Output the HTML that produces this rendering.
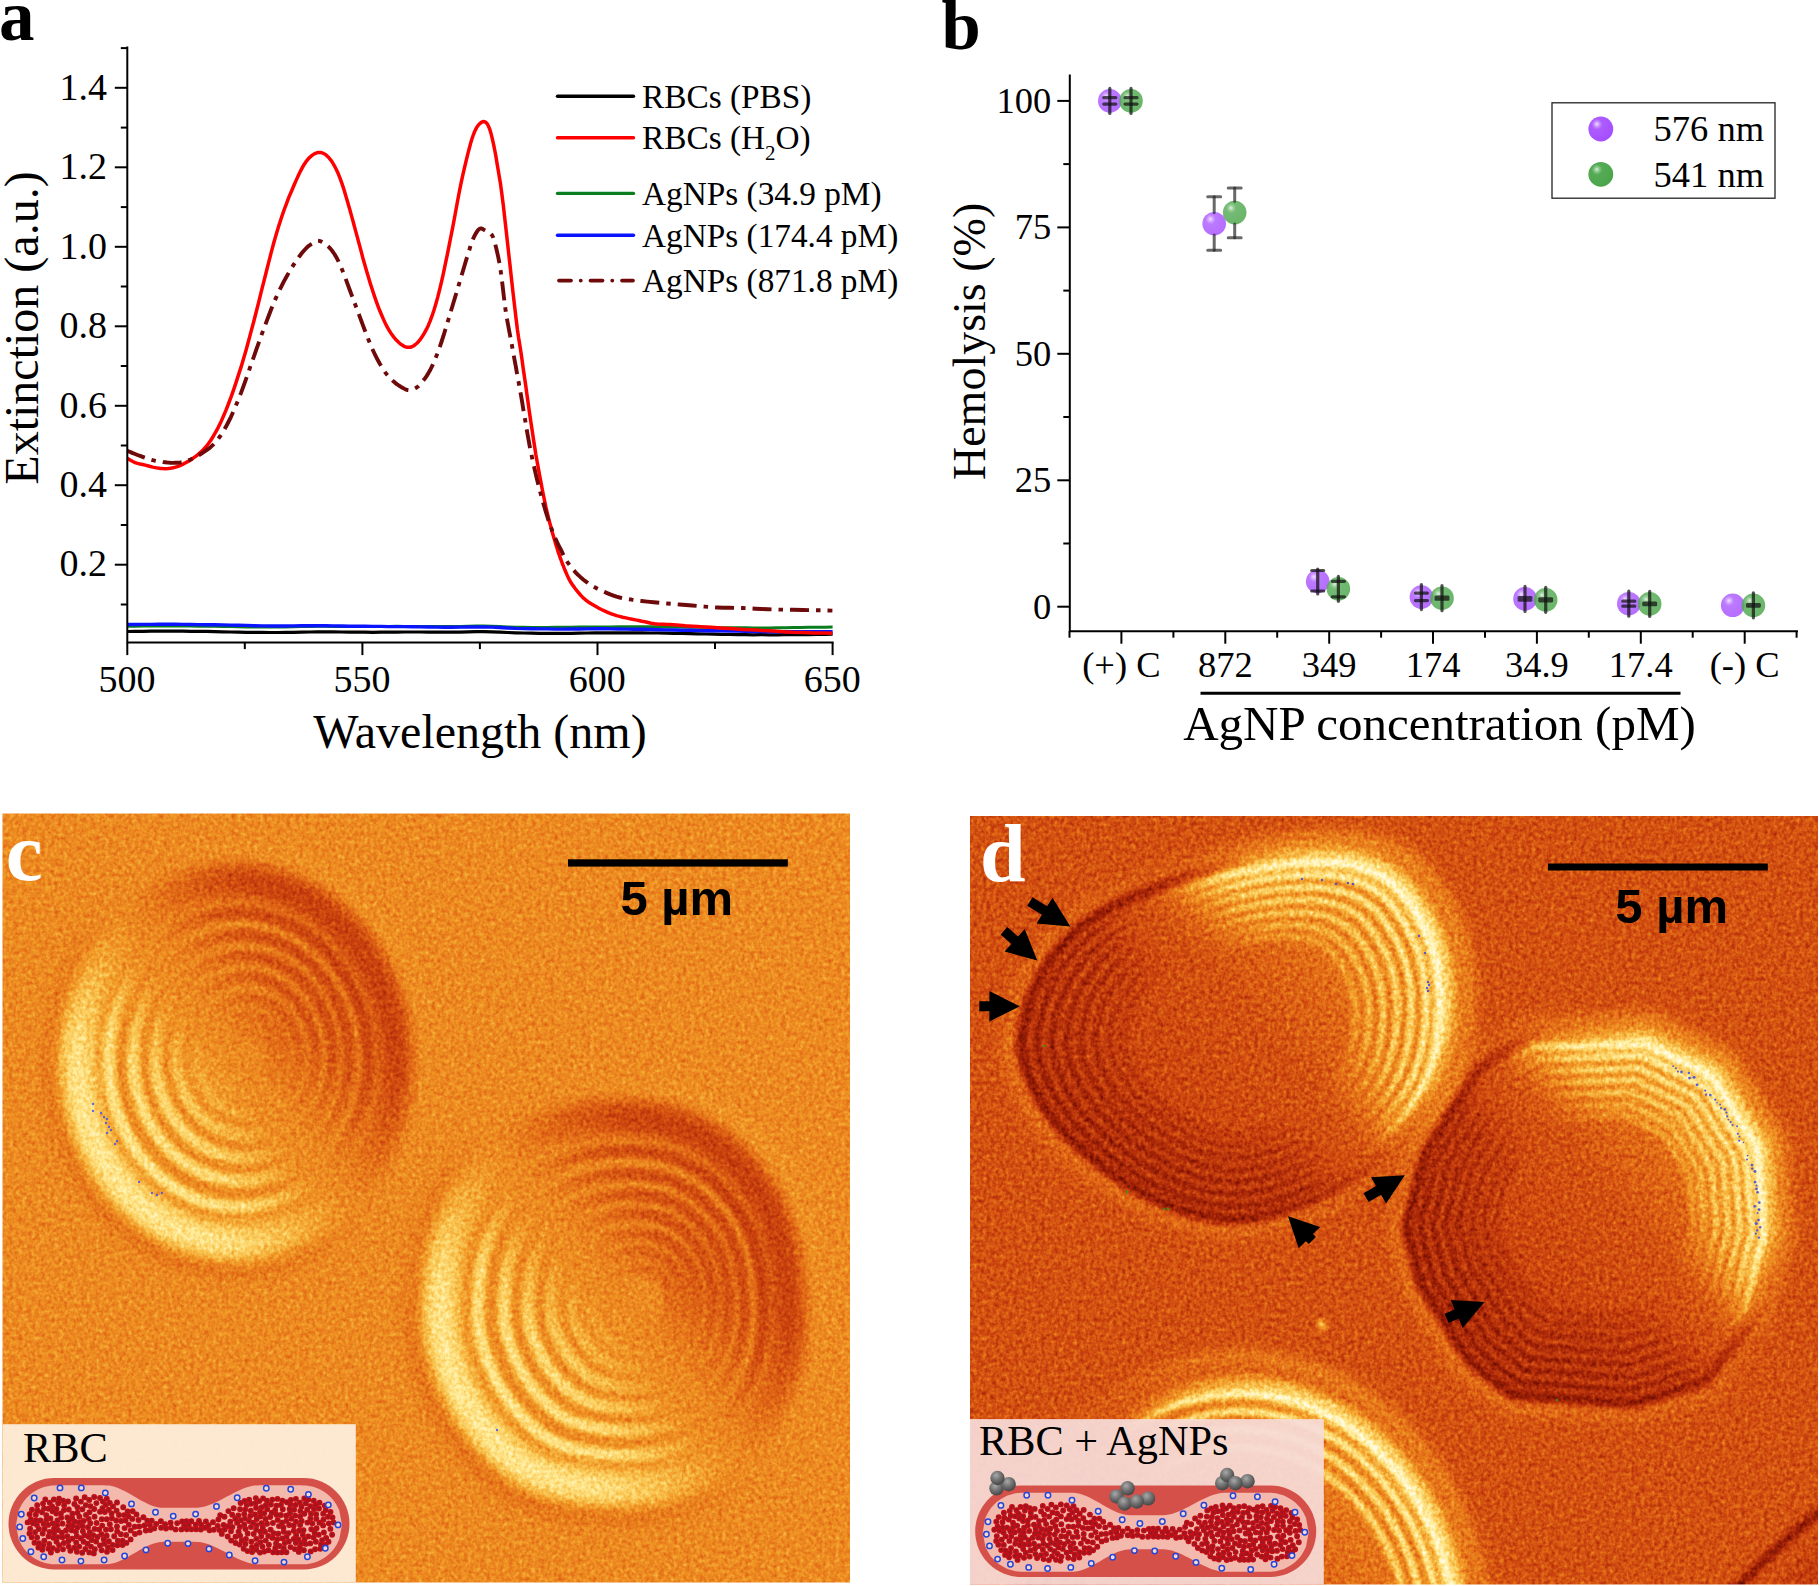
<!DOCTYPE html>
<html lang="en"><head><meta charset="utf-8"><title>Figure: hemolysis and RBC imaging with AgNPs</title>
<style>html,body{margin:0;padding:0;background:#fff}svg{display:block}</style></head>
<body>
<svg width="1820" height="1586" viewBox="0 0 1820 1586">
<rect width="1820" height="1586" fill="#fff"/>
<!-- panel a -->
<g fill="none" stroke-linejoin="round" stroke-linecap="butt">
<path d="M127.3,631.5 L135.2,631.4 L143.1,631.4 L151.1,631.2 L159,631.2 L166.9,631.2 L174.8,631.2 L182.8,631.2 L190.7,631.3 L198.6,631.4 L206.5,631.4 L214.5,631.6 L222.4,631.8 L230.3,632 L238.2,632.2 L246.2,632.3 L254.1,632.4 L262,632.4 L269.9,632.5 L277.9,632.5 L285.8,632.4 L293.7,632.3 L301.6,632.2 L309.6,632 L317.5,631.9 L325.4,631.8 L333.3,631.9 L341.3,632 L349.2,632.1 L357.1,632.1 L365,632.2 L373,632.3 L380.9,632.2 L388.8,632.2 L396.7,632.1 L404.7,632 L412.6,632 L420.5,632 L428.4,632.2 L436.4,632.2 L444.3,632.2 L452.2,632.2 L460.1,632.1 L468.1,631.9 L476,631.7 L483.9,631.6 L491.8,631.8 L499.8,632.2 L507.7,632.5 L515.6,632.8 L523.5,633 L531.5,633.2 L539.4,633.3 L547.3,633.3 L555.2,633.4 L563.2,633.3 L571.1,633.3 L579,633.1 L586.9,633 L594.9,632.8 L602.8,632.8 L610.7,632.9 L618.6,632.8 L626.6,632.9 L634.5,632.9 L642.4,632.9 L650.3,633 L658.3,633 L666.2,633.2 L674.1,633.4 L682,633.5 L690,633.7 L697.9,633.8 L705.8,634 L713.7,634.2 L721.7,634.4 L729.6,634.5 L737.5,634.7 L745.4,634.6 L753.4,634.8 L761.3,634.7 L769.2,634.8 L777.1,634.8 L785.1,634.7 L793,634.7 L800.9,634.7 L808.8,634.6 L816.8,634.5 L824.7,634.3 L832.6,634.1" stroke="#000" stroke-width="3.2"/>
<path d="M127.3,626.3 L135.2,626.2 L143.1,626.1 L151.1,626 L159,626 L166.9,625.9 L174.8,626 L182.8,625.9 L190.7,626 L198.6,626.2 L206.5,626.3 L214.5,626.3 L222.4,626.4 L230.3,626.6 L238.2,626.8 L246.2,626.9 L254.1,627 L262,627 L269.9,627.1 L277.9,627.1 L285.8,627 L293.7,626.8 L301.6,626.6 L309.6,626.5 L317.5,626.3 L325.4,626.3 L333.3,626.4 L341.3,626.5 L349.2,626.5 L357.1,626.6 L365,626.6 L373,626.6 L380.9,626.5 L388.8,626.4 L396.7,626.3 L404.7,626.4 L412.6,626.4 L420.5,626.4 L428.4,626.4 L436.4,626.5 L444.3,626.5 L452.2,626.6 L460.1,626.5 L468.1,626.3 L476,626.1 L483.9,626.1 L491.8,626.2 L499.8,626.6 L507.7,627 L515.6,627.2 L523.5,627.3 L531.5,627.4 L539.4,627.4 L547.3,627.4 L555.2,627.3 L563.2,627.3 L571.1,627.2 L579,627.1 L586.9,627.1 L594.9,627 L602.8,626.9 L610.7,626.9 L618.6,626.8 L626.6,626.7 L634.5,626.7 L642.4,626.7 L650.3,626.7 L658.3,626.8 L666.2,626.9 L674.1,627 L682,627.1 L690,627.2 L697.9,627.3 L705.8,627.3 L713.7,627.6 L721.7,627.7 L729.6,627.7 L737.5,627.8 L745.4,627.8 L753.4,627.9 L761.3,627.9 L769.2,627.9 L777.1,627.8 L785.1,627.7 L793,627.6 L800.9,627.5 L808.8,627.3 L816.8,627.2 L824.7,627.2 L832.6,627.1" stroke="#0a7d1e" stroke-width="3"/>
<path d="M127.3,624.5 L135.2,624.5 L143.1,624.4 L151.1,624.4 L159,624.3 L166.9,624.3 L174.8,624.3 L182.8,624.4 L190.7,624.5 L198.6,624.6 L206.5,624.7 L214.5,624.8 L222.4,624.9 L230.3,625.1 L238.2,625.3 L246.2,625.4 L254.1,625.7 L262,625.9 L269.9,626 L277.9,626 L285.8,626 L293.7,625.9 L301.6,625.8 L309.6,625.7 L317.5,625.7 L325.4,625.8 L333.3,625.9 L341.3,626 L349.2,626.2 L357.1,626.3 L365,626.3 L373,626.4 L380.9,626.4 L388.8,626.6 L396.7,626.6 L404.7,626.6 L412.6,626.8 L420.5,626.9 L428.4,627 L436.4,627.1 L444.3,627.2 L452.2,627.2 L460.1,627.1 L468.1,627 L476,626.9 L483.9,627 L491.8,627.1 L499.8,627.5 L507.7,628 L515.6,628.4 L523.5,628.6 L531.5,628.8 L539.4,628.9 L547.3,628.9 L555.2,629.1 L563.2,629.1 L571.1,629 L579,629 L586.9,628.9 L594.9,628.8 L602.8,628.8 L610.7,628.9 L618.6,629 L626.6,629.1 L634.5,629.2 L642.4,629.3 L650.3,629.5 L658.3,629.7 L666.2,629.9 L674.1,630 L682,630.3 L690,630.3 L697.9,630.5 L705.8,630.7 L713.7,630.8 L721.7,630.9 L729.6,631 L737.5,631.1 L745.4,631.4 L753.4,631.5 L761.3,631.6 L769.2,631.7 L777.1,631.7 L785.1,631.8 L793,631.8 L800.9,631.8 L808.8,631.7 L816.8,631.7 L824.7,631.7 L832.6,631.6" stroke="#0a14ff" stroke-width="3.4"/>
<path d="M127.1,458.3 L128.5,459.1 L130.5,460.3 L132.8,461.5 L135.1,462.6 L137.5,463.4 L140.1,464 L142.7,464.5 L145.2,465.1 L147.7,465.8 L150.3,466.5 L152.8,467.1 L155.3,467.6 L157.8,468.1 L160.4,468.4 L162.9,468.6 L165.4,468.7 L167.9,468.5 L170.4,468.2 L173,467.8 L175.5,467.1 L178,466.3 L180.5,465.3 L183.1,464.1 L185.6,462.8 L188.1,461.4 L190.6,459.9 L193.1,458.2 L195.7,456.3 L198.2,454.3 L200.7,452.2 L203.2,449.8 L205.8,447 L208.3,443.7 L210.8,440.2 L213.3,436.2 L215.8,431.8 L218.4,427.1 L220.9,421.9 L223.4,416.3 L225.9,410.4 L228.4,404 L231,397.2 L233.5,390.1 L236,382.6 L238.5,374.9 L241.1,366.9 L243.6,358.5 L246.1,349.9 L248.6,340.8 L251.1,331.4 L253.7,321.8 L256.2,312 L258.7,302.1 L261.2,291.9 L263.8,281.6 L266.3,271.7 L268.8,261.9 L271.3,252.1 L273.8,242.7 L276.4,233.8 L278.9,225.6 L281.4,217.8 L283.9,210.5 L286.5,203.6 L289,196.9 L291.7,190.7 L294.2,184.8 L296.5,179.6 L298.6,175.1 L300.5,171.1 L302.3,167.6 L304.1,164.5 L306,161.7 L307.9,159.3 L309.8,157.3 L311.7,155.7 L313.6,154.3 L315.5,153.3 L317.4,152.6 L319.2,152.4 L321.1,152.6 L323,153.2 L324.9,154.2 L326.8,155.7 L328.7,157.5 L330.6,159.8 L332.5,162.5 L334.4,165.8 L336.3,169.5 L338.2,173.6 L340.1,178.3 L341.9,183.4 L343.8,189.1 L345.7,195.4 L347.6,202 L349.5,208.6 L351.4,215.4 L353.3,222.3 L355.2,229.4 L357.1,236.4 L359,243.4 L360.9,250.4 L362.7,257.4 L364.6,264.1 L366.5,270.7 L368.4,277.1 L370.3,283.4 L372.2,289.3 L374.1,295.1 L376,300.6 L377.9,305.9 L379.8,310.8 L381.7,315.3 L383.6,319.6 L385.4,323.5 L387.3,327.2 L389.2,330.5 L391.1,333.4 L393,336.1 L394.9,338.5 L396.8,340.6 L398.8,342.5 L400.7,344.1 L402.5,345.3 L404.1,346.3 L405.7,346.9 L407.2,347.3 L408.8,347.3 L410.3,347.2 L411.9,346.8 L413.4,346 L415.1,344.8 L416.9,343.2 L418.8,341.2 L420.7,338.8 L422.6,336 L424.5,332.9 L426.4,329.4 L428.3,325.4 L430.2,320.9 L432.1,315.7 L434,310 L435.9,303.7 L437.8,296.9 L439.7,289.4 L441.6,281.4 L443.5,272.9 L445.3,264.1 L447.2,255.1 L449.1,245.7 L451,236 L452.9,226.3 L454.8,216.2 L456.7,205.8 L458.6,195.5 L460.5,185.9 L462.4,176.8 L464.4,168.1 L466.3,160.1 L468,153.1 L469.5,147.5 L470.7,142.9 L471.9,139 L473.1,135.5 L474.3,132.3 L475.6,129.6 L476.8,127.3 L478.1,125.4 L479.6,123.8 L481,122.6 L482.5,121.8 L483.9,121.6 L485.2,122 L486.4,122.9 L487.6,124.4 L488.7,126.7 L489.9,129.7 L491,133.4 L492.1,137.9 L493.3,143.1 L494.5,149 L495.8,155.7 L497,163.1 L498.3,170.8 L499.4,177.4 L500.4,183.3 L501.6,191.9 L503.4,206.1 L506.1,230 L509.5,260.8 L512.9,291.6 L515.7,315.5 L517.4,329.5 L518.6,337.8 L519.6,343.7 L520.7,350.8 L522,359.6 L523.2,368.4 L524.5,377.3 L525.8,386.1 L527,395 L528.3,403.9 L529.5,412.8 L530.8,421.4 L532.1,429.9 L533.3,438.3 L534.6,446.4 L535.8,454.2 L537.1,461.5 L538.4,468.5 L539.6,475.3 L540.9,481.9 L542.1,488.5 L543.4,495 L544.7,501.3 L545.9,507.2 L547.2,512.6 L548.4,517.7 L549.7,522.6 L551,527.3 L552.2,532 L553.5,536.5 L554.8,540.8 L556,545 L557.3,549 L558.5,552.9 L559.8,556.6 L561.1,560.1 L562.3,563.5 L563.6,566.7 L564.8,569.8 L566.1,572.7 L567.3,575.4 L568.5,577.9 L569.7,580.4 L571.1,582.8 L572.9,585.4 L574.8,588 L576.8,590.6 L578.7,592.9 L580.5,595 L582.3,596.9 L584.2,598.7 L586.3,600.5 L588.6,602.2 L591.2,603.8 L593.8,605.3 L596.4,606.8 L598.9,608.2 L601.4,609.5 L603.9,610.7 L606.5,611.8 L608.9,612.9 L611.3,613.8 L613.8,614.7 L616.5,615.6 L619.5,616.4 L622.7,617.2 L625.9,617.9 L629.2,618.6 L632.3,619.3 L635.5,619.9 L638.6,620.5 L641.8,621.2 L644.9,621.8 L648.1,622.5 L651.2,623.2 L654.4,623.7 L657.5,624 L660.7,624.2 L663.8,624.3 L667,624.4 L670.1,624.6 L673.3,624.8 L676.4,625 L679.6,625.2 L682.5,625.4 L685.1,625.7 L688.2,625.9 L692.2,626.2 L697.6,626.5 L704,626.9 L710.8,627.3 L717.4,627.7 L723.7,628.2 L730,628.6 L736.3,629.1 L742.6,629.5 L749,629.8 L755.3,630.1 L761.6,630.4 L767.9,630.7 L773.8,631.1 L779.6,631.5 L785.8,631.9 L793.1,632.3 L802.9,632.6 L814.3,632.9 L825,633.1 L832.4,633.3" stroke="#ff0000" stroke-width="3.5"/>
<path d="M127.1,450.7 L128.5,451.3 L130.5,452.1 L132.8,453.1 L135.1,454 L137.5,455 L140.1,455.9 L142.7,456.9 L145.2,457.8 L147.7,458.7 L150.3,459.5 L152.8,460.2 L155.3,460.8 L157.8,461.3 L160.4,461.7 L162.9,462.1 L165.4,462.3 L167.9,462.6 L170.4,462.8 L173,462.9 L175.5,462.8 L178,462.7 L180.5,462.4 L183.1,462 L185.6,461.3 L188.1,460.5 L190.6,459.5 L193.1,458.3 L195.7,457 L198.2,455.7 L200.7,454.2 L203.2,452.5 L205.8,450.7 L208.3,448.9 L210.8,446.9 L213.3,444.6 L215.8,441.9 L218.4,438.7 L220.9,435.1 L223.4,431.2 L225.9,426.8 L228.4,422 L231,416.8 L233.5,411.2 L236,405.3 L238.5,399.1 L241.1,392.6 L243.6,385.8 L246.1,378.9 L248.6,371.8 L251.1,364.4 L253.7,357.1 L256.2,349.9 L258.7,342.8 L261.2,335.8 L263.8,328.8 L266.3,322.1 L268.8,315.5 L271.3,309 L273.8,302.8 L276.4,296.9 L278.9,291.4 L281.4,286.3 L283.9,281.4 L286.5,276.7 L289,272.3 L291.5,268.1 L294,264.1 L296.5,260.3 L299.1,256.7 L301.7,253.3 L304.3,250.2 L306.6,247.7 L308.8,245.8 L310.7,244.5 L312.5,243.5 L314.2,242.7 L315.6,241.9 L316.7,241.2 L317.9,240.8 L319.2,240.9 L321,241.4 L322.9,242.4 L324.9,243.7 L326.8,245.2 L328.7,246.9 L330.6,248.9 L332.5,251.3 L334.4,254 L336.3,257.2 L338.2,260.9 L340.1,264.9 L341.9,269.2 L343.8,273.8 L345.7,278.9 L347.6,284.2 L349.5,289.3 L351.4,294.4 L353.3,299.4 L355.2,304.5 L357.1,309.5 L359,314.6 L360.9,319.7 L362.7,324.7 L364.6,329.7 L366.5,334.6 L368.4,339.5 L370.3,344.2 L372.2,348.6 L374.1,352.7 L376,356.6 L377.9,360.3 L379.8,363.7 L381.7,366.9 L383.6,369.9 L385.4,372.6 L387.3,375.1 L389.2,377.3 L391.1,379.3 L393,381 L394.9,382.6 L396.8,384.1 L398.8,385.5 L400.7,386.7 L402.5,387.7 L404.1,388.6 L405.6,389.4 L407.1,390 L408.8,390.2 L410.6,390 L412.6,389.5 L414.5,388.7 L416.3,387.7 L418,386.5 L419.5,385.1 L421,383.4 L422.6,381.4 L424.5,379.1 L426.4,376.4 L428.3,373.4 L430.2,370 L432.1,366.2 L434,361.9 L435.9,357.3 L437.8,352.4 L439.7,347.1 L441.6,341.5 L443.5,335.7 L445.3,329.7 L447.2,323.6 L449.1,317.2 L451,310.8 L452.9,304.5 L454.8,298.2 L456.7,291.9 L458.6,285.5 L460.5,279.2 L462.4,272.7 L464.4,266 L466.3,259.6 L468,254 L469.5,249.4 L470.6,245.5 L471.8,242.1 L473.1,238.9 L474.6,235.7 L476.2,232.8 L477.8,230.4 L479.4,228.8 L481,228.4 L482.5,228.9 L484.1,229.9 L485.7,230.8 L487.3,231.6 L489,232.4 L490.6,233.5 L492,235.1 L493.1,237.1 L494,239.5 L494.8,242.5 L495.8,246.5 L497,251.5 L498.3,257.4 L499.6,264.1 L500.8,271.7 L502,280.7 L503.2,290.9 L504.4,301.2 L505.6,310.4 L506.8,318.2 L508.1,325 L509.3,331.5 L510.6,338.2 L511.9,345.1 L513.1,352.1 L514.4,359 L515.7,365.9 L516.9,372.8 L518.2,379.6 L519.4,386.6 L520.7,393.7 L522,401.1 L523.2,408.8 L524.5,416.5 L525.8,423.9 L527,431.2 L528.3,438.3 L529.5,445.2 L530.8,451.7 L532.1,457.8 L533.3,463.5 L534.6,469 L535.8,474.4 L537.1,479.7 L538.4,484.8 L539.6,489.7 L540.9,494.6 L542.1,499.2 L543.4,503.7 L544.7,508 L545.9,512.2 L547.2,516.2 L548.4,520.1 L549.7,523.8 L551,527.3 L552.2,530.7 L553.5,534 L554.8,537 L556,539.9 L557.3,542.6 L558.5,545.2 L559.8,547.6 L561.1,550 L562.3,552.6 L563.4,555.1 L564.7,557.6 L566.1,560.1 L567.8,562.7 L569.7,565.3 L571.7,567.9 L573.7,570.2 L575.5,572.3 L577.3,574.2 L579.2,575.9 L581.2,577.8 L583.5,579.7 L586,581.6 L588.6,583.5 L591.3,585.3 L594.3,587 L597.5,588.7 L600.7,590.2 L603.9,591.7 L607.1,593.1 L610.2,594.4 L613.4,595.6 L616.5,596.7 L619.7,597.5 L622.8,598.2 L626,598.7 L629.2,599.2 L632,599.7 L634.7,600.1 L637.7,600.5 L641.8,601 L647.2,601.6 L653.6,602.2 L660.4,602.9 L667,603.5 L673.3,604 L679.6,604.5 L685.9,605 L692.2,605.5 L698.5,606.1 L704.8,606.6 L711.1,607.1 L717.4,607.5 L723.7,607.8 L730,607.8 L736.3,607.9 L742.6,608 L749,608.3 L755.3,608.7 L761.6,609 L767.9,609.3 L773.8,609.5 L779.6,609.6 L785.8,609.7 L793.1,609.8 L802.9,610 L814.3,610.2 L825,610.4 L832.4,610.6" stroke="#6e0a0a" stroke-width="3.9" stroke-dasharray="19,7,4.5,7"/>
</g>
<g stroke="#000" stroke-width="2" fill="none">
<path d="M127.3,46.5 V642.6 H833.6"/>
<path d="M127.3,604.5 h-6.5"/>
<path d="M127.3,564.7 h-12.5"/>
<path d="M127.3,525 h-6.5"/>
<path d="M127.3,485.2 h-12.5"/>
<path d="M127.3,445.5 h-6.5"/>
<path d="M127.3,405.8 h-12.5"/>
<path d="M127.3,366 h-6.5"/>
<path d="M127.3,326.3 h-12.5"/>
<path d="M127.3,286.5 h-6.5"/>
<path d="M127.3,246.8 h-12.5"/>
<path d="M127.3,207.1 h-6.5"/>
<path d="M127.3,167.3 h-12.5"/>
<path d="M127.3,127.6 h-6.5"/>
<path d="M127.3,87.8 h-12.5"/>
<path d="M127.3,48.1 h-6.5"/>
<path d="M127.3,642.6 v12.5"/>
<path d="M244.8,642.6 v6.5"/>
<path d="M362.4,642.6 v12.5"/>
<path d="M479.9,642.6 v6.5"/>
<path d="M597.5,642.6 v12.5"/>
<path d="M715,642.6 v6.5"/>
<path d="M832.6,642.6 v12.5"/>
</g>
<g font-family="'Liberation Serif','Times New Roman',serif" font-size="38" fill="#000">
<text x="107" y="576.4" text-anchor="end">0.2</text>
<text x="107" y="496.9" text-anchor="end">0.4</text>
<text x="107" y="417.5" text-anchor="end">0.6</text>
<text x="107" y="338" text-anchor="end">0.8</text>
<text x="107" y="258.5" text-anchor="end">1.0</text>
<text x="107" y="179" text-anchor="end">1.2</text>
<text x="107" y="99.5" text-anchor="end">1.4</text>
<text x="127" y="692" text-anchor="middle">500</text>
<text x="362.1" y="692" text-anchor="middle">550</text>
<text x="597.2" y="692" text-anchor="middle">600</text>
<text x="832.3" y="692" text-anchor="middle">650</text>
</g>
<text x="480" y="748" text-anchor="middle" font-family="'Liberation Serif','Times New Roman',serif" font-size="48">Wavelength (nm)</text>
<text transform="translate(37.5,328) rotate(-90)" text-anchor="middle" font-family="'Liberation Serif','Times New Roman',serif" font-size="48">Extinction (a.u.)</text>
<text x="-1" y="40" font-family="'Liberation Serif','Times New Roman',serif" font-size="71" font-weight="bold">a</text>
<g stroke-width="3.4" fill="none" stroke-linecap="round">
<path d="M557.5,96.2 H633.5" stroke="#000"/>
<path d="M557.5,137.7 H633.5" stroke="#ff0000"/>
<path d="M557.5,193.4 H633.5" stroke="#0a7d1e"/>
<path d="M557.5,235.2 H633.5" stroke="#0a14ff"/>
<path d="M559,280.6 H633" stroke="#6e0a0a" stroke-width="3.8" stroke-dasharray="12,9.7,0.1,9.7" stroke-linecap="round"/>
</g>
<g font-family="'Liberation Serif','Times New Roman',serif" font-size="33.3" fill="#000">
<text x="642" y="107.8">RBCs (PBS)</text>
<text x="642" y="149">RBCs (H<tspan font-size="21" dy="11">2</tspan><tspan dy="-11">O)</tspan></text>
<text x="642" y="204.7">AgNPs (34.9 pM)</text>
<text x="642" y="246.6">AgNPs (174.4 pM)</text>
<text x="642" y="291.8">AgNPs (871.8 pM)</text>
</g>
<!-- panel b -->
<defs><radialGradient id="gp" cx="0.36" cy="0.33" r="0.7" fx="0.34" fy="0.3"><stop offset="0" stop-color="#f0dcff"/><stop offset="0.13" stop-color="#cf9aff"/><stop offset="0.3" stop-color="#ad5cff"/><stop offset="1" stop-color="#a54dff"/></radialGradient><radialGradient id="gg" cx="0.36" cy="0.33" r="0.7" fx="0.34" fy="0.3"><stop offset="0" stop-color="#dff0df"/><stop offset="0.13" stop-color="#8fca8f"/><stop offset="0.3" stop-color="#55ab55"/><stop offset="1" stop-color="#4aa54a"/></radialGradient></defs>
<circle cx="1109.8" cy="100.9" r="11.8" fill="url(#gp)" fill-opacity="0.82"/>
<circle cx="1131" cy="100.9" r="11.8" fill="url(#gg)" fill-opacity="0.82"/>
<g stroke="#111" stroke-opacity="0.72" stroke-width="3.2" stroke-linecap="round" fill="none">
<path d="M1109.8,88.4 V113.4"/>
<path d="M1103.8,97.7 h12 M1103.8,104.1 h12"/>
</g>
<g stroke="#111" stroke-opacity="0.72" stroke-width="3.2" stroke-linecap="round" fill="none">
<path d="M1131,88.4 V113.4"/>
<path d="M1125,97.7 h12 M1125,104.1 h12"/>
</g>
<circle cx="1214.2" cy="223.7" r="11.8" fill="url(#gp)" fill-opacity="0.82"/>
<circle cx="1234.7" cy="212.6" r="11.8" fill="url(#gg)" fill-opacity="0.82"/>
<g stroke="#222" stroke-opacity="0.68" stroke-width="3" stroke-linecap="round" fill="none">
<path d="M1214.2,196.7 V212.4 M1214.2,235 V250.2"/>
<path d="M1207.7,196.7 h13 M1207.7,250.2 h13"/>
</g>
<g stroke="#222" stroke-opacity="0.68" stroke-width="3" stroke-linecap="round" fill="none">
<path d="M1234.7,187.9 V201.3 M1234.7,223.9 V237.8"/>
<path d="M1228.2,187.9 h13 M1228.2,237.8 h13"/>
</g>
<circle cx="1317.7" cy="581.5" r="11.8" fill="url(#gp)" fill-opacity="0.82"/>
<circle cx="1338.4" cy="588.8" r="11.8" fill="url(#gg)" fill-opacity="0.82"/>
<g stroke="#111" stroke-opacity="0.72" stroke-width="3.2" stroke-linecap="round" fill="none">
<path d="M1317.7,569 V594"/>
<path d="M1311.7,570.5 h12 M1311.7,591 h12"/>
</g>
<g stroke="#111" stroke-opacity="0.72" stroke-width="3.2" stroke-linecap="round" fill="none">
<path d="M1338.4,576.3 V601.3"/>
<path d="M1332.4,581.3 h12 M1332.4,596.8 h12"/>
</g>
<circle cx="1421.4" cy="597.1" r="11.8" fill="url(#gp)" fill-opacity="0.82"/>
<circle cx="1442" cy="598.2" r="11.8" fill="url(#gg)" fill-opacity="0.82"/>
<g stroke="#111" stroke-opacity="0.72" stroke-width="3.2" stroke-linecap="round" fill="none">
<path d="M1421.4,584.6 V609.6"/>
<path d="M1415.4,593.1 h12 M1415.4,600.6 h12"/>
</g>
<g stroke="#111" stroke-opacity="0.72" stroke-width="3.2" stroke-linecap="round" fill="none">
<path d="M1442,585.7 V610.7"/>
<path d="M1436,597.2 h12 M1436,599.2 h12"/>
</g>
<circle cx="1525" cy="598.9" r="11.8" fill="url(#gp)" fill-opacity="0.82"/>
<circle cx="1545.7" cy="599.8" r="11.8" fill="url(#gg)" fill-opacity="0.82"/>
<g stroke="#111" stroke-opacity="0.72" stroke-width="3.2" stroke-linecap="round" fill="none">
<path d="M1525,586.4 V611.4"/>
<path d="M1519,597.7 h12 M1519,600.1 h12"/>
</g>
<g stroke="#111" stroke-opacity="0.72" stroke-width="3.2" stroke-linecap="round" fill="none">
<path d="M1545.7,587.3 V612.3"/>
<path d="M1539.7,598.8 h12 M1539.7,600.8 h12"/>
</g>
<circle cx="1628.8" cy="603.7" r="11.8" fill="url(#gp)" fill-opacity="0.82"/>
<circle cx="1649.7" cy="603.9" r="11.8" fill="url(#gg)" fill-opacity="0.82"/>
<g stroke="#111" stroke-opacity="0.72" stroke-width="3.2" stroke-linecap="round" fill="none">
<path d="M1628.8,591.2 V616.2"/>
<path d="M1622.8,601.2 h12 M1622.8,606.2 h12"/>
</g>
<g stroke="#111" stroke-opacity="0.72" stroke-width="3.2" stroke-linecap="round" fill="none">
<path d="M1649.7,591.4 V616.4"/>
<path d="M1643.7,603.1 h12 M1643.7,604.7 h12"/>
</g>
<circle cx="1732.7" cy="605.3" r="11.8" fill="url(#gp)" fill-opacity="0.82"/>
<circle cx="1753.4" cy="605.3" r="11.8" fill="url(#gg)" fill-opacity="0.82"/>
<g stroke="#111" stroke-opacity="0.72" stroke-width="3.2" stroke-linecap="round" fill="none">
<path d="M1753.4,592.8 V617.8"/>
<path d="M1747.4,604.5 h12 M1747.4,606.1 h12"/>
</g>
<g stroke="#000" stroke-width="2" fill="none">
<path d="M1069.8,74.5 V631.2 H1798"/>
<path d="M1069.8,606.7 h-12.5"/>
<path d="M1069.8,543.5 h-6.5"/>
<path d="M1069.8,480.3 h-12.5"/>
<path d="M1069.8,417 h-6.5"/>
<path d="M1069.8,353.8 h-12.5"/>
<path d="M1069.8,290.6 h-6.5"/>
<path d="M1069.8,227.4 h-12.5"/>
<path d="M1069.8,164.1 h-6.5"/>
<path d="M1069.8,100.9 h-12.5"/>
<path d="M1069.5,631.2 v6.5"/>
<path d="M1121.4,631.2 v12.5"/>
<path d="M1173.4,631.2 v6.5"/>
<path d="M1225.3,631.2 v12.5"/>
<path d="M1277.2,631.2 v6.5"/>
<path d="M1329.2,631.2 v12.5"/>
<path d="M1381.1,631.2 v6.5"/>
<path d="M1433,631.2 v12.5"/>
<path d="M1485,631.2 v6.5"/>
<path d="M1536.9,631.2 v12.5"/>
<path d="M1588.8,631.2 v6.5"/>
<path d="M1640.8,631.2 v12.5"/>
<path d="M1692.7,631.2 v6.5"/>
<path d="M1744.7,631.2 v12.5"/>
<path d="M1796.6,631.2 v6.5"/>
</g>
<g font-family="'Liberation Serif','Times New Roman',serif" font-size="36.5" fill="#000">
<text x="1051.3" y="618.7" text-anchor="end">0</text>
<text x="1051.3" y="492.3" text-anchor="end">25</text>
<text x="1051.3" y="365.8" text-anchor="end">50</text>
<text x="1051.3" y="239.4" text-anchor="end">75</text>
<text x="1051.3" y="112.9" text-anchor="end">100</text>
<text x="1121.4" y="676.8" text-anchor="middle">(+) C</text>
<text x="1225.3" y="676.8" text-anchor="middle">872</text>
<text x="1329.1" y="676.8" text-anchor="middle">349</text>
<text x="1433" y="676.8" text-anchor="middle">174</text>
<text x="1536.9" y="676.8" text-anchor="middle">34.9</text>
<text x="1640.8" y="676.8" text-anchor="middle">17.4</text>
<text x="1744.6" y="676.8" text-anchor="middle">(-) C</text>
</g>
<path d="M1200.5,693.2 H1680.5" stroke="#000" stroke-width="3"/>
<text x="1439.5" y="739.5" text-anchor="middle" font-family="'Liberation Serif','Times New Roman',serif" font-size="49">AgNP concentration (pM)</text>
<text transform="translate(984.5,341.4) rotate(-90)" text-anchor="middle" font-family="'Liberation Serif','Times New Roman',serif" font-size="46">Hemolysis (%)</text>
<text x="941.5" y="49.2" font-family="'Liberation Serif','Times New Roman',serif" font-size="70.5" font-weight="bold">b</text>
<rect x="1552" y="102.8" width="223" height="95.4" fill="#fff" stroke="#222" stroke-width="1.3"/>
<circle cx="1600.8" cy="129" r="12.4" fill="url(#gp)"/>
<circle cx="1600.8" cy="174.3" r="12.4" fill="url(#gg)"/>
<g font-family="'Liberation Serif','Times New Roman',serif" font-size="36.5" fill="#000"><text x="1653.5" y="141.3">576 nm</text><text x="1653.5" y="186.8">541 nm</text></g>
<!-- panels c, d -->
<defs><clipPath id="clipC"><rect x="2.5" y="813.4" width="847.5" height="769.2"/></clipPath>
<filter id="cB2" filterUnits="userSpaceOnUse" x="2.5" y="813.4" width="847.5" height="769.2" color-interpolation-filters="sRGB"><feGaussianBlur stdDeviation="2.4"/></filter>
<filter id="cB7" filterUnits="userSpaceOnUse" x="2.5" y="813.4" width="847.5" height="769.2" color-interpolation-filters="sRGB"><feGaussianBlur stdDeviation="7.5"/></filter>
<filter id="lutC" filterUnits="userSpaceOnUse" x="2.5" y="813.4" width="847.5" height="769.2" color-interpolation-filters="sRGB"><feTurbulence type="fractalNoise" baseFrequency="0.22" numOctaves="2" seed="3" result="a"/><feTurbulence type="fractalNoise" baseFrequency="0.31 0.27" numOctaves="2" seed="8" result="b"/><feComposite in="a" in2="b" operator="arithmetic" k1="0" k2="0.5" k3="0.5" k4="0"/><feColorMatrix type="matrix" values="1 0 0 0 0 1 0 0 0 0 1 0 0 0 0 0 0 0 0 1" result="n"/><feComposite in="SourceGraphic" in2="n" operator="arithmetic" k1="0" k2="1" k3="0.43" k4="-0.215"/><feComponentTransfer><feFuncR type="table" tableValues="0.275 0.478 0.659 0.796 0.890 0.945 0.980 1.000 1.000"/><feFuncG type="table" tableValues="0.024 0.071 0.149 0.267 0.424 0.596 0.776 0.918 0.988"/><feFuncB type="table" tableValues="0.000 0.008 0.031 0.059 0.090 0.149 0.322 0.580 0.886"/></feComponentTransfer></filter>
</defs>
<g clip-path="url(#clipC)">
<g filter="url(#lutC)">
<rect x="-2.5" y="808.4" width="857.5" height="779.2" fill="#959595"/>
<defs><linearGradient id="c1g1" gradientUnits="userSpaceOnUse" x1="66" y1="1195" x2="406.4" y2="929"><stop offset="0" stop-color="#000" stop-opacity="0.2"/><stop offset="0.35" stop-color="#000" stop-opacity="0.1"/><stop offset="0.5" stop-color="#000" stop-opacity="0"/><stop offset="0.6" stop-color="#fff" stop-opacity="0"/><stop offset="1" stop-color="#fff" stop-opacity="0.14"/></linearGradient></defs>
<g fill="none" stroke="url(#c1g1)" stroke-linejoin="round" filter="url(#cB7)">
<path d="M419.2,1062 417.7,1089.1 413,1115.8 405.3,1141.6 394.7,1166 381.4,1188.6 365.6,1209.1 347.6,1227 327.7,1242.1 306.2,1254.2 283.6,1262.9 260.1,1268.2 236.2,1270 212.3,1268.2 188.8,1262.9 166.2,1254.2 144.7,1242.1 124.8,1227 106.8,1209.1 91,1188.6 77.7,1166 67.1,1141.6 59.4,1115.8 54.7,1089.1 53.2,1062 54.7,1034.9 59.4,1008.2 67.1,982.4 77.7,958 91,935.4 106.8,914.9 124.8,897 144.7,881.9 166.2,869.8 188.8,861.1 212.3,855.8 236.2,854 260.1,855.8 283.6,861.1 306.2,869.8 327.7,881.9 347.6,897 365.6,914.9 381.4,935.4 394.7,958 405.3,982.4 413,1008.2 417.7,1034.9Z" stroke-width="12"/>
</g>
<defs><linearGradient id="c1g2" gradientUnits="userSpaceOnUse" x1="78.6" y1="1185.1" x2="393.8" y2="938.9"><stop offset="0" stop-color="#fff" stop-opacity="0.72"/><stop offset="0.2" stop-color="#fff" stop-opacity="0.63"/><stop offset="0.4" stop-color="#fff" stop-opacity="0.2"/><stop offset="0.5" stop-color="#fff" stop-opacity="0"/><stop offset="0.52" stop-color="#000" stop-opacity="0"/><stop offset="0.62" stop-color="#000" stop-opacity="0.14"/><stop offset="0.8" stop-color="#000" stop-opacity="0.36"/><stop offset="1" stop-color="#000" stop-opacity="0.4"/></linearGradient></defs>
<g fill="none" stroke="url(#c1g2)" stroke-linejoin="round" filter="url(#cB7)">
<path d="M394.6,1062 393.2,1085.5 389.2,1108.6 382.5,1130.9 373.4,1152 361.9,1171.6 348.2,1189.3 332.6,1204.8 315.4,1217.9 296.8,1228.3 277.2,1235.9 256.9,1240.5 236.2,1242 215.5,1240.5 195.2,1235.9 175.6,1228.3 157,1217.9 139.8,1204.8 124.2,1189.3 110.5,1171.6 99,1152 89.9,1130.9 83.2,1108.6 79.2,1085.5 77.8,1062 79.2,1038.5 83.2,1015.4 89.9,993.1 99,972 110.5,952.4 124.2,934.7 139.8,919.2 157,906.1 175.6,895.7 195.2,888.1 215.5,883.5 236.2,882 256.9,883.5 277.2,888.1 296.8,895.7 315.4,906.1 332.6,919.2 348.2,934.7 361.9,952.4 373.4,972 382.5,993.1 389.2,1015.4 393.2,1038.5Z" stroke-width="34"/>
</g>
<defs><linearGradient id="c1g3" gradientUnits="userSpaceOnUse" x1="78.6" y1="1185.1" x2="393.8" y2="938.9"><stop offset="0" stop-color="#fff" stop-opacity="0.78"/><stop offset="0.3" stop-color="#fff" stop-opacity="0.55"/><stop offset="0.46" stop-color="#fff" stop-opacity="0.06"/><stop offset="0.5" stop-color="#fff" stop-opacity="0"/><stop offset="0.54" stop-color="#000" stop-opacity="0.04"/><stop offset="0.7" stop-color="#000" stop-opacity="0.28"/><stop offset="1" stop-color="#000" stop-opacity="0.42"/></linearGradient></defs>
<g fill="none" stroke="url(#c1g3)" stroke-linejoin="round" filter="url(#cB2)">
<path d="M367.6,1060 366.5,1079.2 363.2,1098 357.7,1116.3 350.2,1133.5 340.8,1149.5 329.7,1163.9 316.9,1176.6 302.9,1187.3 287.7,1195.8 271.7,1202 255.1,1205.7 238.2,1207 221.3,1205.7 204.7,1202 188.7,1195.8 173.5,1187.3 159.5,1176.6 146.7,1163.9 135.6,1149.5 126.2,1133.5 118.7,1116.3 113.2,1098 109.9,1079.2 108.8,1060 109.9,1040.8 113.2,1022 118.7,1003.7 126.2,986.5 135.6,970.5 146.7,956.1 159.5,943.4 173.5,932.7 188.7,924.2 204.7,918 221.3,914.3 238.2,913 255.1,914.3 271.7,918 287.7,924.2 302.9,932.7 316.9,943.4 329.7,956.1 340.8,970.5 350.2,986.5 357.7,1003.7 363.2,1022 366.5,1040.8Z" stroke-width="12.5"/>
<path d="M349.4,1058 348.5,1074.1 345.8,1089.8 341.2,1105.1 334.9,1119.5 327.1,1132.9 317.7,1145 307.1,1155.6 295.3,1164.5 282.6,1171.6 269.2,1176.8 255.3,1179.9 241.2,1181 227.1,1179.9 213.2,1176.8 199.8,1171.6 187.1,1164.5 175.3,1155.6 164.7,1145 155.3,1132.9 147.5,1119.5 141.2,1105.1 136.6,1089.8 133.9,1074.1 133,1058 133.9,1041.9 136.6,1026.2 141.2,1010.9 147.5,996.5 155.3,983.1 164.7,971 175.3,960.4 187.1,951.5 199.8,944.4 213.2,939.2 227.1,936.1 241.2,935 255.3,936.1 269.2,939.2 282.6,944.4 295.3,951.5 307.1,960.4 317.7,971 327.1,983.1 334.9,996.5 341.2,1010.9 345.8,1026.2 348.5,1041.9Z" stroke-width="12.5"/>
<path d="M333.1,1057 332.3,1070.2 330.1,1083.1 326.3,1095.7 321.2,1107.5 314.7,1118.5 307,1128.4 298.3,1137.1 288.6,1144.5 278.2,1150.3 267.2,1154.6 255.8,1157.1 244.2,1158 232.6,1157.1 221.2,1154.6 210.2,1150.3 199.8,1144.5 190.1,1137.1 181.4,1128.4 173.7,1118.5 167.2,1107.5 162.1,1095.7 158.3,1083.1 156.1,1070.2 155.3,1057 156.1,1043.8 158.3,1030.9 162.1,1018.3 167.2,1006.5 173.7,995.5 181.4,985.6 190.1,976.9 199.8,969.5 210.2,963.7 221.2,959.4 232.6,956.9 244.2,956 255.8,956.9 267.2,959.4 278.2,963.7 288.6,969.5 298.3,976.9 307,985.6 314.7,995.5 321.2,1006.5 326.3,1018.3 330.1,1030.9 332.3,1043.8Z" stroke-width="12.5"/>
<path d="M315.7,1056 315.1,1066.3 313.4,1076.4 310.4,1086.2 306.4,1095.5 301.4,1104.1 295.4,1111.9 288.5,1118.7 281,1124.4 272.8,1129 264.2,1132.3 255.3,1134.3 246.2,1135 237.1,1134.3 228.2,1132.3 219.6,1129 211.4,1124.4 203.9,1118.7 197,1111.9 191,1104.1 186,1095.5 182,1086.2 179,1076.4 177.3,1066.3 176.7,1056 177.3,1045.7 179,1035.6 182,1025.8 186,1016.5 191,1007.9 197,1000.1 203.9,993.3 211.4,987.6 219.6,983 228.2,979.7 237.1,977.7 246.2,977 255.3,977.7 264.2,979.7 272.8,983 281,987.6 288.5,993.3 295.4,1000.1 301.4,1007.9 306.4,1016.5 310.4,1025.8 313.4,1035.6 315.1,1045.7Z" stroke-width="12.5"/>
<path d="M299.2,1056 298.8,1063.6 297.5,1071 295.4,1078.2 292.4,1085 288.7,1091.3 284.3,1097 279.3,1102 273.7,1106.2 267.7,1109.6 261.4,1112 254.9,1113.5 248.2,1114 241.5,1113.5 235,1112 228.7,1109.6 222.7,1106.2 217.1,1102 212.1,1097 207.7,1091.3 204,1085 201,1078.2 198.9,1071 197.6,1063.6 197.2,1056 197.6,1048.4 198.9,1041 201,1033.8 204,1027 207.7,1020.7 212.1,1015 217.1,1010 222.7,1005.8 228.7,1002.4 235,1000 241.5,998.5 248.2,998 254.9,998.5 261.4,1000 267.7,1002.4 273.7,1005.8 279.3,1010 284.3,1015 288.7,1020.7 292.4,1027 295.4,1033.8 297.5,1041 298.8,1048.4Z" stroke-width="12.5"/>
<path d="M284.4,1056 284.1,1061.2 283.2,1066.4 281.7,1071.3 279.7,1076 277.1,1080.4 274.1,1084.3 270.6,1087.7 266.8,1090.6 262.7,1093 258.3,1094.6 253.8,1095.7 249.2,1096 244.6,1095.7 240.1,1094.6 235.7,1093 231.6,1090.6 227.8,1087.7 224.3,1084.3 221.3,1080.4 218.7,1076 216.7,1071.3 215.2,1066.4 214.3,1061.2 214,1056 214.3,1050.8 215.2,1045.6 216.7,1040.7 218.7,1036 221.3,1031.6 224.3,1027.7 227.8,1024.3 231.6,1021.4 235.7,1019 240.1,1017.4 244.6,1016.3 249.2,1016 253.8,1016.3 258.3,1017.4 262.7,1019 266.8,1021.4 270.6,1024.3 274.1,1027.7 277.1,1031.6 279.7,1036 281.7,1040.7 283.2,1045.6 284.1,1050.8Z" stroke-width="12.5"/>
<path d="M271.3,1056 271.1,1059.1 270.6,1062.2 269.7,1065.2 268.5,1068 267,1070.6 265.1,1073 263.1,1075 260.8,1076.8 258.3,1078.2 255.7,1079.2 253,1079.8 250.2,1080 247.4,1079.8 244.7,1079.2 242.1,1078.2 239.6,1076.8 237.3,1075 235.3,1073 233.4,1070.6 231.9,1068 230.7,1065.2 229.8,1062.2 229.3,1059.1 229.1,1056 229.3,1052.9 229.8,1049.8 230.7,1046.8 231.9,1044 233.4,1041.4 235.3,1039 237.3,1037 239.6,1035.2 242.1,1033.8 244.7,1032.8 247.4,1032.2 250.2,1032 253,1032.2 255.7,1032.8 258.3,1033.8 260.8,1035.2 263.1,1037 265.1,1039 267,1041.4 268.5,1044 269.7,1046.8 270.6,1049.8 271.1,1052.9Z" stroke-width="12.5"/>
</g>
<defs><linearGradient id="c2g4" gradientUnits="userSpaceOnUse" x1="435.5" y1="1443.4" x2="792.5" y2="1164.6"><stop offset="0" stop-color="#000" stop-opacity="0.2"/><stop offset="0.35" stop-color="#000" stop-opacity="0.1"/><stop offset="0.5" stop-color="#000" stop-opacity="0"/><stop offset="0.6" stop-color="#fff" stop-opacity="0"/><stop offset="1" stop-color="#fff" stop-opacity="0.14"/></linearGradient></defs>
<g fill="none" stroke="url(#c2g4)" stroke-linejoin="round" filter="url(#cB7)">
<path d="M414.3,1304 415.1,1287.8 416.4,1270 418.8,1251.4 422.6,1232.9 428.3,1215.3 436.1,1198.1 445.6,1180.7 456.7,1163.9 469,1148.4 482.2,1135.1 496.5,1123.9 512.1,1114.3 528.7,1106.4 546.1,1099.9 564.1,1095 583.3,1091.6 604,1089.7 625,1089.3 645.3,1090.4 663.9,1092.9 680.6,1096.7 696.2,1102 710.8,1108.7 724.6,1116.9 737.8,1126.7 750.7,1138.2 763.2,1151.5 774.8,1166.2 785.1,1182 793.7,1198.4 800.5,1216 805.6,1235 809.4,1254.6 812.1,1274.3 813.7,1293.4 814.5,1312 814.4,1330.6 813.1,1348.9 810.3,1366.8 805.7,1384.2 799.1,1401.5 790.6,1418.8 780.7,1435.5 769.7,1450.9 757.8,1464.5 744.9,1476.2 730.9,1486.6 715.8,1495.5 700.1,1502.9 683.9,1508.8 666.8,1512.9 648.6,1515.4 630,1516.4 611.6,1516.2 594,1515.1 577.1,1513.3 560.4,1510.5 544.2,1506.5 528.7,1501.1 514.2,1494 500.5,1484.8 487.4,1473.5 475.2,1461 464.1,1447.9 454.3,1434.9 445.7,1421.9 438.3,1408.3 432,1394.5 426.7,1380.7 422.3,1367.3 418.8,1354.8 416.3,1342.9 414.8,1331 414.1,1318.2Z" stroke-width="12"/>
</g>
<defs><linearGradient id="c2g5" gradientUnits="userSpaceOnUse" x1="448.7" y1="1433.1" x2="779.3" y2="1174.9"><stop offset="0" stop-color="#fff" stop-opacity="0.72"/><stop offset="0.2" stop-color="#fff" stop-opacity="0.63"/><stop offset="0.4" stop-color="#fff" stop-opacity="0.2"/><stop offset="0.5" stop-color="#fff" stop-opacity="0"/><stop offset="0.52" stop-color="#000" stop-opacity="0"/><stop offset="0.62" stop-color="#000" stop-opacity="0.14"/><stop offset="0.8" stop-color="#000" stop-opacity="0.36"/><stop offset="1" stop-color="#000" stop-opacity="0.4"/></linearGradient></defs>
<g fill="none" stroke="url(#c2g5)" stroke-linejoin="round" filter="url(#cB7)">
<path d="M441.2,1304 441.8,1289.9 443,1274.5 445.1,1258.5 448.4,1242.5 453.3,1227.3 460,1212.4 468.3,1197.3 477.9,1182.8 488.5,1169.4 500,1157.8 512.3,1148.1 525.8,1139.9 540.2,1133 555.2,1127.4 570.8,1123.1 587.4,1120.2 605.3,1118.5 623.5,1118.2 641.1,1119.2 657.2,1121.3 671.7,1124.6 685.1,1129.2 697.8,1135 709.7,1142.1 721.1,1150.5 732.3,1160.5 743.1,1172 753.2,1184.8 762.1,1198.4 769.5,1212.7 775.4,1227.9 779.8,1244.3 783.1,1261.3 785.4,1278.3 786.8,1294.9 787.5,1311 787.4,1327 786.3,1342.8 783.9,1358.4 779.9,1373.4 774.2,1388.4 766.9,1403.3 758.3,1417.8 748.7,1431.1 738.4,1442.9 727.3,1453 715.1,1462 702.1,1469.7 688.5,1476.1 674.5,1481.2 659.7,1484.8 644,1486.9 627.9,1487.8 611.9,1487.7 596.7,1486.7 582.1,1485.1 567.6,1482.7 553.6,1479.2 540.2,1474.6 527.6,1468.4 515.7,1460.4 504.5,1450.7 493.9,1439.8 484.3,1428.5 475.8,1417.3 468.4,1406 462,1394.2 456.5,1382.3 451.9,1370.4 448.1,1358.8 445.1,1348 442.9,1337.7 441.6,1327.3 441,1316.3Z" stroke-width="34"/>
</g>
<defs><linearGradient id="c2g6" gradientUnits="userSpaceOnUse" x1="448.7" y1="1433.1" x2="779.3" y2="1174.9"><stop offset="0" stop-color="#fff" stop-opacity="0.78"/><stop offset="0.3" stop-color="#fff" stop-opacity="0.55"/><stop offset="0.46" stop-color="#fff" stop-opacity="0.06"/><stop offset="0.5" stop-color="#fff" stop-opacity="0"/><stop offset="0.54" stop-color="#000" stop-opacity="0.04"/><stop offset="0.7" stop-color="#000" stop-opacity="0.28"/><stop offset="1" stop-color="#000" stop-opacity="0.42"/></linearGradient></defs>
<g fill="none" stroke="url(#c2g6)" stroke-linejoin="round" filter="url(#cB2)">
<path d="M477.9,1304 478.5,1292.4 479.4,1279.8 481.1,1266.6 483.8,1253.4 487.9,1240.9 493.4,1228.6 500.2,1216.3 508.1,1204.3 516.8,1193.3 526.2,1183.8 536.4,1175.9 547.5,1169.1 559.3,1163.4 571.7,1158.8 584.5,1155.3 598.2,1152.8 612.9,1151.5 627.8,1151.2 642.3,1152 655.5,1153.8 667.4,1156.5 678.5,1160.3 688.9,1165 698.7,1170.9 708.1,1177.8 717.3,1186 726.2,1195.5 734.4,1206 741.8,1217.2 747.9,1228.9 752.7,1241.4 756.4,1254.9 759.1,1268.9 760.9,1282.9 762.1,1296.5 762.7,1309.7 762.6,1322.9 761.7,1335.9 759.7,1348.7 756.4,1361.1 751.7,1373.4 745.7,1385.7 738.6,1397.5 730.8,1408.5 722.3,1418.2 713.1,1426.5 703.1,1433.9 692.5,1440.3 681.3,1445.5 669.7,1449.7 657.6,1452.7 644.6,1454.4 631.4,1455.1 618.3,1455 605.8,1454.2 593.7,1452.9 581.9,1450.9 570.3,1448.1 559.3,1444.2 549,1439.2 539.2,1432.6 529.9,1424.6 521.3,1415.7 513.4,1406.4 506.3,1397.1 500.2,1387.9 495,1378.2 490.5,1368.4 486.7,1358.6 483.6,1349.1 481.1,1340.1 479.4,1331.7 478.2,1323.2 477.8,1314.1Z" stroke-width="12.5"/>
<path d="M504,1303 504.5,1293.2 505.3,1282.5 506.7,1271.4 509,1260.3 512.4,1249.7 517.1,1239.4 522.8,1228.9 529.5,1218.8 536.9,1209.5 544.8,1201.5 553.4,1194.8 562.8,1189 572.7,1184.2 583.2,1180.4 594,1177.4 605.6,1175.3 618,1174.2 630.6,1174 642.8,1174.6 654,1176.1 664.1,1178.4 673.4,1181.6 682.2,1185.6 690.5,1190.6 698.4,1196.4 706.2,1203.4 713.7,1211.4 720.6,1220.2 726.8,1229.7 732,1239.6 736.1,1250.1 739.2,1261.5 741.4,1273.3 743,1285.2 744,1296.7 744.5,1307.8 744.4,1319 743.7,1330 742,1340.7 739.2,1351.2 735.2,1361.6 730.2,1372 724.2,1382 717.5,1391.3 710.4,1399.4 702.7,1406.5 694.2,1412.7 685.2,1418.1 675.7,1422.5 666,1426.1 655.7,1428.6 644.8,1430 633.6,1430.6 622.6,1430.5 612,1429.9 601.8,1428.8 591.8,1427.1 582,1424.7 572.7,1421.5 564,1417.2 555.8,1411.6 547.9,1404.9 540.6,1397.3 533.9,1389.5 528,1381.7 522.9,1373.8 518.4,1365.7 514.6,1357.4 511.4,1349.1 508.8,1341.1 506.7,1333.5 505.2,1326.4 504.3,1319.2 503.9,1311.5Z" stroke-width="12.5"/>
<path d="M528.2,1302 528.5,1293.9 529.2,1285 530.4,1275.7 532.3,1266.5 535.1,1257.7 539,1249.1 543.8,1240.4 549.4,1232 555.5,1224.2 562.1,1217.6 569.3,1212 577,1207.2 585.3,1203.2 594.1,1200 603,1197.5 612.7,1195.8 623,1194.8 633.5,1194.7 643.7,1195.2 653,1196.4 661.3,1198.4 669.1,1201 676.4,1204.3 683.3,1208.4 689.9,1213.3 696.4,1219.1 702.6,1225.8 708.4,1233.1 713.6,1241 717.9,1249.2 721.2,1258 723.8,1267.5 725.7,1277.3 727,1287.2 727.8,1296.7 728.3,1306 728.2,1315.3 727.6,1324.4 726.1,1333.4 723.8,1342.1 720.5,1350.8 716.3,1359.4 711.4,1367.7 705.8,1375.4 699.9,1382.2 693.5,1388.1 686.4,1393.3 678.9,1397.8 671.1,1401.5 662.9,1404.4 654.4,1406.5 645.3,1407.7 636,1408.2 626.8,1408.1 618,1407.6 609.5,1406.6 601.2,1405.2 593.1,1403.3 585.3,1400.6 578.1,1397 571.2,1392.4 564.7,1386.8 558.6,1380.5 553.1,1373.9 548.1,1367.4 543.8,1360.9 540.2,1354.1 537,1347.2 534.4,1340.4 532.2,1333.7 530.4,1327.4 529.2,1321.5 528.4,1315.5 528.1,1309.1Z" stroke-width="12.5"/>
<path d="M551.4,1301 551.7,1294.4 552.2,1287.2 553.2,1279.8 554.7,1272.3 557,1265.2 560.1,1258.2 564,1251.2 568.5,1244.4 573.4,1238.2 578.8,1232.8 584.6,1228.3 590.8,1224.4 597.6,1221.2 604.6,1218.6 611.8,1216.6 619.6,1215.2 627.9,1214.5 636.4,1214.3 644.7,1214.7 652.2,1215.7 658.9,1217.3 665.2,1219.4 671.1,1222.1 676.7,1225.4 682,1229.4 687.2,1234 692.2,1239.4 696.9,1245.4 701.1,1251.7 704.6,1258.4 707.3,1265.5 709.4,1273.1 710.9,1281.1 712,1289 712.6,1296.7 713,1304.2 712.9,1311.7 712.4,1319.1 711.3,1326.4 709.4,1333.4 706.7,1340.4 703.3,1347.4 699.3,1354.1 694.9,1360.3 690.1,1365.8 684.9,1370.6 679.2,1374.7 673.1,1378.3 666.8,1381.3 660.2,1383.7 653.3,1385.4 646,1386.4 638.5,1386.8 631,1386.7 623.9,1386.3 617.1,1385.5 610.4,1384.4 603.8,1382.8 597.6,1380.6 591.7,1377.7 586.1,1374 580.9,1369.5 576,1364.4 571.5,1359.1 567.5,1353.9 564,1348.6 561,1343.1 558.5,1337.5 556.4,1332 554.6,1326.6 553.2,1321.5 552.2,1316.7 551.5,1311.9 551.3,1306.7Z" stroke-width="12.5"/>
<path d="M572.6,1301 572.8,1295.9 573.3,1290.4 574,1284.6 575.2,1278.8 577,1273.3 579.4,1267.9 582.4,1262.5 585.8,1257.2 589.7,1252.4 593.8,1248.2 598.3,1244.7 603.2,1241.7 608.3,1239.2 613.8,1237.2 619.4,1235.7 625.4,1234.6 631.9,1234 638.4,1233.9 644.8,1234.2 650.6,1235 655.8,1236.2 660.7,1237.9 665.2,1240 669.6,1242.5 673.7,1245.6 677.7,1249.2 681.6,1253.4 685.2,1257.9 688.5,1262.9 691.2,1268 693.3,1273.5 694.9,1279.4 696.1,1285.6 696.9,1291.7 697.4,1297.7 697.7,1303.5 697.6,1309.3 697.2,1315 696.3,1320.6 694.9,1326.1 692.8,1331.5 690.2,1336.9 687.1,1342.1 683.6,1346.9 679.9,1351.1 675.9,1354.8 671.5,1358.1 666.8,1360.8 661.9,1363.2 656.8,1365 651.5,1366.3 645.8,1367.1 640,1367.4 634.3,1367.3 628.8,1367 623.5,1366.4 618.3,1365.5 613.2,1364.3 608.3,1362.6 603.8,1360.4 599.5,1357.5 595.4,1354 591.6,1350.1 588.2,1346 585.1,1341.9 582.4,1337.8 580.1,1333.6 578.1,1329.3 576.5,1325 575.1,1320.8 574,1316.9 573.2,1313.2 572.7,1309.4 572.5,1305.4Z" stroke-width="12.5"/>
<path d="M590.9,1301 591.1,1297.3 591.4,1293.1 591.9,1288.9 592.8,1284.6 594.1,1280.5 595.9,1276.6 598.1,1272.5 600.7,1268.7 603.5,1265.1 606.6,1262 609.9,1259.4 613.5,1257.2 617.3,1255.4 621.3,1253.9 625.5,1252.8 629.9,1252 634.7,1251.5 639.5,1251.5 644.2,1251.7 648.5,1252.3 652.4,1253.2 656,1254.4 659.3,1255.9 662.5,1257.8 665.6,1260.1 668.5,1262.7 671.4,1265.8 674.1,1269.2 676.5,1272.8 678.5,1276.6 680,1280.7 681.2,1285.1 682.1,1289.6 682.7,1294.2 683.1,1298.6 683.3,1302.9 683.2,1307.1 682.9,1311.4 682.3,1315.5 681.2,1319.5 679.7,1323.5 677.8,1327.5 675.5,1331.3 672.9,1334.9 670.2,1338 667.2,1340.7 664,1343.1 660.5,1345.2 656.9,1346.9 653.1,1348.3 649.2,1349.2 645,1349.8 640.7,1350 636.5,1350 632.4,1349.7 628.5,1349.3 624.6,1348.6 620.9,1347.7 617.3,1346.5 614,1344.8 610.8,1342.7 607.8,1340.1 605,1337.2 602.4,1334.2 600.1,1331.2 598.2,1328.2 596.5,1325.1 595,1321.9 593.8,1318.7 592.8,1315.6 592,1312.7 591.4,1310 591,1307.2 590.9,1304.3Z" stroke-width="12.5"/>
<path d="M608.3,1301 608.4,1298.5 608.6,1295.8 609,1292.9 609.6,1290.1 610.4,1287.4 611.6,1284.7 613.1,1282 614.8,1279.4 616.7,1277.1 618.7,1275 620.9,1273.3 623.3,1271.8 625.9,1270.6 628.6,1269.6 631.3,1268.8 634.3,1268.3 637.5,1268 640.7,1268 643.8,1268.1 646.7,1268.5 649.3,1269.1 651.6,1269.9 653.9,1271 656,1272.2 658,1273.7 660,1275.5 662,1277.5 663.7,1279.8 665.3,1282.2 666.6,1284.8 667.7,1287.5 668.5,1290.4 669.1,1293.4 669.5,1296.4 669.7,1299.4 669.8,1302.2 669.8,1305.1 669.6,1307.9 669.2,1310.7 668.5,1313.3 667.5,1316 666.2,1318.7 664.6,1321.2 662.9,1323.6 661.1,1325.7 659.1,1327.5 657,1329.1 654.7,1330.5 652.2,1331.6 649.8,1332.5 647.1,1333.1 644.3,1333.5 641.5,1333.7 638.6,1333.6 635.9,1333.5 633.3,1333.2 630.8,1332.8 628.3,1332.2 625.9,1331.3 623.6,1330.2 621.5,1328.8 619.5,1327.1 617.7,1325.1 615.9,1323.1 614.4,1321.1 613.1,1319.1 612,1317 611,1314.9 610.2,1312.8 609.5,1310.7 609,1308.8 608.6,1307 608.4,1305.1 608.3,1303.2Z" stroke-width="12.5"/>
</g>
</g>
<g fill="#4a50e8" fill-opacity="0.85">
<circle cx="93" cy="1104" r="1.2"/>
<circle cx="93" cy="1111" r="1.2"/>
<circle cx="101" cy="1113" r="1.2"/>
<circle cx="104" cy="1117" r="1.2"/>
<circle cx="107" cy="1119" r="1.2"/>
<circle cx="106" cy="1123" r="1.2"/>
<circle cx="109" cy="1127" r="1.2"/>
<circle cx="111" cy="1130" r="1.2"/>
<circle cx="107" cy="1133" r="1.2"/>
<circle cx="115" cy="1144" r="1.2"/>
<circle cx="117" cy="1141" r="1.2"/>
<circle cx="139" cy="1182" r="1.2"/>
<circle cx="152" cy="1193" r="1.2"/>
<circle cx="157" cy="1195" r="1.2"/>
<circle cx="162" cy="1193" r="1.2"/>
<circle cx="497" cy="1430" r="1.2"/>
</g>
<rect x="568" y="859.3" width="219.8" height="7.3" fill="#000"/>
<text x="676.8" y="915.4" text-anchor="middle" font-family="'Liberation Sans',Arial,Helvetica,sans-serif" font-weight="bold" font-size="49" fill="#000">5 µm</text>
<text x="5.8" y="880.3" font-family="'Liberation Serif','Times New Roman',serif" font-weight="bold" font-size="83" fill="#fff">c</text>
<rect x="2.5" y="1424.2" width="353.3" height="158.6" fill="#fdecd8" fill-opacity="0.96"/>
<text x="23" y="1461.8" font-family="'Liberation Serif','Times New Roman',serif" font-size="42.3" fill="#000">RBC</text>
<rect x="8.5" y="1478.1" width="341" height="91.5" rx="45.8" ry="45.8" fill="#d6504a"/>
<path d="M16,1524.8 18.7,1510.4 21.5,1504.8 24.2,1500.7 27,1497.5 29.7,1494.9 32.4,1492.8 35.2,1491 37.9,1489.5 40.7,1488.2 43.4,1487.3 46.1,1486.5 48.9,1485.9 51.6,1485.5 54.4,1485.4 57.1,1485.3 59.8,1485.3 62.6,1485.3 65.3,1485.3 68.1,1485.3 70.8,1485.3 73.5,1485.3 76.3,1485.3 79,1485.3 81.7,1485.3 84.5,1485.3 87.2,1485.3 90,1485.3 92.7,1485.3 95.4,1485.3 98.2,1485.3 100.9,1485.3 103.7,1485.3 106.4,1485.4 109.1,1485.6 111.9,1486.1 114.6,1486.8 117.4,1487.8 120.1,1488.9 122.8,1490.2 125.6,1491.6 128.3,1493.1 131.1,1494.6 133.8,1496.2 136.5,1497.8 139.3,1499.4 142,1500.9 144.8,1502.3 147.5,1503.7 150.2,1504.9 153,1505.9 155.7,1506.7 158.5,1507.4 161.2,1507.7 163.9,1507.8 166.7,1507.8 169.4,1507.8 172.2,1507.8 174.9,1507.8 177.6,1507.8 180.4,1507.8 183.1,1507.8 185.8,1507.8 188.6,1507.8 191.3,1507.8 194.1,1507.8 196.8,1507.8 199.5,1507.6 202.3,1507.1 205,1506.5 207.8,1505.6 210.5,1504.6 213.2,1503.5 216,1502.3 218.7,1500.9 221.5,1499.5 224.2,1498.1 226.9,1496.6 229.7,1495.2 232.4,1493.7 235.2,1492.3 237.9,1491 240.6,1489.8 243.4,1488.6 246.1,1487.6 248.9,1486.8 251.6,1486.1 254.3,1485.6 257.1,1485.4 259.8,1485.3 262.6,1485.3 265.3,1485.3 268,1485.3 270.8,1485.3 273.5,1485.3 276.3,1485.3 279,1485.3 281.7,1485.3 284.5,1485.3 287.2,1485.3 289.9,1485.3 292.7,1485.3 295.4,1485.3 298.2,1485.3 300.9,1485.3 303.6,1485.4 306.4,1485.5 309.1,1485.9 311.9,1486.5 314.6,1487.3 317.3,1488.2 320.1,1489.5 322.8,1491 325.6,1492.8 328.3,1494.9 331,1497.5 333.8,1500.7 336.5,1504.8 339.3,1510.4 342,1524.8 342,1524.8 339.3,1539.3 336.5,1544.9 333.8,1549 331,1552.2 328.3,1554.8 325.6,1556.9 322.8,1558.7 320.1,1560.2 317.3,1561.5 314.6,1562.4 311.9,1563.2 309.1,1563.8 306.4,1564.2 303.6,1564.3 300.9,1564.3 298.2,1564.3 295.4,1564.3 292.7,1564.3 289.9,1564.3 287.2,1564.3 284.5,1564.3 281.7,1564.3 279,1564.3 276.3,1564.3 273.5,1564.3 270.8,1564.3 268,1564.3 265.3,1564.3 262.6,1564.3 259.8,1564.3 257.1,1564.3 254.3,1564.1 251.6,1563.6 248.9,1562.9 246.1,1562.1 243.4,1561.1 240.6,1559.9 237.9,1558.7 235.2,1557.4 232.4,1556 229.7,1554.5 226.9,1553.1 224.2,1551.6 221.5,1550.2 218.7,1548.8 216,1547.4 213.2,1546.2 210.5,1545.1 207.8,1544.1 205,1543.2 202.3,1542.6 199.5,1542.1 196.8,1541.9 194.1,1541.8 191.3,1541.8 188.6,1541.8 185.8,1541.8 183.1,1541.8 180.4,1541.8 177.6,1541.8 174.9,1541.8 172.2,1541.8 169.4,1541.8 166.7,1541.8 163.9,1541.8 161.2,1542 158.5,1542.3 155.7,1543 153,1543.8 150.2,1544.8 147.5,1546 144.8,1547.4 142,1548.8 139.3,1550.3 136.5,1551.9 133.8,1553.5 131.1,1555.1 128.3,1556.6 125.6,1558.1 122.8,1559.5 120.1,1560.8 117.4,1561.9 114.6,1562.9 111.9,1563.6 109.1,1564.1 106.4,1564.3 103.7,1564.3 100.9,1564.3 98.2,1564.3 95.4,1564.3 92.7,1564.3 90,1564.3 87.2,1564.3 84.5,1564.3 81.7,1564.3 79,1564.3 76.3,1564.3 73.5,1564.3 70.8,1564.3 68.1,1564.3 65.3,1564.3 62.6,1564.3 59.8,1564.3 57.1,1564.3 54.4,1564.3 51.6,1564.2 48.9,1563.8 46.1,1563.2 43.4,1562.4 40.7,1561.5 37.9,1560.2 35.2,1558.7 32.4,1556.9 29.7,1554.8 27,1552.2 24.2,1549 21.5,1544.9 18.7,1539.3 16,1524.8Z" fill="#f3b9ad"/>
<g fill="#8f1a2a" stroke="#bf0f16" stroke-width="1.7">
<circle cx="160.9" cy="1521.2" r="2.1"/>
<circle cx="195.7" cy="1524.8" r="2.1"/>
<circle cx="156.1" cy="1524" r="2.1"/>
<circle cx="89.8" cy="1532.3" r="2.1"/>
<circle cx="119" cy="1515" r="2.1"/>
<circle cx="217.7" cy="1525.9" r="2.1"/>
<circle cx="68.3" cy="1526.1" r="2.1"/>
<circle cx="83.6" cy="1541.7" r="2.1"/>
<circle cx="289.2" cy="1525" r="2.1"/>
<circle cx="286.9" cy="1502.2" r="2.1"/>
<circle cx="182.1" cy="1521.5" r="2.1"/>
<circle cx="66" cy="1530.4" r="2.1"/>
<circle cx="96.4" cy="1503.1" r="2.1"/>
<circle cx="94.6" cy="1516.8" r="2.1"/>
<circle cx="170.6" cy="1522.7" r="2.1"/>
<circle cx="223.6" cy="1524.9" r="2.1"/>
<circle cx="270.6" cy="1529.8" r="2.1"/>
<circle cx="76.8" cy="1536.3" r="2.1"/>
<circle cx="323.1" cy="1525.4" r="2.1"/>
<circle cx="300.1" cy="1516.6" r="2.1"/>
<circle cx="201.1" cy="1524.7" r="2.1"/>
<circle cx="161.1" cy="1527.8" r="2.1"/>
<circle cx="191.4" cy="1529.3" r="2.1"/>
<circle cx="139.5" cy="1532.6" r="2.1"/>
<circle cx="151.7" cy="1520.6" r="2.1"/>
<circle cx="102.9" cy="1501.6" r="2.1"/>
<circle cx="332.1" cy="1534.8" r="2.1"/>
<circle cx="261.8" cy="1507.2" r="2.1"/>
<circle cx="117" cy="1526.5" r="2.1"/>
<circle cx="136.5" cy="1514.4" r="2.1"/>
<circle cx="328.8" cy="1523.5" r="2.1"/>
<circle cx="106.7" cy="1519.3" r="2.1"/>
<circle cx="282.4" cy="1538.4" r="2.1"/>
<circle cx="143.4" cy="1517.3" r="2.1"/>
<circle cx="271.8" cy="1512.7" r="2.1"/>
<circle cx="205.9" cy="1521.5" r="2.1"/>
<circle cx="230.3" cy="1521.7" r="2.1"/>
<circle cx="134.7" cy="1526.7" r="2.1"/>
<circle cx="325.7" cy="1510.1" r="2.1"/>
<circle cx="123.2" cy="1507.2" r="2.1"/>
<circle cx="253.7" cy="1534" r="2.1"/>
<circle cx="224.7" cy="1529.5" r="2.1"/>
<circle cx="79.3" cy="1546.6" r="2.1"/>
<circle cx="265.8" cy="1505.2" r="2.1"/>
<circle cx="293.8" cy="1539" r="2.1"/>
<circle cx="94.8" cy="1549.2" r="2.1"/>
<circle cx="108" cy="1547.3" r="2.1"/>
<circle cx="213.8" cy="1529.7" r="2.1"/>
<circle cx="218.4" cy="1519.5" r="2.1"/>
<circle cx="208.5" cy="1525.2" r="2.1"/>
<circle cx="102.5" cy="1508.2" r="2.1"/>
<circle cx="60.9" cy="1513.4" r="2.1"/>
<circle cx="30.1" cy="1528.7" r="2.1"/>
<circle cx="56.3" cy="1513.6" r="2.1"/>
<circle cx="286.4" cy="1552.2" r="2.1"/>
<circle cx="42" cy="1512.2" r="2.1"/>
<circle cx="224.5" cy="1516.8" r="2.1"/>
<circle cx="294.1" cy="1509.8" r="2.1"/>
<circle cx="272.3" cy="1499.6" r="2.1"/>
<circle cx="97.5" cy="1536.9" r="2.1"/>
<circle cx="53.9" cy="1499.5" r="2.1"/>
<circle cx="43" cy="1503.6" r="2.1"/>
<circle cx="40.4" cy="1520.4" r="2.1"/>
<circle cx="232.2" cy="1514.7" r="2.1"/>
<circle cx="296" cy="1521.6" r="2.1"/>
<circle cx="265.7" cy="1540.6" r="2.1"/>
<circle cx="181.4" cy="1529.4" r="2.1"/>
<circle cx="128.9" cy="1524.7" r="2.1"/>
<circle cx="256.8" cy="1545" r="2.1"/>
<circle cx="154.2" cy="1528.4" r="2.1"/>
<circle cx="29.6" cy="1514.3" r="2.1"/>
<circle cx="315.7" cy="1504.7" r="2.1"/>
<circle cx="88.7" cy="1518.9" r="2.1"/>
<circle cx="311.3" cy="1529.2" r="2.1"/>
<circle cx="308.4" cy="1536.4" r="2.1"/>
<circle cx="94.2" cy="1497" r="2.1"/>
<circle cx="296.1" cy="1535.1" r="2.1"/>
<circle cx="315.9" cy="1541.7" r="2.1"/>
<circle cx="67.3" cy="1517.4" r="2.1"/>
<circle cx="91" cy="1546.6" r="2.1"/>
<circle cx="270.2" cy="1517" r="2.1"/>
<circle cx="282.8" cy="1509.2" r="2.1"/>
<circle cx="251.3" cy="1541.7" r="2.1"/>
<circle cx="245.9" cy="1538.9" r="2.1"/>
<circle cx="128.5" cy="1516.3" r="2.1"/>
<circle cx="314.6" cy="1532.8" r="2.1"/>
<circle cx="145.8" cy="1530.5" r="2.1"/>
<circle cx="267" cy="1523.8" r="2.1"/>
<circle cx="106.7" cy="1535.7" r="2.1"/>
<circle cx="328" cy="1516.7" r="2.1"/>
<circle cx="63.9" cy="1543" r="2.1"/>
<circle cx="80.9" cy="1501.6" r="2.1"/>
<circle cx="246.7" cy="1505" r="2.1"/>
<circle cx="298.8" cy="1551.9" r="2.1"/>
<circle cx="54" cy="1528.6" r="2.1"/>
<circle cx="82.6" cy="1526.2" r="2.1"/>
<circle cx="126.4" cy="1542.9" r="2.1"/>
<circle cx="240.1" cy="1535.8" r="2.1"/>
<circle cx="288.6" cy="1533.1" r="2.1"/>
<circle cx="49.6" cy="1532" r="2.1"/>
<circle cx="301.2" cy="1543.2" r="2.1"/>
<circle cx="188.7" cy="1525" r="2.1"/>
<circle cx="177.2" cy="1523.2" r="2.1"/>
<circle cx="31.6" cy="1537.3" r="2.1"/>
<circle cx="35.9" cy="1520.2" r="2.1"/>
<circle cx="56.4" cy="1508.9" r="2.1"/>
<circle cx="316.3" cy="1518.7" r="2.1"/>
<circle cx="304.3" cy="1513.7" r="2.1"/>
<circle cx="323.9" cy="1532.5" r="2.1"/>
<circle cx="130.6" cy="1539.4" r="2.1"/>
<circle cx="239.9" cy="1526.9" r="2.1"/>
<circle cx="316.6" cy="1528.3" r="2.1"/>
<circle cx="104.8" cy="1512" r="2.1"/>
<circle cx="79.4" cy="1516.7" r="2.1"/>
<circle cx="89.2" cy="1500" r="2.1"/>
<circle cx="57.1" cy="1525.2" r="2.1"/>
<circle cx="48.4" cy="1548.7" r="2.1"/>
<circle cx="90.3" cy="1523.3" r="2.1"/>
<circle cx="113" cy="1506.4" r="2.1"/>
<circle cx="238.6" cy="1531.6" r="2.1"/>
<circle cx="122.6" cy="1540.7" r="2.1"/>
<circle cx="102.2" cy="1525.6" r="2.1"/>
<circle cx="235.3" cy="1518.8" r="2.1"/>
<circle cx="37.1" cy="1537.5" r="2.1"/>
<circle cx="46.3" cy="1515.3" r="2.1"/>
<circle cx="240.1" cy="1509.2" r="2.1"/>
<circle cx="108.9" cy="1541.3" r="2.1"/>
<circle cx="295.9" cy="1498.9" r="2.1"/>
<circle cx="94.6" cy="1528.9" r="2.1"/>
<circle cx="37.5" cy="1510.4" r="2.1"/>
<circle cx="256.7" cy="1519" r="2.1"/>
<circle cx="124.6" cy="1528.1" r="2.1"/>
<circle cx="175.6" cy="1529.4" r="2.1"/>
<circle cx="57.3" cy="1550.3" r="2.1"/>
<circle cx="130.7" cy="1530.4" r="2.1"/>
<circle cx="74.9" cy="1521.8" r="2.1"/>
<circle cx="166" cy="1528.5" r="2.1"/>
<circle cx="227.7" cy="1536.5" r="2.1"/>
<circle cx="319" cy="1508.5" r="2.1"/>
<circle cx="328.5" cy="1541.8" r="2.1"/>
<circle cx="307.4" cy="1522.6" r="2.1"/>
<circle cx="240.9" cy="1520.2" r="2.1"/>
<circle cx="42.7" cy="1533.5" r="2.1"/>
<circle cx="139.3" cy="1526.5" r="2.1"/>
<circle cx="108.8" cy="1509.8" r="2.1"/>
<circle cx="117.9" cy="1540.8" r="2.1"/>
<circle cx="310.7" cy="1551.4" r="2.1"/>
<circle cx="87.5" cy="1543.8" r="2.1"/>
<circle cx="49.2" cy="1544" r="2.1"/>
<circle cx="120.9" cy="1534.2" r="2.1"/>
<circle cx="276.4" cy="1505.6" r="2.1"/>
<circle cx="312.4" cy="1523.4" r="2.1"/>
<circle cx="101.6" cy="1550.3" r="2.1"/>
<circle cx="277.3" cy="1539.3" r="2.1"/>
<circle cx="69" cy="1521.6" r="2.1"/>
<circle cx="58.2" cy="1503.2" r="2.1"/>
<circle cx="333.5" cy="1522.5" r="2.1"/>
<circle cx="261.2" cy="1536.3" r="2.1"/>
<circle cx="52.5" cy="1511.2" r="2.1"/>
<circle cx="277.5" cy="1552.4" r="2.1"/>
<circle cx="43.2" cy="1545.2" r="2.1"/>
<circle cx="250.3" cy="1516" r="2.1"/>
<circle cx="302.9" cy="1535" r="2.1"/>
<circle cx="256.2" cy="1529.7" r="2.1"/>
<circle cx="267" cy="1500.7" r="2.1"/>
<circle cx="61.9" cy="1532.8" r="2.1"/>
<circle cx="124" cy="1515.1" r="2.1"/>
<circle cx="58" cy="1530.1" r="2.1"/>
<circle cx="250.8" cy="1510.8" r="2.1"/>
<circle cx="289.7" cy="1508.9" r="2.1"/>
<circle cx="109.8" cy="1524.3" r="2.1"/>
<circle cx="138.5" cy="1520" r="2.1"/>
<circle cx="279.7" cy="1546" r="2.1"/>
<circle cx="330.4" cy="1528.9" r="2.1"/>
<circle cx="101.8" cy="1519.2" r="2.1"/>
<circle cx="249" cy="1521" r="2.1"/>
<circle cx="82.9" cy="1531.3" r="2.1"/>
<circle cx="48.1" cy="1524.9" r="2.1"/>
<circle cx="304.3" cy="1498.5" r="2.1"/>
<circle cx="315.1" cy="1549.2" r="2.1"/>
<circle cx="76.2" cy="1542.4" r="2.1"/>
<circle cx="270.9" cy="1504.5" r="2.1"/>
<circle cx="82.4" cy="1509.2" r="2.1"/>
<circle cx="273.1" cy="1552.3" r="2.1"/>
<circle cx="82.2" cy="1552.7" r="2.1"/>
<circle cx="245.4" cy="1543.9" r="2.1"/>
<circle cx="144.4" cy="1525.4" r="2.1"/>
<circle cx="112.7" cy="1544.9" r="2.1"/>
<circle cx="262.8" cy="1527.4" r="2.1"/>
<circle cx="247.7" cy="1533.5" r="2.1"/>
<circle cx="132.7" cy="1511.2" r="2.1"/>
<circle cx="165.1" cy="1524.3" r="2.1"/>
<circle cx="27.6" cy="1522.4" r="2.1"/>
<circle cx="72.4" cy="1513.7" r="2.1"/>
<circle cx="149.9" cy="1525.1" r="2.1"/>
<circle cx="109.8" cy="1502.9" r="2.1"/>
<circle cx="228.4" cy="1511.1" r="2.1"/>
<circle cx="233.7" cy="1508.3" r="2.1"/>
<circle cx="321" cy="1544.5" r="2.1"/>
<circle cx="74.3" cy="1547.7" r="2.1"/>
<circle cx="52.9" cy="1548.1" r="2.1"/>
<circle cx="277.7" cy="1519.9" r="2.1"/>
<circle cx="232.3" cy="1526.9" r="2.1"/>
<circle cx="288.9" cy="1541.5" r="2.1"/>
<circle cx="111.9" cy="1518.3" r="2.1"/>
<circle cx="310.4" cy="1518.4" r="2.1"/>
<circle cx="77.4" cy="1527.5" r="2.1"/>
<circle cx="323.2" cy="1513.8" r="2.1"/>
<circle cx="239.7" cy="1544.6" r="2.1"/>
<circle cx="286.2" cy="1515.8" r="2.1"/>
<circle cx="282.5" cy="1500.8" r="2.1"/>
<circle cx="67.3" cy="1536.2" r="2.1"/>
<circle cx="324.7" cy="1505.6" r="2.1"/>
<circle cx="261.5" cy="1523.2" r="2.1"/>
<circle cx="117.4" cy="1545.3" r="2.1"/>
<circle cx="186.8" cy="1529.2" r="2.1"/>
<circle cx="260.1" cy="1511.7" r="2.1"/>
<circle cx="44.3" cy="1540.8" r="2.1"/>
<circle cx="132.3" cy="1518.9" r="2.1"/>
<circle cx="283.8" cy="1531.8" r="2.1"/>
<circle cx="305.6" cy="1543.9" r="2.1"/>
<circle cx="200.8" cy="1529.5" r="2.1"/>
<circle cx="96.1" cy="1541.5" r="2.1"/>
<circle cx="88.6" cy="1536.7" r="2.1"/>
<circle cx="307.2" cy="1509.7" r="2.1"/>
<circle cx="310.3" cy="1543.4" r="2.1"/>
<circle cx="256.1" cy="1507.7" r="2.1"/>
<circle cx="259.4" cy="1501.1" r="2.1"/>
<circle cx="290.5" cy="1547.1" r="2.1"/>
<circle cx="71.6" cy="1530.2" r="2.1"/>
<circle cx="282.1" cy="1522.7" r="2.1"/>
<circle cx="106" cy="1529.7" r="2.1"/>
<circle cx="249.1" cy="1499.6" r="2.1"/>
<circle cx="126.1" cy="1535" r="2.1"/>
<circle cx="70.4" cy="1550.7" r="2.1"/>
<circle cx="147.3" cy="1520.8" r="2.1"/>
<circle cx="313.8" cy="1500.8" r="2.1"/>
<circle cx="84.4" cy="1535.3" r="2.1"/>
<circle cx="301.5" cy="1506.8" r="2.1"/>
<circle cx="293.8" cy="1530.7" r="2.1"/>
<circle cx="267.2" cy="1509.3" r="2.1"/>
<circle cx="50.4" cy="1518.4" r="2.1"/>
<circle cx="29.5" cy="1533.5" r="2.1"/>
<circle cx="279" cy="1526.1" r="2.1"/>
<circle cx="300.1" cy="1525" r="2.1"/>
<circle cx="53.4" cy="1537.8" r="2.1"/>
<circle cx="100" cy="1545.4" r="2.1"/>
<circle cx="235.5" cy="1536.7" r="2.1"/>
<circle cx="280.9" cy="1504.9" r="2.1"/>
<circle cx="262.5" cy="1546.8" r="2.1"/>
<circle cx="121.1" cy="1521" r="2.1"/>
<circle cx="64.1" cy="1505.3" r="2.1"/>
<circle cx="116.6" cy="1510.8" r="2.1"/>
<circle cx="135" cy="1534" r="2.1"/>
<circle cx="251" cy="1503.8" r="2.1"/>
<circle cx="219.4" cy="1530.1" r="2.1"/>
<circle cx="294.9" cy="1549.1" r="2.1"/>
<circle cx="318.7" cy="1534.8" r="2.1"/>
<circle cx="243.7" cy="1548.8" r="2.1"/>
<circle cx="326.1" cy="1537.9" r="2.1"/>
<circle cx="101.4" cy="1534.2" r="2.1"/>
<circle cx="68.8" cy="1509.5" r="2.1"/>
<circle cx="186.4" cy="1521.2" r="2.1"/>
<circle cx="38.9" cy="1529" r="2.1"/>
<circle cx="100" cy="1511.7" r="2.1"/>
<circle cx="268.3" cy="1536" r="2.1"/>
<circle cx="86" cy="1514.9" r="2.1"/>
<circle cx="117.2" cy="1531.5" r="2.1"/>
<circle cx="64" cy="1510.1" r="2.1"/>
<circle cx="295.2" cy="1515.6" r="2.1"/>
<circle cx="59.1" cy="1545.3" r="2.1"/>
<circle cx="238.3" cy="1515.4" r="2.1"/>
<circle cx="303.9" cy="1550.2" r="2.1"/>
<circle cx="36.9" cy="1525" r="2.1"/>
<circle cx="221.8" cy="1533.9" r="2.1"/>
<circle cx="191.3" cy="1521.3" r="2.1"/>
<circle cx="49.8" cy="1502.8" r="2.1"/>
<circle cx="256.3" cy="1549.7" r="2.1"/>
<circle cx="310.4" cy="1506.1" r="2.1"/>
<circle cx="280.9" cy="1515" r="2.1"/>
<circle cx="114.2" cy="1536.2" r="2.1"/>
<circle cx="231.2" cy="1540.6" r="2.1"/>
<circle cx="300.3" cy="1511" r="2.1"/>
<circle cx="231" cy="1531.2" r="2.1"/>
<circle cx="89.5" cy="1512.3" r="2.1"/>
<circle cx="127.6" cy="1511.4" r="2.1"/>
<circle cx="268.3" cy="1550.3" r="2.1"/>
<circle cx="68.7" cy="1546.6" r="2.1"/>
<circle cx="319.4" cy="1522.8" r="2.1"/>
<circle cx="110.9" cy="1529.3" r="2.1"/>
<circle cx="283.8" cy="1548.1" r="2.1"/>
<circle cx="35.8" cy="1514.8" r="2.1"/>
<circle cx="72.2" cy="1538.7" r="2.1"/>
<circle cx="245.5" cy="1529" r="2.1"/>
<circle cx="125.5" cy="1520.5" r="2.1"/>
<circle cx="256.3" cy="1538.9" r="2.1"/>
<circle cx="273.7" cy="1533.2" r="2.1"/>
<circle cx="37.2" cy="1505.3" r="2.1"/>
<circle cx="38.9" cy="1543.2" r="2.1"/>
<circle cx="45.3" cy="1499.5" r="2.1"/>
<circle cx="68" cy="1501.5" r="2.1"/>
<circle cx="90.4" cy="1506.1" r="2.1"/>
<circle cx="303.5" cy="1530.2" r="2.1"/>
<circle cx="314" cy="1509.1" r="2.1"/>
<circle cx="251" cy="1527" r="2.1"/>
<circle cx="171" cy="1527.5" r="2.1"/>
<circle cx="290.9" cy="1499.9" r="2.1"/>
<circle cx="332.5" cy="1517.5" r="2.1"/>
<circle cx="62.5" cy="1523.6" r="2.1"/>
<circle cx="316.1" cy="1514.3" r="2.1"/>
<circle cx="74.4" cy="1504" r="2.1"/>
<circle cx="94.2" cy="1509" r="2.1"/>
<circle cx="240.6" cy="1503" r="2.1"/>
<circle cx="56.5" cy="1541.7" r="2.1"/>
<circle cx="89.3" cy="1552.4" r="2.1"/>
<circle cx="244.2" cy="1514.1" r="2.1"/>
<circle cx="50.9" cy="1552.5" r="2.1"/>
<circle cx="275.2" cy="1509.9" r="2.1"/>
<circle cx="286.4" cy="1520.9" r="2.1"/>
<circle cx="76.9" cy="1551.7" r="2.1"/>
<circle cx="57.4" cy="1520.4" r="2.1"/>
<circle cx="213" cy="1522.2" r="2.1"/>
<circle cx="268.9" cy="1544.7" r="2.1"/>
<circle cx="265.6" cy="1519" r="2.1"/>
<circle cx="272.9" cy="1523" r="2.1"/>
<circle cx="32.9" cy="1523.4" r="2.1"/>
<circle cx="241.8" cy="1540.5" r="2.1"/>
<circle cx="253.1" cy="1522.8" r="2.1"/>
<circle cx="260" cy="1552.6" r="2.1"/>
<circle cx="43.6" cy="1523.9" r="2.1"/>
<circle cx="48.5" cy="1508.8" r="2.1"/>
<circle cx="103.7" cy="1539.3" r="2.1"/>
<circle cx="265" cy="1531.7" r="2.1"/>
<circle cx="255.8" cy="1498.1" r="2.1"/>
<circle cx="252" cy="1547.2" r="2.1"/>
<circle cx="77.4" cy="1507.3" r="2.1"/>
<circle cx="319.5" cy="1502.7" r="2.1"/>
<circle cx="61.2" cy="1517.8" r="2.1"/>
<circle cx="111.6" cy="1513.5" r="2.1"/>
<circle cx="298.5" cy="1539.5" r="2.1"/>
<circle cx="330.5" cy="1512" r="2.1"/>
<circle cx="313.6" cy="1537.5" r="2.1"/>
<circle cx="252.1" cy="1552.1" r="2.1"/>
<circle cx="63" cy="1549.2" r="2.1"/>
<circle cx="295.6" cy="1504.9" r="2.1"/>
<circle cx="35" cy="1532.3" r="2.1"/>
<circle cx="264.2" cy="1513.3" r="2.1"/>
<circle cx="85.8" cy="1505.1" r="2.1"/>
<circle cx="32" cy="1509.7" r="2.1"/>
<circle cx="62.4" cy="1537.3" r="2.1"/>
<circle cx="255.6" cy="1503.3" r="2.1"/>
<circle cx="293.7" cy="1525.5" r="2.1"/>
<circle cx="308.4" cy="1499.6" r="2.1"/>
<circle cx="299.1" cy="1530.8" r="2.1"/>
<circle cx="44.5" cy="1528.9" r="2.1"/>
<circle cx="205" cy="1527.7" r="2.1"/>
<circle cx="96.6" cy="1523" r="2.1"/>
<circle cx="291.4" cy="1518.8" r="2.1"/>
<circle cx="278.3" cy="1533.8" r="2.1"/>
<circle cx="311" cy="1513.8" r="2.1"/>
<circle cx="76.1" cy="1498.5" r="2.1"/>
<circle cx="52.7" cy="1523.4" r="2.1"/>
<circle cx="106.8" cy="1498.7" r="2.1"/>
<circle cx="305.9" cy="1503.3" r="2.1"/>
<circle cx="48.6" cy="1536.4" r="2.1"/>
<circle cx="196.1" cy="1529.2" r="2.1"/>
<circle cx="283.4" cy="1527.4" r="2.1"/>
<circle cx="117" cy="1502.5" r="2.1"/>
<circle cx="235.6" cy="1543" r="2.1"/>
<circle cx="322.1" cy="1540.3" r="2.1"/>
<circle cx="277.5" cy="1498.9" r="2.1"/>
<circle cx="247.6" cy="1551.1" r="2.1"/>
<circle cx="112.6" cy="1550.1" r="2.1"/>
<circle cx="30.9" cy="1519.3" r="2.1"/>
<circle cx="244.2" cy="1524.7" r="2.1"/>
<circle cx="59.1" cy="1498.7" r="2.1"/>
<circle cx="105.7" cy="1504.9" r="2.1"/>
<circle cx="100" cy="1498" r="2.1"/>
<circle cx="79.3" cy="1522.5" r="2.1"/>
<circle cx="276.1" cy="1543.5" r="2.1"/>
<circle cx="184.2" cy="1525.6" r="2.1"/>
<circle cx="63.1" cy="1500.7" r="2.1"/>
<circle cx="83.6" cy="1521" r="2.1"/>
<circle cx="93.8" cy="1553.4" r="2.1"/>
<circle cx="75.9" cy="1531.7" r="2.1"/>
<circle cx="323.4" cy="1519.8" r="2.1"/>
<circle cx="116.2" cy="1520.5" r="2.1"/>
<circle cx="295.9" cy="1542.9" r="2.1"/>
<circle cx="244.6" cy="1501" r="2.1"/>
<circle cx="85.4" cy="1549" r="2.1"/>
<circle cx="72.7" cy="1525.7" r="2.1"/>
<circle cx="301.7" cy="1520.9" r="2.1"/>
<circle cx="34.5" cy="1542.7" r="2.1"/>
<circle cx="77.5" cy="1512.7" r="2.1"/>
<circle cx="272.5" cy="1537.9" r="2.1"/>
<circle cx="245.2" cy="1509.6" r="2.1"/>
<circle cx="68.3" cy="1541.2" r="2.1"/>
<circle cx="299.9" cy="1502.6" r="2.1"/>
<circle cx="320.3" cy="1548.8" r="2.1"/>
<circle cx="275.3" cy="1547.9" r="2.1"/>
<circle cx="150.2" cy="1530" r="2.1"/>
<circle cx="122.5" cy="1545.1" r="2.1"/>
<circle cx="260.5" cy="1516.4" r="2.1"/>
<circle cx="80.8" cy="1538.2" r="2.1"/>
<circle cx="84.7" cy="1497.2" r="2.1"/>
<circle cx="57.7" cy="1537.1" r="2.1"/>
<circle cx="304.6" cy="1539.1" r="2.1"/>
<circle cx="290" cy="1513.2" r="2.1"/>
<circle cx="88" cy="1527.2" r="2.1"/>
<circle cx="286.5" cy="1536.9" r="2.1"/>
<circle cx="276.4" cy="1514.7" r="2.1"/>
<circle cx="42.4" cy="1549.8" r="2.1"/>
<circle cx="290.5" cy="1504.6" r="2.1"/>
<circle cx="237.1" cy="1522.9" r="2.1"/>
<circle cx="46.3" cy="1519.9" r="2.1"/>
<circle cx="284.9" cy="1543" r="2.1"/>
<circle cx="260.7" cy="1542.1" r="2.1"/>
<circle cx="255.1" cy="1514.5" r="2.1"/>
<circle cx="299.9" cy="1547.5" r="2.1"/>
<circle cx="52.1" cy="1506.5" r="2.1"/>
<circle cx="93.2" cy="1535.1" r="2.1"/>
<circle cx="244.9" cy="1518.6" r="2.1"/>
<circle cx="260.4" cy="1531.6" r="2.1"/>
<circle cx="199" cy="1521" r="2.1"/>
<circle cx="209.5" cy="1530.3" r="2.1"/>
<circle cx="104.1" cy="1543.8" r="2.1"/>
<circle cx="325.5" cy="1544.9" r="2.1"/>
<circle cx="72.1" cy="1518.2" r="2.1"/>
<circle cx="91.7" cy="1540.1" r="2.1"/>
<circle cx="256.7" cy="1525.2" r="2.1"/>
<circle cx="99.2" cy="1529.4" r="2.1"/>
<circle cx="107" cy="1551.7" r="2.1"/>
<circle cx="38.4" cy="1547.5" r="2.1"/>
<circle cx="228.1" cy="1526.2" r="2.1"/>
<circle cx="220.2" cy="1515.3" r="2.1"/>
<circle cx="54" cy="1533.3" r="2.1"/>
<circle cx="264.2" cy="1551.6" r="2.1"/>
<circle cx="281.8" cy="1552.3" r="2.1"/>
<circle cx="44.1" cy="1508.4" r="2.1"/>
<circle cx="263.1" cy="1498.4" r="2.1"/>
</g>
<g fill="#f7d9d2" stroke="#2446d8" stroke-width="1.5">
<circle cx="60" cy="1487.9" r="2.7"/>
<circle cx="81.3" cy="1487.9" r="2.7"/>
<circle cx="105.3" cy="1492.9" r="2.7"/>
<circle cx="131.5" cy="1503.9" r="2.7"/>
<circle cx="155.5" cy="1512.3" r="2.7"/>
<circle cx="173.2" cy="1516.1" r="2.7"/>
<circle cx="195.6" cy="1514.1" r="2.7"/>
<circle cx="216.5" cy="1506.4" r="2.7"/>
<circle cx="237.2" cy="1497.8" r="2.7"/>
<circle cx="266.3" cy="1488.3" r="2.7"/>
<circle cx="290.7" cy="1489.3" r="2.7"/>
<circle cx="308.4" cy="1494.4" r="2.7"/>
<circle cx="328.3" cy="1504.9" r="2.7"/>
<circle cx="34.2" cy="1498" r="2.7"/>
<circle cx="21.3" cy="1514.3" r="2.7"/>
<circle cx="19.7" cy="1526.9" r="2.7"/>
<circle cx="22.8" cy="1538.5" r="2.7"/>
<circle cx="30.9" cy="1551.7" r="2.7"/>
<circle cx="43.7" cy="1556.8" r="2.7"/>
<circle cx="62" cy="1560" r="2.7"/>
<circle cx="80.9" cy="1561.1" r="2.7"/>
<circle cx="104.1" cy="1560" r="2.7"/>
<circle cx="124.6" cy="1556" r="2.7"/>
<circle cx="146" cy="1549.9" r="2.7"/>
<circle cx="167.7" cy="1543.2" r="2.7"/>
<circle cx="188" cy="1543.6" r="2.7"/>
<circle cx="209" cy="1548.9" r="2.7"/>
<circle cx="229.3" cy="1555" r="2.7"/>
<circle cx="255.1" cy="1560.8" r="2.7"/>
<circle cx="284" cy="1562.1" r="2.7"/>
<circle cx="307.4" cy="1556.8" r="2.7"/>
<circle cx="325.3" cy="1548.2" r="2.7"/>
<circle cx="338.1" cy="1524.9" r="2.7"/>
</g>
</g>
<defs><clipPath id="clipD"><rect x="970" y="816" width="848" height="768.5"/></clipPath>
<filter id="dB2" filterUnits="userSpaceOnUse" x="970" y="816" width="848" height="768.5" color-interpolation-filters="sRGB"><feGaussianBlur stdDeviation="1.9"/></filter>
<filter id="dB3" filterUnits="userSpaceOnUse" x="970" y="816" width="848" height="768.5" color-interpolation-filters="sRGB"><feGaussianBlur stdDeviation="3.0"/></filter>
<filter id="dB6" filterUnits="userSpaceOnUse" x="970" y="816" width="848" height="768.5" color-interpolation-filters="sRGB"><feGaussianBlur stdDeviation="6.5"/></filter>
<filter id="dB14" filterUnits="userSpaceOnUse" x="970" y="816" width="848" height="768.5" color-interpolation-filters="sRGB"><feGaussianBlur stdDeviation="14"/></filter>
<filter id="lutD" filterUnits="userSpaceOnUse" x="970" y="816" width="848" height="768.5" color-interpolation-filters="sRGB"><feTurbulence type="fractalNoise" baseFrequency="0.22" numOctaves="2" seed="12" result="a"/><feTurbulence type="fractalNoise" baseFrequency="0.31 0.27" numOctaves="2" seed="17" result="b"/><feComposite in="a" in2="b" operator="arithmetic" k1="0" k2="0.5" k3="0.5" k4="0"/><feColorMatrix type="matrix" values="1 0 0 0 0 1 0 0 0 0 1 0 0 0 0 0 0 0 0 1" result="n"/><feComposite in="SourceGraphic" in2="n" operator="arithmetic" k1="0" k2="1" k3="0.53" k4="-0.265"/><feComponentTransfer><feFuncR type="table" tableValues="0.275 0.478 0.659 0.796 0.890 0.945 0.980 1.000 1.000"/><feFuncG type="table" tableValues="0.024 0.071 0.149 0.267 0.424 0.596 0.776 0.918 0.988"/><feFuncB type="table" tableValues="0.000 0.008 0.031 0.059 0.090 0.149 0.322 0.580 0.886"/></feComponentTransfer></filter>
<radialGradient id="agnp" cx="0.4" cy="0.32" r="0.75"><stop offset="0" stop-color="#a9a9a9"/><stop offset="0.45" stop-color="#737373"/><stop offset="1" stop-color="#3c3c3c"/></radialGradient>
</defs>
<g clip-path="url(#clipD)">
<g filter="url(#lutD)">
<rect x="965" y="811" width="858" height="778.5" fill="#6a6a6a"/>
<defs><linearGradient id="d1g7" gradientUnits="userSpaceOnUse" x1="1421.7" y1="885.5" x2="1058.3" y2="1190.5"><stop offset="0" stop-color="#fff" stop-opacity="0.3"/><stop offset="0.2" stop-color="#fff" stop-opacity="0.2"/><stop offset="0.4" stop-color="#fff" stop-opacity="0.06"/><stop offset="0.5" stop-color="#000" stop-opacity="0.0"/><stop offset="0.6" stop-color="#000" stop-opacity="0.05"/><stop offset="0.8" stop-color="#000" stop-opacity="0.12"/><stop offset="1" stop-color="#000" stop-opacity="0.15"/></linearGradient></defs>
<g fill="url(#d1g7)" filter="url(#dB6)">
<path d="M1025.5,1051 1025.3,1037.7 1027.1,1024.3 1030.1,1011.3 1034.1,998.7 1039.2,986.5 1045.4,974.6 1052.7,962.8 1060.9,951.4 1069.9,941 1079.4,931.9 1089.6,923.8 1100.4,916.5 1112.1,909.8 1124.4,903.8 1137.1,898.1 1149.9,892.8 1163,887.9 1176.9,882.9 1191.7,877.6 1207.2,872.3 1222.7,867.6 1238,863.4 1253.3,859.8 1268.6,856.9 1283.9,854.6 1299.2,853 1314.5,852.2 1330,852.1 1345.5,852.9 1360.4,855.3 1374.5,859.8 1388,865.9 1400,873.7 1410.5,883.4 1419.5,894.9 1427.6,907.3 1434.8,920.5 1441.1,934.6 1445.9,950.1 1449.4,967.3 1451.6,985.9 1452,1005.2 1450.7,1025.7 1447.7,1046.9 1442.9,1066.3 1436.6,1082.7 1428.6,1097.5 1418.5,1112.2 1405.7,1128.1 1390.8,1143.9 1375.6,1158.1 1360.5,1169.9 1345.1,1179.9 1329.7,1188.6 1314.4,1196 1299.1,1202 1283.8,1207 1268.6,1211.3 1253.3,1214.6 1238.1,1216.2 1222.8,1215.7 1207.5,1213.6 1192.2,1210.1 1176.9,1205.3 1161.6,1199.2 1146.3,1191.7 1130.7,1182.5 1115,1172 1100.4,1161.1 1087.1,1150.2 1074.7,1139.1 1063.8,1127.5 1054.3,1115.6 1046.1,1103.4 1039.2,1090.8 1033.2,1077.7 1028.3,1064.4Z"/>
</g>
<defs><linearGradient id="d1g8" gradientUnits="userSpaceOnUse" x1="1439.9" y1="870.3" x2="1040.1" y2="1205.7"><stop offset="0" stop-color="#fff" stop-opacity="0.33"/><stop offset="0.22" stop-color="#fff" stop-opacity="0.24"/><stop offset="0.42" stop-color="#fff" stop-opacity="0.07"/><stop offset="0.55" stop-color="#fff" stop-opacity="0.12"/><stop offset="1" stop-color="#fff" stop-opacity="0.2"/></linearGradient></defs>
<g fill="none" stroke="url(#d1g8)" stroke-linejoin="round" filter="url(#dB6)">
<path d="M1009,1052 1008.7,1037.6 1010.6,1023.3 1013.9,1009.3 1018.1,995.7 1023.7,982.5 1030.4,969.7 1038.2,957 1047.1,944.7 1056.7,933.5 1066.9,923.7 1077.9,915 1089.6,907.1 1102.2,899.9 1115.5,893.4 1129.1,887.3 1142.9,881.6 1157.1,876.3 1172,870.9 1188,865.2 1204.7,859.5 1221.4,854.4 1237.9,850 1254.4,846.1 1270.8,842.9 1287.3,840.4 1303.8,838.7 1320.3,837.9 1337,837.8 1353.7,838.6 1369.7,841.2 1384.9,846 1399.4,852.6 1412.4,861 1423.7,871.5 1433.4,883.8 1442.1,897.2 1449.9,911.4 1456.6,926.6 1461.9,943.3 1465.6,961.9 1467.9,981.9 1468.4,1002.7 1467,1024.8 1463.7,1047.5 1458.6,1068.5 1451.8,1086.2 1443.1,1102.1 1432.3,1117.9 1418.5,1135 1402.5,1152.1 1386.1,1167.4 1369.9,1180.1 1353.3,1190.9 1336.7,1200.3 1320.2,1208.2 1303.7,1214.7 1287.2,1220 1270.8,1224.7 1254.4,1228.2 1237.9,1230 1221.4,1229.5 1205,1227.2 1188.5,1223.4 1172,1218.3 1155.5,1211.7 1139.1,1203.6 1122.2,1193.7 1105.4,1182.3 1089.6,1170.6 1075.2,1158.9 1062,1146.9 1050.1,1134.5 1039.9,1121.6 1031.1,1108.4 1023.7,1094.8 1017.2,1080.8 1012,1066.4Z" stroke-width="14"/>
</g>
<defs><linearGradient id="d1g9" gradientUnits="userSpaceOnUse" x1="1421.7" y1="885.5" x2="1058.3" y2="1190.5"><stop offset="0" stop-color="#fff" stop-opacity="0.7"/><stop offset="0.14" stop-color="#fff" stop-opacity="0.6"/><stop offset="0.3" stop-color="#fff" stop-opacity="0.27"/><stop offset="0.44" stop-color="#fff" stop-opacity="0"/><stop offset="1" stop-color="#fff" stop-opacity="0"/></linearGradient></defs>
<g fill="none" stroke="url(#d1g9)" stroke-linejoin="round" filter="url(#dB6)">
<path d="M1033.3,1050.5 1033,1037.7 1034.8,1024.8 1037.7,1012.3 1041.5,1000.2 1046.5,988.3 1052.4,976.9 1059.4,965.5 1067.4,954.5 1076,944.5 1085.2,935.7 1095,928 1105.5,920.8 1116.7,914.4 1128.6,908.6 1140.8,903.2 1153.1,898.1 1165.8,893.3 1179.1,888.5 1193.4,883.4 1208.4,878.3 1223.4,873.7 1238.1,869.7 1252.8,866.3 1267.6,863.4 1282.3,861.2 1297.1,859.7 1311.8,858.9 1326.8,858.8 1341.7,859.6 1356,861.9 1369.7,866.2 1382.6,872.1 1394.3,879.6 1404.3,889 1413.1,900 1420.8,912.1 1427.8,924.7 1433.8,938.3 1438.5,953.3 1441.9,969.9 1444,987.8 1444.4,1006.4 1443.1,1026.1 1440.2,1046.5 1435.6,1065.3 1429.5,1081.1 1421.8,1095.3 1412,1109.5 1399.7,1124.8 1385.4,1140.1 1370.7,1153.8 1356.2,1165.1 1341.3,1174.8 1326.5,1183.2 1311.7,1190.3 1297,1196.1 1282.3,1200.9 1267.5,1205 1252.8,1208.2 1238.1,1209.8 1223.4,1209.3 1208.6,1207.3 1193.9,1203.9 1179.2,1199.3 1164.4,1193.4 1149.7,1186.2 1134.6,1177.3 1119.5,1167.1 1105.5,1156.7 1092.6,1146.2 1080.7,1135.4 1070.1,1124.3 1061,1112.8 1053.1,1101 1046.5,1088.9 1040.6,1076.3 1036,1063.4Z" stroke-width="22"/>
</g>
<defs><linearGradient id="d1g10" gradientUnits="userSpaceOnUse" x1="1455" y1="937.7" x2="1025" y2="1138.3"><stop offset="0" stop-color="#000" stop-opacity="0"/><stop offset="0.32" stop-color="#000" stop-opacity="0"/><stop offset="0.45" stop-color="#000" stop-opacity="0.35"/><stop offset="0.6" stop-color="#000" stop-opacity="0.6"/><stop offset="1" stop-color="#000" stop-opacity="0.68"/></linearGradient></defs>
<g fill="none" stroke="url(#d1g10)" stroke-linejoin="round" filter="url(#dB3)">
<path d="M1022.2,1051.2 1022,1037.7 1023.8,1024.1 1026.8,1010.9 1030.9,998.1 1036.1,985.7 1042.4,973.6 1049.8,961.6 1058.2,950.1 1067.2,939.5 1076.9,930.3 1087.2,922.1 1098.3,914.6 1110.1,907.8 1122.6,901.7 1135.5,896 1148.5,890.6 1161.8,885.5 1175.9,880.5 1190.9,875.1 1206.7,869.8 1222.5,864.9 1238,860.7 1253.5,857.1 1269.1,854.1 1284.6,851.8 1300.1,850.1 1315.6,849.4 1331.4,849.3 1347.2,850 1362.2,852.5 1376.6,857 1390.2,863.2 1402.5,871.1 1413.1,881 1422.3,892.7 1430.5,905.3 1437.9,918.7 1444.2,933 1449.1,948.8 1452.7,966.3 1454.9,985.1 1455.3,1004.7 1454,1025.5 1450.9,1047 1446.1,1066.8 1439.6,1083.4 1431.5,1098.4 1421.2,1113.4 1408.2,1129.5 1393.1,1145.6 1377.7,1159.9 1362.4,1171.9 1346.8,1182.1 1331.1,1191 1315.6,1198.4 1300,1204.5 1284.5,1209.6 1269,1214 1253.5,1217.3 1238,1218.9 1222.5,1218.5 1207,1216.3 1191.4,1212.7 1175.9,1207.9 1160.4,1201.7 1144.8,1194.1 1129,1184.8 1113.1,1174.1 1098.3,1163 1084.7,1152 1072.2,1140.6 1061,1128.9 1051.4,1116.8 1043.1,1104.4 1036.1,1091.6 1030,1078.3 1025.1,1064.8Z" stroke-width="9"/>
</g>
<defs><linearGradient id="d1g11" gradientUnits="userSpaceOnUse" x1="1421.7" y1="885.5" x2="1058.3" y2="1190.5"><stop offset="0" stop-color="#fff" stop-opacity="0.85"/><stop offset="0.3" stop-color="#fff" stop-opacity="0.7"/><stop offset="0.42" stop-color="#fff" stop-opacity="0.12"/><stop offset="0.48" stop-color="#fff" stop-opacity="0"/><stop offset="1" stop-color="#fff" stop-opacity="0"/></linearGradient></defs>
<g fill="none" stroke="url(#d1g11)" stroke-linejoin="round" filter="url(#dB2)">
<path d="M1037.7,1050.3 1037.5,1037.7 1039.2,1025.1 1042,1012.8 1045.7,1001 1050.6,989.4 1056.5,978.2 1063.3,967.1 1071.1,956.3 1079.5,946.5 1088.5,937.9 1098.1,930.3 1108.3,923.4 1119.3,917 1131,911.4 1142.9,906.1 1155,901.1 1167.4,896.4 1180.4,891.7 1194.4,886.7 1209.1,881.7 1223.7,877.2 1238.1,873.3 1252.6,869.9 1267,867.2 1281.4,865 1295.8,863.5 1310.3,862.8 1324.9,862.7 1339.6,863.4 1353.6,865.7 1366.9,869.9 1379.6,875.6 1391,883 1400.8,892.2 1409.4,903 1417,914.7 1423.8,927.1 1429.7,940.5 1434.3,955.1 1437.6,971.4 1439.6,988.9 1440,1007.1 1438.8,1026.4 1435.9,1046.4 1431.4,1064.7 1425.4,1080.2 1417.9,1094.1 1408.4,1108 1396.3,1123 1382.3,1137.9 1367.9,1151.3 1353.7,1162.4 1339.2,1171.9 1324.6,1180.1 1310.2,1187 1295.8,1192.7 1281.4,1197.4 1267,1201.5 1252.6,1204.6 1238.2,1206.1 1223.8,1205.7 1209.3,1203.6 1194.9,1200.3 1180.5,1195.8 1166,1190.1 1151.6,1183 1136.9,1174.4 1122.1,1164.4 1108.3,1154.1 1095.7,1143.9 1084.1,1133.3 1073.7,1122.5 1064.8,1111.2 1057.1,1099.7 1050.6,1087.8 1044.9,1075.5 1040.3,1062.9Z" stroke-width="7.5" stroke-opacity="1"/>
<path d="M1052.1,1049.4 1051.9,1037.7 1053.4,1026 1056.1,1014.6 1059.5,1003.6 1064.1,992.8 1069.5,982.4 1075.8,972.1 1083.1,962.1 1090.9,953 1099.2,945 1108.2,938 1117.7,931.5 1127.9,925.6 1138.7,920.4 1149.8,915.4 1161,910.8 1172.6,906.4 1184.7,902.1 1197.7,897.5 1211.3,892.8 1224.9,888.7 1238.3,885 1251.7,881.9 1265.1,879.3 1278.5,877.3 1291.9,875.9 1305.3,875.2 1318.9,875.1 1332.5,875.8 1345.5,877.9 1357.9,881.8 1369.7,887.2 1380.2,894 1389.4,902.6 1397.3,912.6 1404.4,923.5 1410.7,935 1416.2,947.4 1420.5,961 1423.5,976.1 1425.4,992.4 1425.8,1009.3 1424.6,1027.2 1422,1045.8 1417.8,1062.8 1412.3,1077.2 1405.2,1090.1 1396.4,1103 1385.2,1116.9 1372.1,1130.8 1358.8,1143.2 1345.6,1153.5 1332.1,1162.4 1318.6,1170 1305.2,1176.4 1291.8,1181.7 1278.4,1186.1 1265,1189.9 1251.7,1192.7 1238.3,1194.1 1224.9,1193.8 1211.5,1191.9 1198.1,1188.8 1184.7,1184.6 1171.3,1179.3 1157.9,1172.7 1144.2,1164.7 1130.5,1155.4 1117.7,1145.9 1106,1136.4 1095.2,1126.6 1085.6,1116.5 1077.2,1106 1070.1,1095.3 1064,1084.2 1058.8,1072.8 1054.5,1061.1Z" stroke-width="7.5" stroke-opacity="0.95"/>
<path d="M1066.4,1048.5 1066.3,1037.7 1067.7,1026.9 1070.1,1016.4 1073.3,1006.2 1077.5,996.3 1082.5,986.7 1088.4,977.1 1095.1,967.9 1102.3,959.5 1110,952.2 1118.2,945.6 1127,939.6 1136.5,934.2 1146.5,929.4 1156.7,924.8 1167.1,920.5 1177.7,916.5 1188.9,912.5 1200.9,908.2 1213.5,903.9 1226,900.1 1238.4,896.7 1250.8,893.8 1263.2,891.4 1275.5,889.6 1287.9,888.3 1300.3,887.7 1312.9,887.6 1325.4,888.2 1337.4,890.2 1348.9,893.8 1359.7,898.7 1369.5,905 1378,912.9 1385.3,922.2 1391.8,932.3 1397.7,942.9 1402.7,954.3 1406.7,966.9 1409.5,980.8 1411.2,995.9 1411.6,1011.5 1410.5,1028 1408.1,1045.2 1404.2,1060.9 1399.1,1074.2 1392.6,1086.1 1384.4,1098.1 1374.1,1110.9 1362,1123.7 1349.7,1135.2 1337.5,1144.7 1325.1,1152.9 1312.6,1159.9 1300.2,1165.9 1287.9,1170.7 1275.5,1174.7 1263.1,1178.2 1250.8,1180.9 1238.4,1182.2 1226.1,1181.8 1213.7,1180.1 1201.3,1177.3 1188.9,1173.4 1176.5,1168.5 1164.2,1162.4 1151.5,1155 1138.9,1146.4 1127,1137.6 1116.2,1128.8 1106.3,1119.8 1097.4,1110.5 1089.7,1100.8 1083.1,1090.9 1077.5,1080.7 1072.6,1070.2 1068.7,1059.3Z" stroke-width="7.5" stroke-opacity="0.9"/>
<path d="M1080.8,1047.6 1080.6,1037.7 1082,1027.9 1084.2,1018.2 1087.1,1008.9 1091,999.8 1095.6,990.9 1100.9,982.2 1107.1,973.7 1113.7,966 1120.8,959.3 1128.3,953.3 1136.4,947.8 1145,942.8 1154.2,938.4 1163.6,934.2 1173.1,930.2 1182.9,926.6 1193.1,922.9 1204.1,919 1215.7,915 1227.2,911.5 1238.5,908.4 1249.9,905.8 1261.2,903.6 1272.6,901.9 1283.9,900.7 1295.3,900.1 1306.8,900 1318.3,900.6 1329.4,902.4 1339.8,905.7 1349.8,910.2 1358.8,916 1366.5,923.3 1373.3,931.8 1379.2,941 1384.6,950.8 1389.2,961.3 1392.9,972.8 1395.5,985.6 1397.1,999.4 1397.4,1013.7 1396.4,1028.9 1394.1,1044.6 1390.6,1059 1385.9,1071.2 1380,1082.1 1372.5,1093.1 1363,1104.9 1351.9,1116.6 1340.7,1127.1 1329.5,1135.9 1318,1143.3 1306.6,1149.8 1295.2,1155.3 1283.9,1159.7 1272.5,1163.4 1261.2,1166.6 1249.9,1169.1 1238.6,1170.3 1227.2,1169.9 1215.9,1168.3 1204.5,1165.7 1193.2,1162.2 1181.8,1157.7 1170.4,1152.1 1158.8,1145.3 1147.2,1137.5 1136.4,1129.4 1126.5,1121.3 1117.3,1113 1109.2,1104.5 1102.1,1095.6 1096.1,1086.5 1091,1077.2 1086.5,1067.5 1082.9,1057.6Z" stroke-width="7.5" stroke-opacity="0.8"/>
<path d="M1095.2,1046.8 1095,1037.8 1096.2,1028.8 1098.3,1020 1100.9,1011.5 1104.4,1003.2 1108.6,995.2 1113.5,987.2 1119.1,979.5 1125.1,972.5 1131.5,966.4 1138.4,960.9 1145.7,955.9 1153.6,951.4 1161.9,947.4 1170.5,943.5 1179.1,940 1188,936.6 1197.4,933.3 1207.4,929.7 1217.9,926.1 1228.3,922.9 1238.7,920.1 1249,917.7 1259.3,915.7 1269.6,914.2 1280,913.1 1290.3,912.6 1300.8,912.5 1311.3,913 1321.3,914.7 1330.8,917.6 1339.9,921.8 1348.1,927 1355.1,933.6 1361.2,941.4 1366.7,949.8 1371.6,958.6 1375.8,968.2 1379.1,978.7 1381.4,990.3 1382.9,1002.9 1383.2,1015.9 1382.3,1029.7 1380.2,1044 1377,1057.1 1372.8,1068.2 1367.3,1078.2 1360.5,1088.1 1351.9,1098.8 1341.8,1109.5 1331.6,1119.1 1321.4,1127 1311,1133.8 1300.6,1139.7 1290.3,1144.7 1279.9,1148.7 1269.6,1152.1 1259.3,1155 1249,1157.2 1238.7,1158.3 1228.4,1158 1218,1156.6 1207.7,1154.2 1197.4,1151 1187.1,1146.9 1176.7,1141.8 1166.2,1135.6 1155.6,1128.5 1145.7,1121.1 1136.7,1113.8 1128.4,1106.2 1121,1098.5 1114.6,1090.4 1109.1,1082.1 1104.4,1073.6 1100.3,1064.8 1097.1,1055.8Z" stroke-width="7.5" stroke-opacity="0.7"/>
<path d="M1109.6,1045.9 1109.4,1037.8 1110.5,1029.7 1112.3,1021.8 1114.7,1014.1 1117.9,1006.7 1121.6,999.4 1126.1,992.3 1131.1,985.3 1136.5,979 1142.3,973.5 1148.5,968.6 1155.1,964.1 1162.2,960 1169.7,956.4 1177.4,952.9 1185.2,949.7 1193.2,946.7 1201.6,943.7 1210.6,940.5 1220.1,937.2 1229.5,934.3 1238.8,931.8 1248.1,929.6 1257.4,927.8 1266.7,926.5 1276,925.5 1285.3,925 1294.8,925 1304.2,925.4 1313.2,926.9 1321.8,929.6 1330,933.3 1337.3,938.1 1343.7,944 1349.2,950.9 1354.1,958.5 1358.5,966.5 1362.3,975.1 1365.3,984.5 1367.4,995 1368.7,1006.3 1369,1018.1 1368.2,1030.5 1366.3,1043.4 1363.4,1055.2 1359.6,1065.2 1354.7,1074.2 1348.6,1083.1 1340.8,1092.8 1331.7,1102.4 1322.5,1111 1313.3,1118.2 1303.9,1124.3 1294.6,1129.6 1285.3,1134.1 1276,1137.7 1266.7,1140.8 1257.4,1143.4 1248.1,1145.4 1238.8,1146.4 1229.5,1146.1 1220.2,1144.8 1210.9,1142.7 1201.6,1139.8 1192.3,1136.1 1183,1131.5 1173.5,1125.9 1164,1119.5 1155.1,1112.9 1147,1106.3 1139.5,1099.5 1132.8,1092.5 1127,1085.2 1122.1,1077.8 1117.9,1070.1 1114.2,1062.2 1111.3,1054Z" stroke-width="7.5" stroke-opacity="0.55"/>
<path d="M1122.8,1045.1 1122.7,1037.8 1123.7,1030.5 1125.3,1023.4 1127.5,1016.5 1130.3,1009.8 1133.7,1003.3 1137.6,996.9 1142.2,990.7 1147,985 1152.2,980 1157.8,975.6 1163.7,971.6 1170.1,967.9 1176.8,964.7 1183.8,961.6 1190.8,958.7 1197.9,956 1205.5,953.3 1213.6,950.4 1222.1,947.5 1230.6,944.9 1238.9,942.6 1247.3,940.7 1255.6,939 1264,937.8 1272.3,936.9 1280.7,936.5 1289.2,936.4 1297.7,936.9 1305.8,938.2 1313.5,940.6 1320.8,944 1327.5,948.2 1333.1,953.5 1338.1,959.8 1342.5,966.6 1346.5,973.8 1349.9,981.5 1352.5,990 1354.4,999.4 1355.6,1009.6 1355.9,1020.1 1355.1,1031.3 1353.5,1042.8 1350.9,1053.5 1347.4,1062.4 1343,1070.5 1337.5,1078.5 1330.5,1087.2 1322.4,1095.9 1314.1,1103.6 1305.9,1110 1297.4,1115.5 1289,1120.3 1280.7,1124.3 1272.3,1127.6 1264,1130.3 1255.6,1132.7 1247.3,1134.5 1238.9,1135.4 1230.6,1135.1 1222.2,1133.9 1213.9,1132 1205.5,1129.4 1197.2,1126.1 1188.8,1122 1180.3,1117 1171.7,1111.2 1163.7,1105.3 1156.4,1099.3 1149.7,1093.2 1143.7,1086.9 1138.5,1080.4 1134.1,1073.7 1130.3,1066.8 1127,1059.7 1124.4,1052.4Z" stroke-width="7.5" stroke-opacity="0.4"/>
</g>
<defs><linearGradient id="d1g12" gradientUnits="userSpaceOnUse" x1="1421.7" y1="885.5" x2="1058.3" y2="1190.5"><stop offset="0" stop-color="#000" stop-opacity="0"/><stop offset="0.5" stop-color="#000" stop-opacity="0.0"/><stop offset="0.6" stop-color="#000" stop-opacity="0.42"/><stop offset="1" stop-color="#000" stop-opacity="0.55"/></linearGradient></defs>
<g fill="none" stroke="url(#d1g12)" stroke-linejoin="round" filter="url(#dB2)">
<path d="M1037.7,1050.3 1037.5,1037.7 1039.2,1025.1 1042,1012.8 1045.7,1001 1050.6,989.4 1056.5,978.2 1063.3,967.1 1071.1,956.3 1079.5,946.5 1088.5,937.9 1098.1,930.3 1108.3,923.4 1119.3,917 1131,911.4 1142.9,906.1 1155,901.1 1167.4,896.4 1180.4,891.7 1194.4,886.7 1209.1,881.7 1223.7,877.2 1238.1,873.3 1252.6,869.9 1267,867.2 1281.4,865 1295.8,863.5 1310.3,862.8 1324.9,862.7 1339.6,863.4 1353.6,865.7 1366.9,869.9 1379.6,875.6 1391,883 1400.8,892.2 1409.4,903 1417,914.7 1423.8,927.1 1429.7,940.5 1434.3,955.1 1437.6,971.4 1439.6,988.9 1440,1007.1 1438.8,1026.4 1435.9,1046.4 1431.4,1064.7 1425.4,1080.2 1417.9,1094.1 1408.4,1108 1396.3,1123 1382.3,1137.9 1367.9,1151.3 1353.7,1162.4 1339.2,1171.9 1324.6,1180.1 1310.2,1187 1295.8,1192.7 1281.4,1197.4 1267,1201.5 1252.6,1204.6 1238.2,1206.1 1223.8,1205.7 1209.3,1203.6 1194.9,1200.3 1180.5,1195.8 1166,1190.1 1151.6,1183 1136.9,1174.4 1122.1,1164.4 1108.3,1154.1 1095.7,1143.9 1084.1,1133.3 1073.7,1122.5 1064.8,1111.2 1057.1,1099.7 1050.6,1087.8 1044.9,1075.5 1040.3,1062.9Z" stroke-width="6" stroke-opacity="1"/>
<path d="M1052.1,1049.4 1051.9,1037.7 1053.4,1026 1056.1,1014.6 1059.5,1003.6 1064.1,992.8 1069.5,982.4 1075.8,972.1 1083.1,962.1 1090.9,953 1099.2,945 1108.2,938 1117.7,931.5 1127.9,925.6 1138.7,920.4 1149.8,915.4 1161,910.8 1172.6,906.4 1184.7,902.1 1197.7,897.5 1211.3,892.8 1224.9,888.7 1238.3,885 1251.7,881.9 1265.1,879.3 1278.5,877.3 1291.9,875.9 1305.3,875.2 1318.9,875.1 1332.5,875.8 1345.5,877.9 1357.9,881.8 1369.7,887.2 1380.2,894 1389.4,902.6 1397.3,912.6 1404.4,923.5 1410.7,935 1416.2,947.4 1420.5,961 1423.5,976.1 1425.4,992.4 1425.8,1009.3 1424.6,1027.2 1422,1045.8 1417.8,1062.8 1412.3,1077.2 1405.2,1090.1 1396.4,1103 1385.2,1116.9 1372.1,1130.8 1358.8,1143.2 1345.6,1153.5 1332.1,1162.4 1318.6,1170 1305.2,1176.4 1291.8,1181.7 1278.4,1186.1 1265,1189.9 1251.7,1192.7 1238.3,1194.1 1224.9,1193.8 1211.5,1191.9 1198.1,1188.8 1184.7,1184.6 1171.3,1179.3 1157.9,1172.7 1144.2,1164.7 1130.5,1155.4 1117.7,1145.9 1106,1136.4 1095.2,1126.6 1085.6,1116.5 1077.2,1106 1070.1,1095.3 1064,1084.2 1058.8,1072.8 1054.5,1061.1Z" stroke-width="6" stroke-opacity="0.95"/>
<path d="M1066.4,1048.5 1066.3,1037.7 1067.7,1026.9 1070.1,1016.4 1073.3,1006.2 1077.5,996.3 1082.5,986.7 1088.4,977.1 1095.1,967.9 1102.3,959.5 1110,952.2 1118.2,945.6 1127,939.6 1136.5,934.2 1146.5,929.4 1156.7,924.8 1167.1,920.5 1177.7,916.5 1188.9,912.5 1200.9,908.2 1213.5,903.9 1226,900.1 1238.4,896.7 1250.8,893.8 1263.2,891.4 1275.5,889.6 1287.9,888.3 1300.3,887.7 1312.9,887.6 1325.4,888.2 1337.4,890.2 1348.9,893.8 1359.7,898.7 1369.5,905 1378,912.9 1385.3,922.2 1391.8,932.3 1397.7,942.9 1402.7,954.3 1406.7,966.9 1409.5,980.8 1411.2,995.9 1411.6,1011.5 1410.5,1028 1408.1,1045.2 1404.2,1060.9 1399.1,1074.2 1392.6,1086.1 1384.4,1098.1 1374.1,1110.9 1362,1123.7 1349.7,1135.2 1337.5,1144.7 1325.1,1152.9 1312.6,1159.9 1300.2,1165.9 1287.9,1170.7 1275.5,1174.7 1263.1,1178.2 1250.8,1180.9 1238.4,1182.2 1226.1,1181.8 1213.7,1180.1 1201.3,1177.3 1188.9,1173.4 1176.5,1168.5 1164.2,1162.4 1151.5,1155 1138.9,1146.4 1127,1137.6 1116.2,1128.8 1106.3,1119.8 1097.4,1110.5 1089.7,1100.8 1083.1,1090.9 1077.5,1080.7 1072.6,1070.2 1068.7,1059.3Z" stroke-width="6" stroke-opacity="0.9"/>
<path d="M1080.8,1047.6 1080.6,1037.7 1082,1027.9 1084.2,1018.2 1087.1,1008.9 1091,999.8 1095.6,990.9 1100.9,982.2 1107.1,973.7 1113.7,966 1120.8,959.3 1128.3,953.3 1136.4,947.8 1145,942.8 1154.2,938.4 1163.6,934.2 1173.1,930.2 1182.9,926.6 1193.1,922.9 1204.1,919 1215.7,915 1227.2,911.5 1238.5,908.4 1249.9,905.8 1261.2,903.6 1272.6,901.9 1283.9,900.7 1295.3,900.1 1306.8,900 1318.3,900.6 1329.4,902.4 1339.8,905.7 1349.8,910.2 1358.8,916 1366.5,923.3 1373.3,931.8 1379.2,941 1384.6,950.8 1389.2,961.3 1392.9,972.8 1395.5,985.6 1397.1,999.4 1397.4,1013.7 1396.4,1028.9 1394.1,1044.6 1390.6,1059 1385.9,1071.2 1380,1082.1 1372.5,1093.1 1363,1104.9 1351.9,1116.6 1340.7,1127.1 1329.5,1135.9 1318,1143.3 1306.6,1149.8 1295.2,1155.3 1283.9,1159.7 1272.5,1163.4 1261.2,1166.6 1249.9,1169.1 1238.6,1170.3 1227.2,1169.9 1215.9,1168.3 1204.5,1165.7 1193.2,1162.2 1181.8,1157.7 1170.4,1152.1 1158.8,1145.3 1147.2,1137.5 1136.4,1129.4 1126.5,1121.3 1117.3,1113 1109.2,1104.5 1102.1,1095.6 1096.1,1086.5 1091,1077.2 1086.5,1067.5 1082.9,1057.6Z" stroke-width="6" stroke-opacity="0.8"/>
<path d="M1095.2,1046.8 1095,1037.8 1096.2,1028.8 1098.3,1020 1100.9,1011.5 1104.4,1003.2 1108.6,995.2 1113.5,987.2 1119.1,979.5 1125.1,972.5 1131.5,966.4 1138.4,960.9 1145.7,955.9 1153.6,951.4 1161.9,947.4 1170.5,943.5 1179.1,940 1188,936.6 1197.4,933.3 1207.4,929.7 1217.9,926.1 1228.3,922.9 1238.7,920.1 1249,917.7 1259.3,915.7 1269.6,914.2 1280,913.1 1290.3,912.6 1300.8,912.5 1311.3,913 1321.3,914.7 1330.8,917.6 1339.9,921.8 1348.1,927 1355.1,933.6 1361.2,941.4 1366.7,949.8 1371.6,958.6 1375.8,968.2 1379.1,978.7 1381.4,990.3 1382.9,1002.9 1383.2,1015.9 1382.3,1029.7 1380.2,1044 1377,1057.1 1372.8,1068.2 1367.3,1078.2 1360.5,1088.1 1351.9,1098.8 1341.8,1109.5 1331.6,1119.1 1321.4,1127 1311,1133.8 1300.6,1139.7 1290.3,1144.7 1279.9,1148.7 1269.6,1152.1 1259.3,1155 1249,1157.2 1238.7,1158.3 1228.4,1158 1218,1156.6 1207.7,1154.2 1197.4,1151 1187.1,1146.9 1176.7,1141.8 1166.2,1135.6 1155.6,1128.5 1145.7,1121.1 1136.7,1113.8 1128.4,1106.2 1121,1098.5 1114.6,1090.4 1109.1,1082.1 1104.4,1073.6 1100.3,1064.8 1097.1,1055.8Z" stroke-width="6" stroke-opacity="0.7"/>
<path d="M1109.6,1045.9 1109.4,1037.8 1110.5,1029.7 1112.3,1021.8 1114.7,1014.1 1117.9,1006.7 1121.6,999.4 1126.1,992.3 1131.1,985.3 1136.5,979 1142.3,973.5 1148.5,968.6 1155.1,964.1 1162.2,960 1169.7,956.4 1177.4,952.9 1185.2,949.7 1193.2,946.7 1201.6,943.7 1210.6,940.5 1220.1,937.2 1229.5,934.3 1238.8,931.8 1248.1,929.6 1257.4,927.8 1266.7,926.5 1276,925.5 1285.3,925 1294.8,925 1304.2,925.4 1313.2,926.9 1321.8,929.6 1330,933.3 1337.3,938.1 1343.7,944 1349.2,950.9 1354.1,958.5 1358.5,966.5 1362.3,975.1 1365.3,984.5 1367.4,995 1368.7,1006.3 1369,1018.1 1368.2,1030.5 1366.3,1043.4 1363.4,1055.2 1359.6,1065.2 1354.7,1074.2 1348.6,1083.1 1340.8,1092.8 1331.7,1102.4 1322.5,1111 1313.3,1118.2 1303.9,1124.3 1294.6,1129.6 1285.3,1134.1 1276,1137.7 1266.7,1140.8 1257.4,1143.4 1248.1,1145.4 1238.8,1146.4 1229.5,1146.1 1220.2,1144.8 1210.9,1142.7 1201.6,1139.8 1192.3,1136.1 1183,1131.5 1173.5,1125.9 1164,1119.5 1155.1,1112.9 1147,1106.3 1139.5,1099.5 1132.8,1092.5 1127,1085.2 1122.1,1077.8 1117.9,1070.1 1114.2,1062.2 1111.3,1054Z" stroke-width="6" stroke-opacity="0.55"/>
<path d="M1122.8,1045.1 1122.7,1037.8 1123.7,1030.5 1125.3,1023.4 1127.5,1016.5 1130.3,1009.8 1133.7,1003.3 1137.6,996.9 1142.2,990.7 1147,985 1152.2,980 1157.8,975.6 1163.7,971.6 1170.1,967.9 1176.8,964.7 1183.8,961.6 1190.8,958.7 1197.9,956 1205.5,953.3 1213.6,950.4 1222.1,947.5 1230.6,944.9 1238.9,942.6 1247.3,940.7 1255.6,939 1264,937.8 1272.3,936.9 1280.7,936.5 1289.2,936.4 1297.7,936.9 1305.8,938.2 1313.5,940.6 1320.8,944 1327.5,948.2 1333.1,953.5 1338.1,959.8 1342.5,966.6 1346.5,973.8 1349.9,981.5 1352.5,990 1354.4,999.4 1355.6,1009.6 1355.9,1020.1 1355.1,1031.3 1353.5,1042.8 1350.9,1053.5 1347.4,1062.4 1343,1070.5 1337.5,1078.5 1330.5,1087.2 1322.4,1095.9 1314.1,1103.6 1305.9,1110 1297.4,1115.5 1289,1120.3 1280.7,1124.3 1272.3,1127.6 1264,1130.3 1255.6,1132.7 1247.3,1134.5 1238.9,1135.4 1230.6,1135.1 1222.2,1133.9 1213.9,1132 1205.5,1129.4 1197.2,1126.1 1188.8,1122 1180.3,1117 1171.7,1111.2 1163.7,1105.3 1156.4,1099.3 1149.7,1093.2 1143.7,1086.9 1138.5,1080.4 1134.1,1073.7 1130.3,1066.8 1127,1059.7 1124.4,1052.4Z" stroke-width="6" stroke-opacity="0.4"/>
</g>
<defs><linearGradient id="d2g13" gradientUnits="userSpaceOnUse" x1="1753.7" y1="1083.3" x2="1442.3" y2="1344.7"><stop offset="0" stop-color="#fff" stop-opacity="0.3"/><stop offset="0.2" stop-color="#fff" stop-opacity="0.2"/><stop offset="0.4" stop-color="#fff" stop-opacity="0.06"/><stop offset="0.5" stop-color="#000" stop-opacity="0.0"/><stop offset="0.6" stop-color="#000" stop-opacity="0.05"/><stop offset="0.8" stop-color="#000" stop-opacity="0.12"/><stop offset="1" stop-color="#000" stop-opacity="0.15"/></linearGradient></defs>
<g fill="url(#d2g13)" filter="url(#dB6)">
<path d="M1409.3,1226.1 1427.7,1155.8 1479.7,1071.4 1530.3,1037.7 1648.4,1033.5 1718.8,1068.6 1766.6,1144.5 1773.7,1234.6 1752.5,1316.1 1704.7,1378 1634.4,1400.5 1513.4,1392.1 1471.2,1358.3 1423.4,1282.4Z"/>
</g>
<defs><linearGradient id="d2g14" gradientUnits="userSpaceOnUse" x1="1769.3" y1="1070.3" x2="1426.7" y2="1357.7"><stop offset="0" stop-color="#fff" stop-opacity="0.33"/><stop offset="0.22" stop-color="#fff" stop-opacity="0.24"/><stop offset="0.42" stop-color="#fff" stop-opacity="0.07"/><stop offset="0.55" stop-color="#fff" stop-opacity="0.12"/><stop offset="1" stop-color="#fff" stop-opacity="0.2"/></linearGradient></defs>
<g fill="none" stroke="url(#d2g14)" stroke-linejoin="round" filter="url(#dB6)">
<path d="M1394.7,1227.1 1414.5,1151.3 1470.5,1060.4 1525.1,1024 1652.3,1019.5 1728.1,1057.4 1779.6,1139.2 1787.2,1236.2 1764.5,1324 1713,1390.7 1637.2,1415 1506.9,1405.9 1461.4,1369.5 1409.9,1287.7Z" stroke-width="14"/>
</g>
<defs><linearGradient id="d2g15" gradientUnits="userSpaceOnUse" x1="1753.7" y1="1083.3" x2="1442.3" y2="1344.7"><stop offset="0" stop-color="#fff" stop-opacity="0.7"/><stop offset="0.14" stop-color="#fff" stop-opacity="0.6"/><stop offset="0.3" stop-color="#fff" stop-opacity="0.27"/><stop offset="0.44" stop-color="#fff" stop-opacity="0"/><stop offset="1" stop-color="#fff" stop-opacity="0"/></linearGradient></defs>
<g fill="none" stroke="url(#d2g15)" stroke-linejoin="round" filter="url(#dB6)">
<path d="M1416.1,1225.7 1433.8,1157.9 1483.9,1076.6 1532.7,1044 1646.6,1040 1714.4,1073.8 1760.5,1147.1 1767.3,1233.8 1746.9,1312.5 1700.8,1372.1 1633.1,1393.8 1516.5,1385.7 1475.8,1353.1 1429.7,1279.9Z" stroke-width="22"/>
</g>
<defs><linearGradient id="d2g16" gradientUnits="userSpaceOnUse" x1="1758.2" y1="1088.9" x2="1437.8" y2="1339.1"><stop offset="0" stop-color="#000" stop-opacity="0"/><stop offset="0.32" stop-color="#000" stop-opacity="0"/><stop offset="0.45" stop-color="#000" stop-opacity="0.35"/><stop offset="0.6" stop-color="#000" stop-opacity="0.6"/><stop offset="1" stop-color="#000" stop-opacity="0.68"/></linearGradient></defs>
<g fill="none" stroke="url(#d2g16)" stroke-linejoin="round" filter="url(#dB3)">
<path d="M1406.4,1226.3 1425,1154.9 1477.8,1069.2 1529.2,1034.9 1649.2,1030.7 1720.6,1066.3 1769.2,1143.5 1776.4,1234.9 1754.9,1317.7 1706.3,1380.6 1634.9,1403.4 1512.1,1394.8 1469.3,1360.6 1420.7,1283.4Z" stroke-width="9"/>
</g>
<defs><linearGradient id="d2g17" gradientUnits="userSpaceOnUse" x1="1753.7" y1="1083.3" x2="1442.3" y2="1344.7"><stop offset="0" stop-color="#fff" stop-opacity="0.85"/><stop offset="0.3" stop-color="#fff" stop-opacity="0.7"/><stop offset="0.42" stop-color="#fff" stop-opacity="0.12"/><stop offset="0.48" stop-color="#fff" stop-opacity="0"/><stop offset="1" stop-color="#fff" stop-opacity="0"/></linearGradient></defs>
<g fill="none" stroke="url(#d2g17)" stroke-linejoin="round" filter="url(#dB2)">
<path d="M1420,1225.4 1437.3,1159.1 1486.4,1079.5 1534.1,1047.7 1645.6,1043.7 1711.9,1076.8 1757,1148.5 1763.7,1233.4 1743.8,1310.3 1698.7,1368.7 1632.3,1390 1518.2,1382 1478.4,1350.2 1433.3,1278.5Z" stroke-width="7.5" stroke-opacity="1"/>
<path d="M1432.7,1224.6 1448.7,1163 1494.3,1089 1538.7,1059.5 1642.2,1055.8 1703.8,1086.6 1745.7,1153.1 1751.9,1232 1733.4,1303.5 1691.5,1357.7 1629.9,1377.5 1523.9,1370.1 1486.9,1340.5 1445,1273.9Z" stroke-width="7.5" stroke-opacity="0.95"/>
<path d="M1445.3,1223.8 1460.2,1166.9 1502.2,1098.6 1543.2,1071.3 1638.8,1067.9 1695.7,1096.3 1734.4,1157.8 1740.2,1230.6 1723.1,1296.7 1684.3,1346.7 1627.4,1365 1529.5,1358.1 1495.4,1330.8 1456.7,1269.3Z" stroke-width="7.5" stroke-opacity="0.9"/>
<path d="M1458,1223 1471.6,1170.8 1510.2,1108.2 1547.7,1083.1 1635.4,1080 1687.6,1106.1 1723.1,1162.4 1728.4,1229.3 1712.7,1289.8 1677.2,1335.8 1625,1352.5 1535.2,1346.2 1503.9,1321.1 1468.4,1264.8Z" stroke-width="7.5" stroke-opacity="0.8"/>
<path d="M1470.6,1222.2 1483,1174.7 1518.1,1117.7 1552.3,1094.9 1632.1,1092.1 1679.5,1115.8 1711.8,1167.1 1716.6,1227.9 1702.3,1283 1670,1324.8 1622.6,1340 1540.9,1334.3 1512.4,1311.5 1480.1,1260.2Z" stroke-width="7.5" stroke-opacity="0.7"/>
<path d="M1483.2,1221.4 1494.4,1178.6 1526,1127.3 1556.8,1106.7 1628.7,1104.2 1671.5,1125.6 1700.5,1171.8 1704.8,1226.5 1692,1276.1 1662.9,1313.8 1620.1,1327.5 1546.6,1322.3 1520.9,1301.8 1491.8,1255.6Z" stroke-width="7.5" stroke-opacity="0.55"/>
<path d="M1494.9,1220.6 1504.9,1182.2 1533.3,1136.1 1561,1117.6 1625.6,1115.4 1664,1134.6 1690.1,1176.1 1694,1225.2 1682.4,1269.8 1656.3,1303.6 1617.9,1315.9 1551.8,1311.3 1528.7,1292.9 1502.6,1251.4Z" stroke-width="7.5" stroke-opacity="0.4"/>
</g>
<defs><linearGradient id="d2g18" gradientUnits="userSpaceOnUse" x1="1753.7" y1="1083.3" x2="1442.3" y2="1344.7"><stop offset="0" stop-color="#000" stop-opacity="0"/><stop offset="0.5" stop-color="#000" stop-opacity="0.0"/><stop offset="0.6" stop-color="#000" stop-opacity="0.42"/><stop offset="1" stop-color="#000" stop-opacity="0.55"/></linearGradient></defs>
<g fill="none" stroke="url(#d2g18)" stroke-linejoin="round" filter="url(#dB2)">
<path d="M1420,1225.4 1437.3,1159.1 1486.4,1079.5 1534.1,1047.7 1645.6,1043.7 1711.9,1076.8 1757,1148.5 1763.7,1233.4 1743.8,1310.3 1698.7,1368.7 1632.3,1390 1518.2,1382 1478.4,1350.2 1433.3,1278.5Z" stroke-width="6" stroke-opacity="1"/>
<path d="M1432.7,1224.6 1448.7,1163 1494.3,1089 1538.7,1059.5 1642.2,1055.8 1703.8,1086.6 1745.7,1153.1 1751.9,1232 1733.4,1303.5 1691.5,1357.7 1629.9,1377.5 1523.9,1370.1 1486.9,1340.5 1445,1273.9Z" stroke-width="6" stroke-opacity="0.95"/>
<path d="M1445.3,1223.8 1460.2,1166.9 1502.2,1098.6 1543.2,1071.3 1638.8,1067.9 1695.7,1096.3 1734.4,1157.8 1740.2,1230.6 1723.1,1296.7 1684.3,1346.7 1627.4,1365 1529.5,1358.1 1495.4,1330.8 1456.7,1269.3Z" stroke-width="6" stroke-opacity="0.9"/>
<path d="M1458,1223 1471.6,1170.8 1510.2,1108.2 1547.7,1083.1 1635.4,1080 1687.6,1106.1 1723.1,1162.4 1728.4,1229.3 1712.7,1289.8 1677.2,1335.8 1625,1352.5 1535.2,1346.2 1503.9,1321.1 1468.4,1264.8Z" stroke-width="6" stroke-opacity="0.8"/>
<path d="M1470.6,1222.2 1483,1174.7 1518.1,1117.7 1552.3,1094.9 1632.1,1092.1 1679.5,1115.8 1711.8,1167.1 1716.6,1227.9 1702.3,1283 1670,1324.8 1622.6,1340 1540.9,1334.3 1512.4,1311.5 1480.1,1260.2Z" stroke-width="6" stroke-opacity="0.7"/>
<path d="M1483.2,1221.4 1494.4,1178.6 1526,1127.3 1556.8,1106.7 1628.7,1104.2 1671.5,1125.6 1700.5,1171.8 1704.8,1226.5 1692,1276.1 1662.9,1313.8 1620.1,1327.5 1546.6,1322.3 1520.9,1301.8 1491.8,1255.6Z" stroke-width="6" stroke-opacity="0.55"/>
<path d="M1494.9,1220.6 1504.9,1182.2 1533.3,1136.1 1561,1117.6 1625.6,1115.4 1664,1134.6 1690.1,1176.1 1694,1225.2 1682.4,1269.8 1656.3,1303.6 1617.9,1315.9 1551.8,1311.3 1528.7,1292.9 1502.6,1251.4Z" stroke-width="6" stroke-opacity="0.4"/>
</g>
<defs><linearGradient id="d3g19" gradientUnits="userSpaceOnUse" x1="1450.7" y1="1468.2" x2="1029.3" y2="1821.8"><stop offset="0" stop-color="#fff" stop-opacity="0.3"/><stop offset="0.2" stop-color="#fff" stop-opacity="0.2"/><stop offset="0.4" stop-color="#fff" stop-opacity="0.06"/><stop offset="0.5" stop-color="#000" stop-opacity="0.0"/><stop offset="0.6" stop-color="#000" stop-opacity="0.05"/><stop offset="0.8" stop-color="#000" stop-opacity="0.12"/><stop offset="1" stop-color="#000" stop-opacity="0.15"/></linearGradient></defs>
<g fill="url(#d3g19)" filter="url(#dB6)">
<path d="M1468.9,1645 1467,1679.8 1461.1,1714 1451.5,1747.1 1438.3,1778.4 1421.6,1807.4 1401.9,1833.6 1379.4,1856.6 1354.5,1876 1327.6,1891.4 1299.2,1902.7 1269.9,1909.5 1240,1911.8 1210.1,1909.5 1180.8,1902.7 1152.4,1891.4 1125.5,1876 1100.6,1856.6 1078.1,1833.6 1058.4,1807.4 1041.7,1778.4 1028.5,1747.1 1018.9,1714 1013,1679.8 1011.1,1645 1013,1610.2 1018.9,1576 1028.5,1542.9 1041.7,1511.6 1058.4,1482.6 1078.1,1456.4 1100.6,1433.4 1125.5,1414 1152.4,1398.6 1180.8,1387.3 1210.1,1380.5 1240,1378.2 1269.9,1380.5 1299.2,1387.3 1327.6,1398.6 1354.5,1414 1379.4,1433.4 1401.9,1456.4 1421.6,1482.6 1438.3,1511.6 1451.5,1542.9 1461.1,1576 1467,1610.2Z"/>
</g>
<defs><linearGradient id="d3g20" gradientUnits="userSpaceOnUse" x1="1471.7" y1="1450.6" x2="1008.3" y2="1839.4"><stop offset="0" stop-color="#fff" stop-opacity="0.33"/><stop offset="0.22" stop-color="#fff" stop-opacity="0.24"/><stop offset="0.42" stop-color="#fff" stop-opacity="0.07"/><stop offset="0.55" stop-color="#fff" stop-opacity="0.12"/><stop offset="1" stop-color="#fff" stop-opacity="0.2"/></linearGradient></defs>
<g fill="none" stroke="url(#d3g20)" stroke-linejoin="round" filter="url(#dB6)">
<path d="M1486.6,1645 1484.5,1682.5 1478.2,1719.4 1467.8,1755 1453.6,1788.7 1435.7,1819.9 1414.4,1848.2 1390.1,1873 1363.3,1893.9 1334.4,1910.5 1303.8,1922.6 1272.2,1929.9 1240,1932.4 1207.8,1929.9 1176.2,1922.6 1145.6,1910.5 1116.7,1893.9 1089.9,1873 1065.6,1848.2 1044.3,1819.9 1026.4,1788.7 1012.2,1755 1001.8,1719.4 995.5,1682.5 993.4,1645 995.5,1607.5 1001.8,1570.6 1012.2,1535 1026.4,1501.3 1044.3,1470.1 1065.6,1441.8 1089.9,1417 1116.7,1396.1 1145.6,1379.5 1176.2,1367.4 1207.8,1360.1 1240,1357.6 1272.2,1360.1 1303.8,1367.4 1334.4,1379.5 1363.3,1396.1 1390.1,1417 1414.4,1441.8 1435.7,1470.1 1453.6,1501.3 1467.8,1535 1478.2,1570.6 1484.5,1607.5Z" stroke-width="14"/>
</g>
<defs><linearGradient id="d3g21" gradientUnits="userSpaceOnUse" x1="1450.7" y1="1468.2" x2="1029.3" y2="1821.8"><stop offset="0" stop-color="#fff" stop-opacity="0.7"/><stop offset="0.14" stop-color="#fff" stop-opacity="0.6"/><stop offset="0.3" stop-color="#fff" stop-opacity="0.27"/><stop offset="0.44" stop-color="#fff" stop-opacity="0"/><stop offset="1" stop-color="#fff" stop-opacity="0"/></linearGradient></defs>
<g fill="none" stroke="url(#d3g21)" stroke-linejoin="round" filter="url(#dB6)">
<path d="M1460.7,1645 1458.8,1678.6 1453.1,1711.5 1443.9,1743.4 1431.1,1773.6 1415.1,1801.5 1396,1826.8 1374.3,1849 1350.3,1867.7 1324.4,1882.6 1297.1,1893.4 1268.8,1899.9 1240,1902.1 1211.2,1899.9 1182.9,1893.4 1155.6,1882.6 1129.7,1867.7 1105.7,1849 1084,1826.8 1064.9,1801.5 1048.9,1773.6 1036.1,1743.4 1026.9,1711.5 1021.2,1678.6 1019.3,1645 1021.2,1611.4 1026.9,1578.5 1036.1,1546.6 1048.9,1516.4 1064.9,1488.5 1084,1463.2 1105.7,1441 1129.7,1422.3 1155.6,1407.4 1182.9,1396.6 1211.2,1390.1 1240,1387.9 1268.8,1390.1 1297.1,1396.6 1324.4,1407.4 1350.3,1422.3 1374.3,1441 1396,1463.2 1415.1,1488.5 1431.1,1516.4 1443.9,1546.6 1453.1,1578.5 1458.8,1611.4Z" stroke-width="22"/>
</g>
<defs><linearGradient id="d3g22" gradientUnits="userSpaceOnUse" x1="1450.7" y1="1468.2" x2="1029.3" y2="1821.8"><stop offset="0" stop-color="#fff" stop-opacity="0.85"/><stop offset="0.3" stop-color="#fff" stop-opacity="0.7"/><stop offset="0.42" stop-color="#fff" stop-opacity="0.12"/><stop offset="0.48" stop-color="#fff" stop-opacity="0"/><stop offset="1" stop-color="#fff" stop-opacity="0"/></linearGradient></defs>
<g fill="none" stroke="url(#d3g22)" stroke-linejoin="round" filter="url(#dB2)">
<path d="M1455.9,1645 1454.1,1677.8 1448.6,1710.1 1439.5,1741.3 1427,1770.8 1411.3,1798.2 1392.7,1822.9 1371.5,1844.6 1348,1862.9 1322.6,1877.5 1295.9,1888.1 1268.2,1894.5 1240,1896.6 1211.8,1894.5 1184.1,1888.1 1157.4,1877.5 1132,1862.9 1108.5,1844.6 1087.3,1822.9 1068.7,1798.2 1053,1770.8 1040.5,1741.3 1031.4,1710.1 1025.9,1677.8 1024.1,1645 1025.9,1612.2 1031.4,1579.9 1040.5,1548.7 1053,1519.2 1068.7,1491.8 1087.3,1467.1 1108.5,1445.4 1132,1427.1 1157.4,1412.5 1184.1,1401.9 1211.8,1395.5 1240,1393.4 1268.2,1395.5 1295.9,1401.9 1322.6,1412.5 1348,1427.1 1371.5,1445.4 1392.7,1467.1 1411.3,1491.8 1427,1519.2 1439.5,1548.7 1448.6,1579.9 1454.1,1612.2Z" stroke-width="7.5" stroke-opacity="1"/>
<path d="M1440.6,1645 1438.9,1675.5 1433.8,1705.5 1425.3,1734.5 1413.7,1761.9 1399.1,1787.3 1381.8,1810.3 1362.1,1830.4 1340.3,1847.4 1316.8,1861 1291.9,1870.8 1266.2,1876.8 1240,1878.8 1213.8,1876.8 1188.1,1870.8 1163.2,1861 1139.7,1847.4 1117.9,1830.4 1098.2,1810.3 1080.9,1787.3 1066.3,1761.9 1054.7,1734.5 1046.2,1705.5 1041.1,1675.5 1039.4,1645 1041.1,1614.5 1046.2,1584.5 1054.7,1555.5 1066.3,1528.1 1080.9,1502.7 1098.2,1479.7 1117.9,1459.6 1139.7,1442.6 1163.2,1429 1188.1,1419.2 1213.8,1413.2 1240,1411.2 1266.2,1413.2 1291.9,1419.2 1316.8,1429 1340.3,1442.6 1362.1,1459.6 1381.8,1479.7 1399.1,1502.7 1413.7,1528.1 1425.3,1555.5 1433.8,1584.5 1438.9,1614.5Z" stroke-width="7.5" stroke-opacity="0.95"/>
<path d="M1425.3,1645 1423.7,1673.2 1418.9,1700.9 1411.2,1727.6 1400.4,1752.9 1387,1776.4 1371,1797.6 1352.8,1816.3 1332.6,1832 1310.9,1844.4 1287.9,1853.5 1264.2,1859 1240,1860.9 1215.8,1859 1192.1,1853.5 1169.1,1844.4 1147.4,1832 1127.2,1816.3 1109,1797.6 1093,1776.4 1079.6,1752.9 1068.8,1727.6 1061.1,1700.9 1056.3,1673.2 1054.7,1645 1056.3,1616.8 1061.1,1589.1 1068.8,1562.4 1079.6,1537.1 1093,1513.6 1109,1492.4 1127.2,1473.7 1147.4,1458 1169.1,1445.6 1192.1,1436.5 1215.8,1431 1240,1429.1 1264.2,1431 1287.9,1436.5 1310.9,1445.6 1332.6,1458 1352.8,1473.7 1371,1492.4 1387,1513.6 1400.4,1537.1 1411.2,1562.4 1418.9,1589.1 1423.7,1616.8Z" stroke-width="7.5" stroke-opacity="0.9"/>
<path d="M1409.9,1645 1408.5,1670.8 1404.1,1696.2 1397,1720.8 1387.2,1744 1374.8,1765.5 1360.2,1785 1343.4,1802.1 1325,1816.5 1305,1827.9 1284,1836.3 1262.2,1841.3 1240,1843 1217.8,1841.3 1196,1836.3 1175,1827.9 1155,1816.5 1136.6,1802.1 1119.8,1785 1105.2,1765.5 1092.8,1744 1083,1720.8 1075.9,1696.2 1071.5,1670.8 1070.1,1645 1071.5,1619.2 1075.9,1593.8 1083,1569.2 1092.8,1546 1105.2,1524.5 1119.8,1505 1136.6,1487.9 1155,1473.5 1175,1462.1 1196,1453.7 1217.8,1448.7 1240,1447 1262.2,1448.7 1284,1453.7 1305,1462.1 1325,1473.5 1343.4,1487.9 1360.2,1505 1374.8,1524.5 1387.2,1546 1397,1569.2 1404.1,1593.8 1408.5,1619.2Z" stroke-width="7.5" stroke-opacity="0.8"/>
</g>
<defs><linearGradient id="d3g23" gradientUnits="userSpaceOnUse" x1="1450.7" y1="1468.2" x2="1029.3" y2="1821.8"><stop offset="0" stop-color="#000" stop-opacity="0"/><stop offset="0.5" stop-color="#000" stop-opacity="0.0"/><stop offset="0.6" stop-color="#000" stop-opacity="0.42"/><stop offset="1" stop-color="#000" stop-opacity="0.55"/></linearGradient></defs>
<g fill="none" stroke="url(#d3g23)" stroke-linejoin="round" filter="url(#dB2)">
<path d="M1455.9,1645 1454.1,1677.8 1448.6,1710.1 1439.5,1741.3 1427,1770.8 1411.3,1798.2 1392.7,1822.9 1371.5,1844.6 1348,1862.9 1322.6,1877.5 1295.9,1888.1 1268.2,1894.5 1240,1896.6 1211.8,1894.5 1184.1,1888.1 1157.4,1877.5 1132,1862.9 1108.5,1844.6 1087.3,1822.9 1068.7,1798.2 1053,1770.8 1040.5,1741.3 1031.4,1710.1 1025.9,1677.8 1024.1,1645 1025.9,1612.2 1031.4,1579.9 1040.5,1548.7 1053,1519.2 1068.7,1491.8 1087.3,1467.1 1108.5,1445.4 1132,1427.1 1157.4,1412.5 1184.1,1401.9 1211.8,1395.5 1240,1393.4 1268.2,1395.5 1295.9,1401.9 1322.6,1412.5 1348,1427.1 1371.5,1445.4 1392.7,1467.1 1411.3,1491.8 1427,1519.2 1439.5,1548.7 1448.6,1579.9 1454.1,1612.2Z" stroke-width="6" stroke-opacity="1"/>
<path d="M1440.6,1645 1438.9,1675.5 1433.8,1705.5 1425.3,1734.5 1413.7,1761.9 1399.1,1787.3 1381.8,1810.3 1362.1,1830.4 1340.3,1847.4 1316.8,1861 1291.9,1870.8 1266.2,1876.8 1240,1878.8 1213.8,1876.8 1188.1,1870.8 1163.2,1861 1139.7,1847.4 1117.9,1830.4 1098.2,1810.3 1080.9,1787.3 1066.3,1761.9 1054.7,1734.5 1046.2,1705.5 1041.1,1675.5 1039.4,1645 1041.1,1614.5 1046.2,1584.5 1054.7,1555.5 1066.3,1528.1 1080.9,1502.7 1098.2,1479.7 1117.9,1459.6 1139.7,1442.6 1163.2,1429 1188.1,1419.2 1213.8,1413.2 1240,1411.2 1266.2,1413.2 1291.9,1419.2 1316.8,1429 1340.3,1442.6 1362.1,1459.6 1381.8,1479.7 1399.1,1502.7 1413.7,1528.1 1425.3,1555.5 1433.8,1584.5 1438.9,1614.5Z" stroke-width="6" stroke-opacity="0.95"/>
<path d="M1425.3,1645 1423.7,1673.2 1418.9,1700.9 1411.2,1727.6 1400.4,1752.9 1387,1776.4 1371,1797.6 1352.8,1816.3 1332.6,1832 1310.9,1844.4 1287.9,1853.5 1264.2,1859 1240,1860.9 1215.8,1859 1192.1,1853.5 1169.1,1844.4 1147.4,1832 1127.2,1816.3 1109,1797.6 1093,1776.4 1079.6,1752.9 1068.8,1727.6 1061.1,1700.9 1056.3,1673.2 1054.7,1645 1056.3,1616.8 1061.1,1589.1 1068.8,1562.4 1079.6,1537.1 1093,1513.6 1109,1492.4 1127.2,1473.7 1147.4,1458 1169.1,1445.6 1192.1,1436.5 1215.8,1431 1240,1429.1 1264.2,1431 1287.9,1436.5 1310.9,1445.6 1332.6,1458 1352.8,1473.7 1371,1492.4 1387,1513.6 1400.4,1537.1 1411.2,1562.4 1418.9,1589.1 1423.7,1616.8Z" stroke-width="6" stroke-opacity="0.9"/>
<path d="M1409.9,1645 1408.5,1670.8 1404.1,1696.2 1397,1720.8 1387.2,1744 1374.8,1765.5 1360.2,1785 1343.4,1802.1 1325,1816.5 1305,1827.9 1284,1836.3 1262.2,1841.3 1240,1843 1217.8,1841.3 1196,1836.3 1175,1827.9 1155,1816.5 1136.6,1802.1 1119.8,1785 1105.2,1765.5 1092.8,1744 1083,1720.8 1075.9,1696.2 1071.5,1670.8 1070.1,1645 1071.5,1619.2 1075.9,1593.8 1083,1569.2 1092.8,1546 1105.2,1524.5 1119.8,1505 1136.6,1487.9 1155,1473.5 1175,1462.1 1196,1453.7 1217.8,1448.7 1240,1447 1262.2,1448.7 1284,1453.7 1305,1462.1 1325,1473.5 1343.4,1487.9 1360.2,1505 1374.8,1524.5 1387.2,1546 1397,1569.2 1404.1,1593.8 1408.5,1619.2Z" stroke-width="6" stroke-opacity="0.8"/>
</g>
<path d="M1730,1596 Q1770,1552 1826,1506" fill="none" stroke="#000" stroke-opacity="0.6" stroke-width="9" filter="url(#dB3)"/>
<path d="M1760,1600 L1830,1530 L1830,1600Z" fill="#000" fill-opacity="0.15" filter="url(#dB6)"/>
<circle cx="1322" cy="1325" r="5" fill="#fff" fill-opacity="0.5" filter="url(#dB2)"/>
</g>
<g fill="#3c46e0" fill-opacity="0.85">
<circle cx="1302" cy="879" r="1.2"/>
<circle cx="1322" cy="880" r="1.2"/>
<circle cx="1336" cy="884" r="1.2"/>
<circle cx="1348" cy="883" r="1.2"/>
<circle cx="1353" cy="884" r="1.2"/>
<circle cx="1419" cy="936" r="1.2"/>
<circle cx="1425" cy="953" r="1.2"/>
<circle cx="1428" cy="982" r="1.2"/>
<circle cx="1429" cy="985" r="1.2"/>
<circle cx="1427" cy="988" r="1.2"/>
<circle cx="1428" cy="991" r="1.2"/>
<circle cx="1673.2" cy="1066.2" r="0.9"/>
<circle cx="1675.9" cy="1068.2" r="1"/>
<circle cx="1677.9" cy="1071.5" r="1"/>
<circle cx="1681.5" cy="1072" r="1.4"/>
<circle cx="1688.8" cy="1073" r="1.2"/>
<circle cx="1689.5" cy="1078.1" r="1.4"/>
<circle cx="1694.1" cy="1077.3" r="1.5"/>
<circle cx="1697" cy="1084.8" r="1.4"/>
<circle cx="1705.2" cy="1090.6" r="1.1"/>
<circle cx="1706.1" cy="1094.7" r="1.1"/>
<circle cx="1710.3" cy="1095.1" r="1.3"/>
<circle cx="1715.2" cy="1099.7" r="1.1"/>
<circle cx="1717" cy="1102.7" r="0.8"/>
<circle cx="1720.1" cy="1104.5" r="0.9"/>
<circle cx="1721.1" cy="1108.1" r="1.1"/>
<circle cx="1724.8" cy="1109.4" r="1.4"/>
<circle cx="1726.5" cy="1112.5" r="1.1"/>
<circle cx="1727.1" cy="1116.3" r="1.1"/>
<circle cx="1728.4" cy="1119.6" r="0.9"/>
<circle cx="1730.7" cy="1122.1" r="1.1"/>
<circle cx="1732.5" cy="1125" r="1.1"/>
<circle cx="1737.1" cy="1126.2" r="1"/>
<circle cx="1737.8" cy="1133.8" r="1.1"/>
<circle cx="1739.5" cy="1136.7" r="0.9"/>
<circle cx="1739.2" cy="1140.7" r="1.1"/>
<circle cx="1743.4" cy="1142.5" r="0.8"/>
<circle cx="1747.7" cy="1155.6" r="0.9"/>
<circle cx="1747" cy="1159.5" r="1"/>
<circle cx="1752" cy="1165.1" r="1.4"/>
<circle cx="1752.2" cy="1168.6" r="1.2"/>
<circle cx="1755" cy="1171.5" r="1.4"/>
<circle cx="1755.1" cy="1182.1" r="1.4"/>
<circle cx="1756.5" cy="1185.4" r="1"/>
<circle cx="1756.5" cy="1188.9" r="1.3"/>
<circle cx="1757.6" cy="1192.3" r="1.3"/>
<circle cx="1759.3" cy="1202.6" r="1.3"/>
<circle cx="1754.8" cy="1206.3" r="1.4"/>
<circle cx="1759.1" cy="1209.6" r="1.4"/>
<circle cx="1757.6" cy="1213.1" r="1"/>
<circle cx="1758.5" cy="1220.1" r="1.3"/>
<circle cx="1756.2" cy="1223.4" r="1.5"/>
<circle cx="1760.2" cy="1227.2" r="1.2"/>
<circle cx="1757.2" cy="1230.4" r="1.2"/>
<circle cx="1755.8" cy="1233.7" r="1.1"/>
<circle cx="1758.9" cy="1237.6" r="1.2"/>
</g>
<g fill="#2a9a20" fill-opacity="0.8"><circle cx="1044" cy="1046" r="1.3"/><circle cx="1127" cy="1192" r="1.4"/><circle cx="1164" cy="1209" r="1.3"/><circle cx="1168" cy="1209" r="1.3"/><circle cx="1557" cy="1400" r="1.2"/></g>
<path d="M1070.3,926.5 1052.5,897.7 1047.1,906.3 1032.5,897.3 1027.3,905.8 1041.9,914.8 1036.6,923.5Z" fill="#000"/>
<path d="M1037.3,960.4 1024.7,929 1018,936.5 1007.3,927.1 1000.7,934.6 1011.3,944 1004.6,951.6Z" fill="#000"/>
<path d="M1019.7,1006.3 989.4,991.1 989.4,1001.3 979.3,1001.3 979.3,1011.3 989.4,1011.3 989.4,1021.4Z" fill="#000"/>
<path d="M1404.8,1175.3 1371,1177.3 1376,1186.1 1363.6,1193.2 1368.6,1201.9 1381,1194.7 1386.1,1203.5Z" fill="#000"/>
<path d="M1288,1216.2 1298.7,1248.3 1305.9,1241.2 1308.8,1244.1 1315.9,1237 1313,1234.1 1320.1,1226.9Z" fill="#000"/>
<path d="M1484.5,1302 1450.7,1300.1 1454.7,1309.4 1444.7,1313.7 1448.6,1322.9 1458.6,1318.6 1462.7,1327.9Z" fill="#000"/>
<rect x="1548" y="863.5" width="219.8" height="7" fill="#000"/>
<text x="1671.7" y="922.8" text-anchor="middle" font-family="'Liberation Sans',Arial,Helvetica,sans-serif" font-weight="bold" font-size="49" fill="#000">5 µm</text>
<text x="980" y="881" font-family="'Liberation Serif','Times New Roman',serif" font-weight="bold" font-size="82" fill="#fff">d</text>
<rect x="970" y="1419.1" width="353.8" height="167" fill="#f6dcd8" fill-opacity="0.93"/>
<text x="979" y="1455.1" font-family="'Liberation Serif','Times New Roman',serif" font-size="42.3" fill="#000">RBC + AgNPs</text>
<rect x="975.2" y="1485.5" width="341" height="91.5" rx="45.8" ry="45.8" fill="#d6504a"/>
<path d="M982.7,1532.2 985.4,1517.8 988.2,1512.2 990.9,1508.1 993.7,1504.9 996.4,1502.3 999.1,1500.2 1001.9,1498.4 1004.6,1496.9 1007.4,1495.6 1010.1,1494.7 1012.8,1493.9 1015.6,1493.3 1018.3,1492.9 1021.1,1492.8 1023.8,1492.8 1026.5,1492.8 1029.3,1492.8 1032,1492.8 1034.8,1492.8 1037.5,1492.8 1040.2,1492.8 1043,1492.8 1045.7,1492.8 1048.4,1492.8 1051.2,1492.8 1053.9,1492.8 1056.7,1492.8 1059.4,1492.8 1062.1,1492.8 1064.9,1492.8 1067.6,1492.8 1070.4,1492.8 1073.1,1492.8 1075.8,1493 1078.6,1493.5 1081.3,1494.2 1084.1,1495.2 1086.8,1496.3 1089.5,1497.6 1092.3,1499 1095,1500.5 1097.8,1502 1100.5,1503.6 1103.2,1505.2 1106,1506.8 1108.7,1508.3 1111.5,1509.7 1114.2,1511.1 1116.9,1512.3 1119.7,1513.3 1122.4,1514.1 1125.2,1514.8 1127.9,1515.1 1130.6,1515.2 1133.4,1515.2 1136.1,1515.2 1138.9,1515.2 1141.6,1515.2 1144.3,1515.2 1147.1,1515.2 1149.8,1515.2 1152.5,1515.2 1155.3,1515.2 1158,1515.2 1160.8,1515.2 1163.5,1515.2 1166.2,1515 1169,1514.5 1171.7,1513.9 1174.5,1513 1177.2,1512 1179.9,1510.9 1182.7,1509.7 1185.4,1508.3 1188.2,1506.9 1190.9,1505.5 1193.6,1504 1196.4,1502.6 1199.1,1501.1 1201.9,1499.7 1204.6,1498.4 1207.3,1497.2 1210.1,1496 1212.8,1495 1215.6,1494.2 1218.3,1493.5 1221,1493 1223.8,1492.8 1226.5,1492.8 1229.3,1492.8 1232,1492.8 1234.7,1492.8 1237.5,1492.8 1240.2,1492.8 1243,1492.8 1245.7,1492.8 1248.4,1492.8 1251.2,1492.8 1253.9,1492.8 1256.6,1492.8 1259.4,1492.8 1262.1,1492.8 1264.9,1492.8 1267.6,1492.8 1270.3,1492.8 1273.1,1492.9 1275.8,1493.3 1278.6,1493.9 1281.3,1494.7 1284,1495.6 1286.8,1496.9 1289.5,1498.4 1292.3,1500.2 1295,1502.3 1297.7,1504.9 1300.5,1508.1 1303.2,1512.2 1306,1517.8 1308.7,1532.2 1308.7,1532.2 1306,1546.7 1303.2,1552.3 1300.5,1556.4 1297.7,1559.6 1295,1562.2 1292.3,1564.3 1289.5,1566.1 1286.8,1567.6 1284,1568.9 1281.3,1569.8 1278.6,1570.6 1275.8,1571.2 1273.1,1571.6 1270.3,1571.7 1267.6,1571.8 1264.9,1571.8 1262.1,1571.8 1259.4,1571.8 1256.6,1571.8 1253.9,1571.8 1251.2,1571.8 1248.4,1571.8 1245.7,1571.8 1243,1571.8 1240.2,1571.8 1237.5,1571.8 1234.7,1571.8 1232,1571.8 1229.3,1571.8 1226.5,1571.8 1223.8,1571.7 1221,1571.5 1218.3,1571 1215.6,1570.3 1212.8,1569.5 1210.1,1568.5 1207.3,1567.3 1204.6,1566.1 1201.9,1564.8 1199.1,1563.4 1196.4,1561.9 1193.6,1560.5 1190.9,1559 1188.2,1557.6 1185.4,1556.2 1182.7,1554.8 1179.9,1553.6 1177.2,1552.5 1174.5,1551.5 1171.7,1550.6 1169,1550 1166.2,1549.5 1163.5,1549.3 1160.8,1549.2 1158,1549.2 1155.3,1549.2 1152.5,1549.2 1149.8,1549.2 1147.1,1549.2 1144.3,1549.2 1141.6,1549.2 1138.9,1549.2 1136.1,1549.2 1133.4,1549.2 1130.6,1549.2 1127.9,1549.4 1125.2,1549.7 1122.4,1550.4 1119.7,1551.2 1116.9,1552.2 1114.2,1553.4 1111.5,1554.8 1108.7,1556.2 1106,1557.7 1103.2,1559.3 1100.5,1560.9 1097.8,1562.5 1095,1564 1092.3,1565.5 1089.5,1566.9 1086.8,1568.2 1084.1,1569.3 1081.3,1570.3 1078.6,1571 1075.8,1571.5 1073.1,1571.7 1070.4,1571.8 1067.6,1571.8 1064.9,1571.8 1062.1,1571.8 1059.4,1571.8 1056.7,1571.8 1053.9,1571.8 1051.2,1571.8 1048.4,1571.8 1045.7,1571.8 1043,1571.8 1040.2,1571.8 1037.5,1571.8 1034.8,1571.8 1032,1571.8 1029.3,1571.8 1026.5,1571.8 1023.8,1571.8 1021.1,1571.7 1018.3,1571.6 1015.6,1571.2 1012.8,1570.6 1010.1,1569.8 1007.4,1568.9 1004.6,1567.6 1001.9,1566.1 999.1,1564.3 996.4,1562.2 993.7,1559.6 990.9,1556.4 988.2,1552.3 985.4,1546.7 982.7,1532.2Z" fill="#f3b9ad"/>
<g fill="#8f1a2a" stroke="#bf0f16" stroke-width="1.7">
<circle cx="1127.6" cy="1528.6" r="2.1"/>
<circle cx="1162.4" cy="1532.2" r="2.1"/>
<circle cx="1122.8" cy="1531.4" r="2.1"/>
<circle cx="1056.5" cy="1539.7" r="2.1"/>
<circle cx="1085.7" cy="1522.4" r="2.1"/>
<circle cx="1184.4" cy="1533.3" r="2.1"/>
<circle cx="1035" cy="1533.5" r="2.1"/>
<circle cx="1050.3" cy="1549.1" r="2.1"/>
<circle cx="1255.9" cy="1532.4" r="2.1"/>
<circle cx="1253.6" cy="1509.6" r="2.1"/>
<circle cx="1148.8" cy="1528.9" r="2.1"/>
<circle cx="1032.7" cy="1537.8" r="2.1"/>
<circle cx="1063.1" cy="1510.5" r="2.1"/>
<circle cx="1061.3" cy="1524.2" r="2.1"/>
<circle cx="1137.3" cy="1530.1" r="2.1"/>
<circle cx="1190.3" cy="1532.3" r="2.1"/>
<circle cx="1237.3" cy="1537.2" r="2.1"/>
<circle cx="1043.5" cy="1543.7" r="2.1"/>
<circle cx="1289.8" cy="1532.8" r="2.1"/>
<circle cx="1266.8" cy="1524" r="2.1"/>
<circle cx="1167.8" cy="1532.1" r="2.1"/>
<circle cx="1127.8" cy="1535.2" r="2.1"/>
<circle cx="1158.1" cy="1536.7" r="2.1"/>
<circle cx="1106.2" cy="1540" r="2.1"/>
<circle cx="1118.4" cy="1528" r="2.1"/>
<circle cx="1069.6" cy="1509" r="2.1"/>
<circle cx="1298.8" cy="1542.2" r="2.1"/>
<circle cx="1228.5" cy="1514.6" r="2.1"/>
<circle cx="1083.7" cy="1533.9" r="2.1"/>
<circle cx="1103.2" cy="1521.8" r="2.1"/>
<circle cx="1295.5" cy="1530.9" r="2.1"/>
<circle cx="1073.4" cy="1526.7" r="2.1"/>
<circle cx="1249.1" cy="1545.8" r="2.1"/>
<circle cx="1110.1" cy="1524.7" r="2.1"/>
<circle cx="1238.5" cy="1520.1" r="2.1"/>
<circle cx="1172.6" cy="1528.9" r="2.1"/>
<circle cx="1197" cy="1529.1" r="2.1"/>
<circle cx="1101.4" cy="1534.1" r="2.1"/>
<circle cx="1292.4" cy="1517.5" r="2.1"/>
<circle cx="1089.9" cy="1514.6" r="2.1"/>
<circle cx="1220.4" cy="1541.4" r="2.1"/>
<circle cx="1191.4" cy="1536.9" r="2.1"/>
<circle cx="1046" cy="1554" r="2.1"/>
<circle cx="1232.5" cy="1512.6" r="2.1"/>
<circle cx="1260.5" cy="1546.4" r="2.1"/>
<circle cx="1061.5" cy="1556.6" r="2.1"/>
<circle cx="1074.7" cy="1554.7" r="2.1"/>
<circle cx="1180.5" cy="1537.1" r="2.1"/>
<circle cx="1185.1" cy="1526.9" r="2.1"/>
<circle cx="1175.2" cy="1532.6" r="2.1"/>
<circle cx="1069.2" cy="1515.6" r="2.1"/>
<circle cx="1027.6" cy="1520.8" r="2.1"/>
<circle cx="996.8" cy="1536.1" r="2.1"/>
<circle cx="1023" cy="1521" r="2.1"/>
<circle cx="1253.1" cy="1559.6" r="2.1"/>
<circle cx="1008.7" cy="1519.6" r="2.1"/>
<circle cx="1191.2" cy="1524.2" r="2.1"/>
<circle cx="1260.8" cy="1517.2" r="2.1"/>
<circle cx="1239" cy="1507" r="2.1"/>
<circle cx="1064.2" cy="1544.3" r="2.1"/>
<circle cx="1020.6" cy="1506.9" r="2.1"/>
<circle cx="1009.7" cy="1511" r="2.1"/>
<circle cx="1007.1" cy="1527.8" r="2.1"/>
<circle cx="1198.9" cy="1522.1" r="2.1"/>
<circle cx="1262.7" cy="1529" r="2.1"/>
<circle cx="1232.4" cy="1548" r="2.1"/>
<circle cx="1148.1" cy="1536.8" r="2.1"/>
<circle cx="1095.6" cy="1532.1" r="2.1"/>
<circle cx="1223.5" cy="1552.4" r="2.1"/>
<circle cx="1120.9" cy="1535.8" r="2.1"/>
<circle cx="996.3" cy="1521.7" r="2.1"/>
<circle cx="1282.4" cy="1512.1" r="2.1"/>
<circle cx="1055.4" cy="1526.3" r="2.1"/>
<circle cx="1278" cy="1536.6" r="2.1"/>
<circle cx="1275.1" cy="1543.8" r="2.1"/>
<circle cx="1060.9" cy="1504.4" r="2.1"/>
<circle cx="1262.8" cy="1542.5" r="2.1"/>
<circle cx="1282.6" cy="1549.1" r="2.1"/>
<circle cx="1034" cy="1524.8" r="2.1"/>
<circle cx="1057.7" cy="1554" r="2.1"/>
<circle cx="1236.9" cy="1524.4" r="2.1"/>
<circle cx="1249.5" cy="1516.6" r="2.1"/>
<circle cx="1218" cy="1549.1" r="2.1"/>
<circle cx="1212.6" cy="1546.3" r="2.1"/>
<circle cx="1095.2" cy="1523.7" r="2.1"/>
<circle cx="1281.3" cy="1540.2" r="2.1"/>
<circle cx="1112.5" cy="1537.9" r="2.1"/>
<circle cx="1233.7" cy="1531.2" r="2.1"/>
<circle cx="1073.4" cy="1543.1" r="2.1"/>
<circle cx="1294.7" cy="1524.1" r="2.1"/>
<circle cx="1030.6" cy="1550.4" r="2.1"/>
<circle cx="1047.6" cy="1509" r="2.1"/>
<circle cx="1213.4" cy="1512.4" r="2.1"/>
<circle cx="1265.5" cy="1559.3" r="2.1"/>
<circle cx="1020.7" cy="1536" r="2.1"/>
<circle cx="1049.3" cy="1533.6" r="2.1"/>
<circle cx="1093.1" cy="1550.3" r="2.1"/>
<circle cx="1206.8" cy="1543.2" r="2.1"/>
<circle cx="1255.3" cy="1540.5" r="2.1"/>
<circle cx="1016.3" cy="1539.4" r="2.1"/>
<circle cx="1267.9" cy="1550.6" r="2.1"/>
<circle cx="1155.4" cy="1532.4" r="2.1"/>
<circle cx="1143.9" cy="1530.6" r="2.1"/>
<circle cx="998.3" cy="1544.7" r="2.1"/>
<circle cx="1002.6" cy="1527.6" r="2.1"/>
<circle cx="1023.1" cy="1516.3" r="2.1"/>
<circle cx="1283" cy="1526.1" r="2.1"/>
<circle cx="1271" cy="1521.1" r="2.1"/>
<circle cx="1290.6" cy="1539.9" r="2.1"/>
<circle cx="1097.3" cy="1546.8" r="2.1"/>
<circle cx="1206.6" cy="1534.3" r="2.1"/>
<circle cx="1283.3" cy="1535.7" r="2.1"/>
<circle cx="1071.5" cy="1519.4" r="2.1"/>
<circle cx="1046.1" cy="1524.1" r="2.1"/>
<circle cx="1055.9" cy="1507.4" r="2.1"/>
<circle cx="1023.8" cy="1532.6" r="2.1"/>
<circle cx="1015.1" cy="1556.1" r="2.1"/>
<circle cx="1057" cy="1530.7" r="2.1"/>
<circle cx="1079.7" cy="1513.8" r="2.1"/>
<circle cx="1205.3" cy="1539" r="2.1"/>
<circle cx="1089.3" cy="1548.1" r="2.1"/>
<circle cx="1068.9" cy="1533" r="2.1"/>
<circle cx="1202" cy="1526.2" r="2.1"/>
<circle cx="1003.8" cy="1544.9" r="2.1"/>
<circle cx="1013" cy="1522.7" r="2.1"/>
<circle cx="1206.8" cy="1516.6" r="2.1"/>
<circle cx="1075.6" cy="1548.7" r="2.1"/>
<circle cx="1262.6" cy="1506.3" r="2.1"/>
<circle cx="1061.3" cy="1536.3" r="2.1"/>
<circle cx="1004.2" cy="1517.8" r="2.1"/>
<circle cx="1223.4" cy="1526.4" r="2.1"/>
<circle cx="1091.3" cy="1535.5" r="2.1"/>
<circle cx="1142.3" cy="1536.8" r="2.1"/>
<circle cx="1024" cy="1557.7" r="2.1"/>
<circle cx="1097.4" cy="1537.8" r="2.1"/>
<circle cx="1041.6" cy="1529.2" r="2.1"/>
<circle cx="1132.7" cy="1535.9" r="2.1"/>
<circle cx="1194.4" cy="1543.9" r="2.1"/>
<circle cx="1285.7" cy="1515.9" r="2.1"/>
<circle cx="1295.2" cy="1549.2" r="2.1"/>
<circle cx="1274.1" cy="1530" r="2.1"/>
<circle cx="1207.6" cy="1527.6" r="2.1"/>
<circle cx="1009.4" cy="1540.9" r="2.1"/>
<circle cx="1106" cy="1533.9" r="2.1"/>
<circle cx="1075.5" cy="1517.2" r="2.1"/>
<circle cx="1084.6" cy="1548.2" r="2.1"/>
<circle cx="1277.4" cy="1558.8" r="2.1"/>
<circle cx="1054.2" cy="1551.2" r="2.1"/>
<circle cx="1015.9" cy="1551.4" r="2.1"/>
<circle cx="1087.6" cy="1541.6" r="2.1"/>
<circle cx="1243.1" cy="1513" r="2.1"/>
<circle cx="1279.1" cy="1530.8" r="2.1"/>
<circle cx="1068.3" cy="1557.7" r="2.1"/>
<circle cx="1244" cy="1546.7" r="2.1"/>
<circle cx="1035.7" cy="1529" r="2.1"/>
<circle cx="1024.9" cy="1510.6" r="2.1"/>
<circle cx="1300.2" cy="1529.9" r="2.1"/>
<circle cx="1227.9" cy="1543.7" r="2.1"/>
<circle cx="1019.2" cy="1518.6" r="2.1"/>
<circle cx="1244.2" cy="1559.8" r="2.1"/>
<circle cx="1009.9" cy="1552.6" r="2.1"/>
<circle cx="1217" cy="1523.4" r="2.1"/>
<circle cx="1269.6" cy="1542.4" r="2.1"/>
<circle cx="1222.9" cy="1537.1" r="2.1"/>
<circle cx="1233.7" cy="1508.1" r="2.1"/>
<circle cx="1028.6" cy="1540.2" r="2.1"/>
<circle cx="1090.7" cy="1522.5" r="2.1"/>
<circle cx="1024.7" cy="1537.5" r="2.1"/>
<circle cx="1217.5" cy="1518.2" r="2.1"/>
<circle cx="1256.4" cy="1516.3" r="2.1"/>
<circle cx="1076.5" cy="1531.7" r="2.1"/>
<circle cx="1105.2" cy="1527.4" r="2.1"/>
<circle cx="1246.4" cy="1553.4" r="2.1"/>
<circle cx="1297.1" cy="1536.3" r="2.1"/>
<circle cx="1068.5" cy="1526.6" r="2.1"/>
<circle cx="1215.7" cy="1528.4" r="2.1"/>
<circle cx="1049.6" cy="1538.7" r="2.1"/>
<circle cx="1014.8" cy="1532.3" r="2.1"/>
<circle cx="1271" cy="1505.9" r="2.1"/>
<circle cx="1281.8" cy="1556.6" r="2.1"/>
<circle cx="1042.9" cy="1549.8" r="2.1"/>
<circle cx="1237.6" cy="1511.9" r="2.1"/>
<circle cx="1049.1" cy="1516.6" r="2.1"/>
<circle cx="1239.8" cy="1559.7" r="2.1"/>
<circle cx="1048.9" cy="1560.1" r="2.1"/>
<circle cx="1212.1" cy="1551.3" r="2.1"/>
<circle cx="1111.1" cy="1532.8" r="2.1"/>
<circle cx="1079.4" cy="1552.3" r="2.1"/>
<circle cx="1229.5" cy="1534.8" r="2.1"/>
<circle cx="1214.4" cy="1540.9" r="2.1"/>
<circle cx="1099.4" cy="1518.6" r="2.1"/>
<circle cx="1131.8" cy="1531.7" r="2.1"/>
<circle cx="994.3" cy="1529.8" r="2.1"/>
<circle cx="1039.1" cy="1521.1" r="2.1"/>
<circle cx="1116.6" cy="1532.5" r="2.1"/>
<circle cx="1076.5" cy="1510.3" r="2.1"/>
<circle cx="1195.1" cy="1518.5" r="2.1"/>
<circle cx="1200.4" cy="1515.7" r="2.1"/>
<circle cx="1287.7" cy="1551.9" r="2.1"/>
<circle cx="1041" cy="1555.1" r="2.1"/>
<circle cx="1019.6" cy="1555.5" r="2.1"/>
<circle cx="1244.4" cy="1527.3" r="2.1"/>
<circle cx="1199" cy="1534.3" r="2.1"/>
<circle cx="1255.6" cy="1548.9" r="2.1"/>
<circle cx="1078.6" cy="1525.7" r="2.1"/>
<circle cx="1277.1" cy="1525.8" r="2.1"/>
<circle cx="1044.1" cy="1534.9" r="2.1"/>
<circle cx="1289.9" cy="1521.2" r="2.1"/>
<circle cx="1206.4" cy="1552" r="2.1"/>
<circle cx="1252.9" cy="1523.2" r="2.1"/>
<circle cx="1249.2" cy="1508.2" r="2.1"/>
<circle cx="1034" cy="1543.6" r="2.1"/>
<circle cx="1291.4" cy="1513" r="2.1"/>
<circle cx="1228.2" cy="1530.6" r="2.1"/>
<circle cx="1084.1" cy="1552.7" r="2.1"/>
<circle cx="1153.5" cy="1536.6" r="2.1"/>
<circle cx="1226.8" cy="1519.1" r="2.1"/>
<circle cx="1011" cy="1548.2" r="2.1"/>
<circle cx="1099" cy="1526.3" r="2.1"/>
<circle cx="1250.5" cy="1539.2" r="2.1"/>
<circle cx="1272.3" cy="1551.3" r="2.1"/>
<circle cx="1167.5" cy="1536.9" r="2.1"/>
<circle cx="1062.8" cy="1548.9" r="2.1"/>
<circle cx="1055.3" cy="1544.1" r="2.1"/>
<circle cx="1273.9" cy="1517.1" r="2.1"/>
<circle cx="1277" cy="1550.8" r="2.1"/>
<circle cx="1222.8" cy="1515.1" r="2.1"/>
<circle cx="1226.1" cy="1508.5" r="2.1"/>
<circle cx="1257.2" cy="1554.5" r="2.1"/>
<circle cx="1038.3" cy="1537.6" r="2.1"/>
<circle cx="1248.8" cy="1530.1" r="2.1"/>
<circle cx="1072.7" cy="1537.1" r="2.1"/>
<circle cx="1215.8" cy="1507" r="2.1"/>
<circle cx="1092.8" cy="1542.4" r="2.1"/>
<circle cx="1037.1" cy="1558.1" r="2.1"/>
<circle cx="1114" cy="1528.2" r="2.1"/>
<circle cx="1280.5" cy="1508.2" r="2.1"/>
<circle cx="1051.1" cy="1542.7" r="2.1"/>
<circle cx="1268.2" cy="1514.2" r="2.1"/>
<circle cx="1260.5" cy="1538.1" r="2.1"/>
<circle cx="1233.9" cy="1516.7" r="2.1"/>
<circle cx="1017.1" cy="1525.8" r="2.1"/>
<circle cx="996.2" cy="1540.9" r="2.1"/>
<circle cx="1245.7" cy="1533.5" r="2.1"/>
<circle cx="1266.8" cy="1532.4" r="2.1"/>
<circle cx="1020.1" cy="1545.2" r="2.1"/>
<circle cx="1066.7" cy="1552.8" r="2.1"/>
<circle cx="1202.2" cy="1544.1" r="2.1"/>
<circle cx="1247.6" cy="1512.3" r="2.1"/>
<circle cx="1229.2" cy="1554.2" r="2.1"/>
<circle cx="1087.8" cy="1528.4" r="2.1"/>
<circle cx="1030.8" cy="1512.7" r="2.1"/>
<circle cx="1083.3" cy="1518.2" r="2.1"/>
<circle cx="1101.7" cy="1541.4" r="2.1"/>
<circle cx="1217.7" cy="1511.2" r="2.1"/>
<circle cx="1186.1" cy="1537.5" r="2.1"/>
<circle cx="1261.6" cy="1556.5" r="2.1"/>
<circle cx="1285.4" cy="1542.2" r="2.1"/>
<circle cx="1210.4" cy="1556.2" r="2.1"/>
<circle cx="1292.8" cy="1545.3" r="2.1"/>
<circle cx="1068.1" cy="1541.6" r="2.1"/>
<circle cx="1035.5" cy="1516.9" r="2.1"/>
<circle cx="1153.1" cy="1528.6" r="2.1"/>
<circle cx="1005.6" cy="1536.4" r="2.1"/>
<circle cx="1066.7" cy="1519.1" r="2.1"/>
<circle cx="1235" cy="1543.4" r="2.1"/>
<circle cx="1052.7" cy="1522.3" r="2.1"/>
<circle cx="1083.9" cy="1538.9" r="2.1"/>
<circle cx="1030.7" cy="1517.5" r="2.1"/>
<circle cx="1261.9" cy="1523" r="2.1"/>
<circle cx="1025.8" cy="1552.7" r="2.1"/>
<circle cx="1205" cy="1522.8" r="2.1"/>
<circle cx="1270.6" cy="1557.6" r="2.1"/>
<circle cx="1003.6" cy="1532.4" r="2.1"/>
<circle cx="1188.5" cy="1541.3" r="2.1"/>
<circle cx="1158" cy="1528.7" r="2.1"/>
<circle cx="1016.5" cy="1510.2" r="2.1"/>
<circle cx="1223" cy="1557.1" r="2.1"/>
<circle cx="1277.1" cy="1513.5" r="2.1"/>
<circle cx="1247.6" cy="1522.4" r="2.1"/>
<circle cx="1080.9" cy="1543.6" r="2.1"/>
<circle cx="1197.9" cy="1548" r="2.1"/>
<circle cx="1267" cy="1518.4" r="2.1"/>
<circle cx="1197.7" cy="1538.6" r="2.1"/>
<circle cx="1056.2" cy="1519.7" r="2.1"/>
<circle cx="1094.3" cy="1518.8" r="2.1"/>
<circle cx="1235" cy="1557.7" r="2.1"/>
<circle cx="1035.4" cy="1554" r="2.1"/>
<circle cx="1286.1" cy="1530.2" r="2.1"/>
<circle cx="1077.6" cy="1536.7" r="2.1"/>
<circle cx="1250.5" cy="1555.5" r="2.1"/>
<circle cx="1002.5" cy="1522.2" r="2.1"/>
<circle cx="1038.9" cy="1546.1" r="2.1"/>
<circle cx="1212.2" cy="1536.4" r="2.1"/>
<circle cx="1092.2" cy="1527.9" r="2.1"/>
<circle cx="1223" cy="1546.3" r="2.1"/>
<circle cx="1240.4" cy="1540.6" r="2.1"/>
<circle cx="1003.9" cy="1512.7" r="2.1"/>
<circle cx="1005.6" cy="1550.6" r="2.1"/>
<circle cx="1012" cy="1506.9" r="2.1"/>
<circle cx="1034.7" cy="1508.9" r="2.1"/>
<circle cx="1057.1" cy="1513.5" r="2.1"/>
<circle cx="1270.2" cy="1537.6" r="2.1"/>
<circle cx="1280.7" cy="1516.5" r="2.1"/>
<circle cx="1217.7" cy="1534.4" r="2.1"/>
<circle cx="1137.7" cy="1534.9" r="2.1"/>
<circle cx="1257.6" cy="1507.3" r="2.1"/>
<circle cx="1299.2" cy="1524.9" r="2.1"/>
<circle cx="1029.2" cy="1531" r="2.1"/>
<circle cx="1282.8" cy="1521.7" r="2.1"/>
<circle cx="1041.1" cy="1511.4" r="2.1"/>
<circle cx="1060.9" cy="1516.4" r="2.1"/>
<circle cx="1207.3" cy="1510.4" r="2.1"/>
<circle cx="1023.2" cy="1549.1" r="2.1"/>
<circle cx="1056" cy="1559.8" r="2.1"/>
<circle cx="1210.9" cy="1521.5" r="2.1"/>
<circle cx="1017.6" cy="1559.9" r="2.1"/>
<circle cx="1241.9" cy="1517.3" r="2.1"/>
<circle cx="1253.1" cy="1528.3" r="2.1"/>
<circle cx="1043.6" cy="1559.1" r="2.1"/>
<circle cx="1024.1" cy="1527.8" r="2.1"/>
<circle cx="1179.7" cy="1529.6" r="2.1"/>
<circle cx="1235.6" cy="1552.1" r="2.1"/>
<circle cx="1232.3" cy="1526.4" r="2.1"/>
<circle cx="1239.6" cy="1530.4" r="2.1"/>
<circle cx="999.6" cy="1530.8" r="2.1"/>
<circle cx="1208.5" cy="1547.9" r="2.1"/>
<circle cx="1219.8" cy="1530.2" r="2.1"/>
<circle cx="1226.7" cy="1560" r="2.1"/>
<circle cx="1010.3" cy="1531.3" r="2.1"/>
<circle cx="1015.2" cy="1516.2" r="2.1"/>
<circle cx="1070.4" cy="1546.7" r="2.1"/>
<circle cx="1231.7" cy="1539.1" r="2.1"/>
<circle cx="1222.5" cy="1505.5" r="2.1"/>
<circle cx="1218.7" cy="1554.6" r="2.1"/>
<circle cx="1044.1" cy="1514.7" r="2.1"/>
<circle cx="1286.2" cy="1510.1" r="2.1"/>
<circle cx="1027.9" cy="1525.2" r="2.1"/>
<circle cx="1078.3" cy="1520.9" r="2.1"/>
<circle cx="1265.2" cy="1546.9" r="2.1"/>
<circle cx="1297.2" cy="1519.4" r="2.1"/>
<circle cx="1280.3" cy="1544.9" r="2.1"/>
<circle cx="1218.8" cy="1559.5" r="2.1"/>
<circle cx="1029.7" cy="1556.6" r="2.1"/>
<circle cx="1262.3" cy="1512.3" r="2.1"/>
<circle cx="1001.7" cy="1539.7" r="2.1"/>
<circle cx="1230.9" cy="1520.7" r="2.1"/>
<circle cx="1052.5" cy="1512.5" r="2.1"/>
<circle cx="998.7" cy="1517.1" r="2.1"/>
<circle cx="1029.1" cy="1544.7" r="2.1"/>
<circle cx="1222.3" cy="1510.7" r="2.1"/>
<circle cx="1260.4" cy="1532.9" r="2.1"/>
<circle cx="1275.1" cy="1507" r="2.1"/>
<circle cx="1265.8" cy="1538.2" r="2.1"/>
<circle cx="1011.2" cy="1536.3" r="2.1"/>
<circle cx="1171.7" cy="1535.1" r="2.1"/>
<circle cx="1063.3" cy="1530.4" r="2.1"/>
<circle cx="1258.1" cy="1526.2" r="2.1"/>
<circle cx="1245" cy="1541.2" r="2.1"/>
<circle cx="1277.7" cy="1521.2" r="2.1"/>
<circle cx="1042.8" cy="1505.9" r="2.1"/>
<circle cx="1019.4" cy="1530.8" r="2.1"/>
<circle cx="1073.5" cy="1506.1" r="2.1"/>
<circle cx="1272.6" cy="1510.7" r="2.1"/>
<circle cx="1015.3" cy="1543.8" r="2.1"/>
<circle cx="1162.8" cy="1536.6" r="2.1"/>
<circle cx="1250.1" cy="1534.8" r="2.1"/>
<circle cx="1083.7" cy="1509.9" r="2.1"/>
<circle cx="1202.3" cy="1550.4" r="2.1"/>
<circle cx="1288.8" cy="1547.7" r="2.1"/>
<circle cx="1244.2" cy="1506.3" r="2.1"/>
<circle cx="1214.3" cy="1558.5" r="2.1"/>
<circle cx="1079.3" cy="1557.5" r="2.1"/>
<circle cx="997.6" cy="1526.7" r="2.1"/>
<circle cx="1210.9" cy="1532.1" r="2.1"/>
<circle cx="1025.8" cy="1506.1" r="2.1"/>
<circle cx="1072.4" cy="1512.3" r="2.1"/>
<circle cx="1066.7" cy="1505.4" r="2.1"/>
<circle cx="1046" cy="1529.9" r="2.1"/>
<circle cx="1242.8" cy="1550.9" r="2.1"/>
<circle cx="1150.9" cy="1533" r="2.1"/>
<circle cx="1029.8" cy="1508.1" r="2.1"/>
<circle cx="1050.3" cy="1528.4" r="2.1"/>
<circle cx="1060.5" cy="1560.8" r="2.1"/>
<circle cx="1042.6" cy="1539.1" r="2.1"/>
<circle cx="1290.1" cy="1527.2" r="2.1"/>
<circle cx="1082.9" cy="1527.9" r="2.1"/>
<circle cx="1262.6" cy="1550.3" r="2.1"/>
<circle cx="1211.3" cy="1508.4" r="2.1"/>
<circle cx="1052.1" cy="1556.4" r="2.1"/>
<circle cx="1039.4" cy="1533.1" r="2.1"/>
<circle cx="1268.4" cy="1528.3" r="2.1"/>
<circle cx="1001.2" cy="1550.1" r="2.1"/>
<circle cx="1044.2" cy="1520.1" r="2.1"/>
<circle cx="1239.2" cy="1545.3" r="2.1"/>
<circle cx="1211.9" cy="1517" r="2.1"/>
<circle cx="1035" cy="1548.6" r="2.1"/>
<circle cx="1266.6" cy="1510" r="2.1"/>
<circle cx="1287" cy="1556.2" r="2.1"/>
<circle cx="1242" cy="1555.3" r="2.1"/>
<circle cx="1116.9" cy="1537.4" r="2.1"/>
<circle cx="1089.2" cy="1552.5" r="2.1"/>
<circle cx="1227.2" cy="1523.8" r="2.1"/>
<circle cx="1047.5" cy="1545.6" r="2.1"/>
<circle cx="1051.4" cy="1504.6" r="2.1"/>
<circle cx="1024.4" cy="1544.5" r="2.1"/>
<circle cx="1271.3" cy="1546.5" r="2.1"/>
<circle cx="1256.7" cy="1520.6" r="2.1"/>
<circle cx="1054.7" cy="1534.6" r="2.1"/>
<circle cx="1253.2" cy="1544.3" r="2.1"/>
<circle cx="1243.1" cy="1522.1" r="2.1"/>
<circle cx="1009.1" cy="1557.2" r="2.1"/>
<circle cx="1257.2" cy="1512" r="2.1"/>
<circle cx="1203.8" cy="1530.3" r="2.1"/>
<circle cx="1013" cy="1527.3" r="2.1"/>
<circle cx="1251.6" cy="1550.4" r="2.1"/>
<circle cx="1227.4" cy="1549.5" r="2.1"/>
<circle cx="1221.8" cy="1521.9" r="2.1"/>
<circle cx="1266.6" cy="1554.9" r="2.1"/>
<circle cx="1018.8" cy="1513.9" r="2.1"/>
<circle cx="1059.9" cy="1542.5" r="2.1"/>
<circle cx="1211.6" cy="1526" r="2.1"/>
<circle cx="1227.1" cy="1539" r="2.1"/>
<circle cx="1165.7" cy="1528.4" r="2.1"/>
<circle cx="1176.2" cy="1537.7" r="2.1"/>
<circle cx="1070.8" cy="1551.2" r="2.1"/>
<circle cx="1292.2" cy="1552.3" r="2.1"/>
<circle cx="1038.8" cy="1525.6" r="2.1"/>
<circle cx="1058.4" cy="1547.5" r="2.1"/>
<circle cx="1223.4" cy="1532.6" r="2.1"/>
<circle cx="1065.9" cy="1536.8" r="2.1"/>
<circle cx="1073.7" cy="1559.1" r="2.1"/>
<circle cx="1005.1" cy="1554.9" r="2.1"/>
<circle cx="1194.8" cy="1533.6" r="2.1"/>
<circle cx="1186.9" cy="1522.7" r="2.1"/>
<circle cx="1020.7" cy="1540.7" r="2.1"/>
<circle cx="1230.9" cy="1559" r="2.1"/>
<circle cx="1248.5" cy="1559.7" r="2.1"/>
<circle cx="1010.8" cy="1515.8" r="2.1"/>
<circle cx="1229.8" cy="1505.8" r="2.1"/>
</g>
<g fill="#f7d9d2" stroke="#2446d8" stroke-width="1.5">
<circle cx="1026.7" cy="1495.3" r="2.7"/>
<circle cx="1048" cy="1495.3" r="2.7"/>
<circle cx="1072" cy="1500.3" r="2.7"/>
<circle cx="1098.2" cy="1511.3" r="2.7"/>
<circle cx="1122.2" cy="1519.7" r="2.7"/>
<circle cx="1139.9" cy="1523.5" r="2.7"/>
<circle cx="1162.3" cy="1521.5" r="2.7"/>
<circle cx="1183.2" cy="1513.8" r="2.7"/>
<circle cx="1203.9" cy="1505.2" r="2.7"/>
<circle cx="1233" cy="1495.7" r="2.7"/>
<circle cx="1257.4" cy="1496.7" r="2.7"/>
<circle cx="1275.1" cy="1501.8" r="2.7"/>
<circle cx="1295" cy="1512.3" r="2.7"/>
<circle cx="1000.9" cy="1505.4" r="2.7"/>
<circle cx="988" cy="1521.7" r="2.7"/>
<circle cx="986.4" cy="1534.3" r="2.7"/>
<circle cx="989.5" cy="1545.9" r="2.7"/>
<circle cx="997.6" cy="1559.1" r="2.7"/>
<circle cx="1010.4" cy="1564.2" r="2.7"/>
<circle cx="1028.7" cy="1567.4" r="2.7"/>
<circle cx="1047.6" cy="1568.5" r="2.7"/>
<circle cx="1070.8" cy="1567.4" r="2.7"/>
<circle cx="1091.3" cy="1563.4" r="2.7"/>
<circle cx="1112.7" cy="1557.3" r="2.7"/>
<circle cx="1134.4" cy="1550.6" r="2.7"/>
<circle cx="1154.7" cy="1551" r="2.7"/>
<circle cx="1175.7" cy="1556.3" r="2.7"/>
<circle cx="1196" cy="1562.4" r="2.7"/>
<circle cx="1221.8" cy="1568.2" r="2.7"/>
<circle cx="1250.7" cy="1569.5" r="2.7"/>
<circle cx="1274.1" cy="1564.2" r="2.7"/>
<circle cx="1292" cy="1555.6" r="2.7"/>
<circle cx="1304.8" cy="1532.3" r="2.7"/>
</g>
<g fill="url(#agnp)">
<circle cx="996.5" cy="1488.3" r="7.2"/>
<circle cx="1008.7" cy="1484.2" r="7.2"/>
<circle cx="997.5" cy="1478" r="7.2"/>
<circle cx="1116.5" cy="1496.4" r="7.2"/>
<circle cx="1148" cy="1498.4" r="7.2"/>
<circle cx="1124.6" cy="1503.5" r="7.2"/>
<circle cx="1127.6" cy="1488.3" r="7.2"/>
<circle cx="1136.8" cy="1501.5" r="7.2"/>
<circle cx="1222.2" cy="1483.2" r="7.2"/>
<circle cx="1247.6" cy="1481.2" r="7.2"/>
<circle cx="1227.2" cy="1475" r="7.2"/>
<circle cx="1235.4" cy="1483.2" r="7.2"/>
</g>
</g>
</svg>
</body></html>
